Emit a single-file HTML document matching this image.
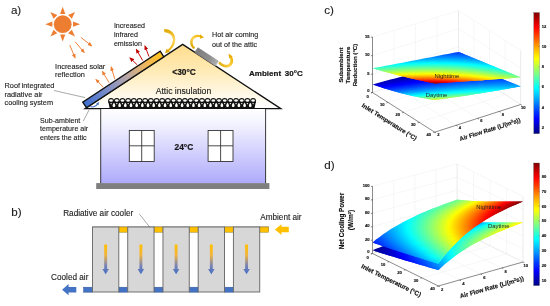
<!DOCTYPE html>
<html lang="en">
<head>
<meta charset="utf-8">
<title>Roof integrated radiative air cooling system</title>
<style>
html,body{margin:0;padding:0;background:#fff;}
body{width:550px;height:306px;overflow:hidden;}
svg{display:block;font-family:"Liberation Sans",Arial,sans-serif;}
.t{font-size:7.15px;fill:#222;stroke:#222;stroke-width:0.12px;}
.tb{font-size:8.35px;font-weight:bold;fill:#141414;stroke:#141414;stroke-width:0.2px;}
.lbl{font-size:11.6px;fill:#1a1a1a;stroke:#1a1a1a;stroke-width:0.12px;}
.t2{font-size:8.2px;fill:#222;stroke:#222;stroke-width:0.12px;}
.ax{font-size:6.15px;font-weight:bold;fill:#111;stroke:#111;stroke-width:0.15px;}
.tk text{font-size:4.1px;font-weight:bold;fill:#1a1a1a;stroke:#1a1a1a;stroke-width:0.18px;}
.sl{font-size:5.9px;fill:#1f1f1f;}
</style>
</head>
<body>
<svg width="550" height="306" viewBox="0 0 550 306">
<defs>
<linearGradient id="gattic" x1="0" y1="0" x2="0" y2="1">
<stop offset="0" stop-color="#fedc8c"/><stop offset="0.4" stop-color="#ffeab4"/><stop offset="0.72" stop-color="#fff6df"/><stop offset="0.95" stop-color="#fffefc"/>
</linearGradient>
<linearGradient id="ghouse" x1="0" y1="0" x2="0" y2="1">
<stop offset="0" stop-color="#ffffff"/><stop offset="0.2" stop-color="#f3f3ff"/><stop offset="1" stop-color="#aeaafb"/>
</linearGradient>
<linearGradient id="gpanel" gradientUnits="userSpaceOnUse" x1="85" y1="104" x2="162" y2="54">
<stop offset="0" stop-color="#3f6fd0"/><stop offset="0.3" stop-color="#7f8fc8"/><stop offset="0.55" stop-color="#b9a7a6"/><stop offset="0.8" stop-color="#f0b85a"/><stop offset="1" stop-color="#ffc21a"/>
</linearGradient>
<linearGradient id="gvent" gradientUnits="userSpaceOnUse" x1="196" y1="50" x2="218" y2="64">
<stop offset="0" stop-color="#7c7c7c"/><stop offset="0.6" stop-color="#8e8e8e"/><stop offset="1" stop-color="#b4b4b4"/>
</linearGradient>
<linearGradient id="garr" x1="0" y1="0" x2="0" y2="1">
<stop offset="0" stop-color="#ffc000"/><stop offset="0.35" stop-color="#f3b43a"/><stop offset="0.7" stop-color="#7d84b4"/><stop offset="1" stop-color="#3f6fc6"/>
</linearGradient>
<linearGradient id="ggold1" gradientUnits="userSpaceOnUse" x1="165" y1="30" x2="168" y2="52">
<stop offset="0" stop-color="#e0a800"/><stop offset="0.5" stop-color="#ffd65c"/><stop offset="1" stop-color="#e8ad00"/>
</linearGradient>
<linearGradient id="ggold2" gradientUnits="userSpaceOnUse" x1="194" y1="49" x2="203" y2="36">
<stop offset="0" stop-color="#d9a300"/><stop offset="0.5" stop-color="#ffd24d"/><stop offset="1" stop-color="#eeb100"/>
</linearGradient>
<linearGradient id="ggold3" gradientUnits="userSpaceOnUse" x1="219" y1="66" x2="230" y2="55">
<stop offset="0" stop-color="#d9a300"/><stop offset="0.5" stop-color="#ffd24d"/><stop offset="1" stop-color="#eeb100"/>
</linearGradient>
<marker id="mo" viewBox="0 0 10 10" refX="7" refY="5" markerWidth="5.1" markerHeight="5.1" orient="auto-start-reverse"><path d="M0 1 L10 5 L0 9 Z" fill="#ed7d31"/></marker>
<marker id="mr" viewBox="0 0 10 10" refX="7" refY="5" markerWidth="5.1" markerHeight="5.1" orient="auto-start-reverse"><path d="M0 1 L10 5 L0 9 Z" fill="#c00000"/></marker>
</defs>
<rect width="550" height="306" fill="#fff"/>

<!-- ===== panel a ===== -->
<text class="lbl" x="10.9" y="13.6">a)</text>
<!-- sun -->
<g fill="#ed7d31">
<circle cx="62.7" cy="24.2" r="8.9"/>
<g id="ray"><path d="M62.7 6.8 L65.3 13.9 L60.1 13.9 Z"/></g>
<use href="#ray" transform="rotate(45 62.7 24.2)"/>
<use href="#ray" transform="rotate(90 62.7 24.2)"/>
<use href="#ray" transform="rotate(135 62.7 24.2)"/>
<use href="#ray" transform="rotate(180 62.7 24.2)"/>
<use href="#ray" transform="rotate(225 62.7 24.2)"/>
<use href="#ray" transform="rotate(270 62.7 24.2)"/>
<use href="#ray" transform="rotate(315 62.7 24.2)"/>
</g>
<!-- sun arrows -->
<g stroke="#ed7d31" stroke-width="0.95" fill="none" marker-end="url(#mo)">
<line x1="69.8" y1="45.1" x2="74.9" y2="57.4"/>
<line x1="75.2" y1="41.8" x2="83.9" y2="52.2"/>
<line x1="80.9" y1="37.4" x2="91.3" y2="45.5"/>
<line x1="103.4" y1="87.3" x2="96.3" y2="79.8"/>
<line x1="109.1" y1="82.7" x2="102.6" y2="71.8"/>
<line x1="114.8" y1="79.1" x2="111.3" y2="67.5"/>
</g>
<g stroke="#c00000" stroke-width="0.95" fill="none" marker-end="url(#mr)">
<line x1="137.2" y1="64.8" x2="130.3" y2="58.2"/>
<line x1="142.7" y1="60.5" x2="136.5" y2="49.8"/>
<line x1="149" y1="56.6" x2="145.1" y2="46.4"/>
</g>

<!-- roof / attic -->
<path d="M182.7 44.4 L280.8 108.7 L85.1 108.7 Z" fill="url(#gattic)" stroke="#111" stroke-width="1.3" stroke-linejoin="miter"/>
<!-- house body -->
<rect x="100.7" y="109" width="164.9" height="74.4" fill="url(#ghouse)"/>
<line x1="100.7" y1="109" x2="100.7" y2="183.4" stroke="#222" stroke-width="0.9"/>
<line x1="265.6" y1="109" x2="265.6" y2="183.4" stroke="#222" stroke-width="0.9"/>
<rect x="96.2" y="183.1" width="173.2" height="5.9" fill="#7f7f7f"/>
<!-- windows -->
<g fill="#fff" stroke="#2a2a2a" stroke-width="0.85">
<rect x="129.3" y="130.5" width="24.9" height="31"/>
<rect x="208.1" y="130.5" width="24.9" height="31"/>
</g>
<g stroke="#2a2a2a" stroke-width="0.85">
<line x1="141.7" y1="130.5" x2="141.7" y2="161.5"/><line x1="129.3" y1="145.8" x2="154.2" y2="145.8"/>
<line x1="220.6" y1="130.5" x2="220.6" y2="161.5"/><line x1="208.1" y1="145.8" x2="233" y2="145.8"/>
</g>
<!-- insulation coils -->
<g fill="#111"><path d="M108.3 101.2L255.9 101.2L254.6 108.2L109.6 108.2Z"/><circle cx="111.1" cy="100.9" r="2.95"/><circle cx="116.78" cy="100.9" r="2.95"/><circle cx="122.46" cy="100.9" r="2.95"/><circle cx="128.14" cy="100.9" r="2.95"/><circle cx="133.82" cy="100.9" r="2.95"/><circle cx="139.5" cy="100.9" r="2.95"/><circle cx="145.18" cy="100.9" r="2.95"/><circle cx="150.86" cy="100.9" r="2.95"/><circle cx="156.54" cy="100.9" r="2.95"/><circle cx="162.22" cy="100.9" r="2.95"/><circle cx="167.9" cy="100.9" r="2.95"/><circle cx="173.58" cy="100.9" r="2.95"/><circle cx="179.26" cy="100.9" r="2.95"/><circle cx="184.94" cy="100.9" r="2.95"/><circle cx="190.62" cy="100.9" r="2.95"/><circle cx="196.3" cy="100.9" r="2.95"/><circle cx="201.98" cy="100.9" r="2.95"/><circle cx="207.66" cy="100.9" r="2.95"/><circle cx="213.34" cy="100.9" r="2.95"/><circle cx="219.02" cy="100.9" r="2.95"/><circle cx="224.7" cy="100.9" r="2.95"/><circle cx="230.38" cy="100.9" r="2.95"/><circle cx="236.06" cy="100.9" r="2.95"/><circle cx="241.74" cy="100.9" r="2.95"/><circle cx="247.42" cy="100.9" r="2.95"/><circle cx="253.1" cy="100.9" r="2.95"/></g><g fill="#fffdf8"><ellipse cx="111.1" cy="100.55" rx="1.8" ry="1.25"/><path d="M110.25 102.9L111.95 102.9L111.1 104.5Z"/><path d="M113.94 102.7C112.14 104.4 112.19 107.1 113.94 107.1C115.69 107.1 115.74 104.4 113.94 102.7Z"/><ellipse cx="116.78" cy="100.55" rx="1.8" ry="1.25"/><path d="M115.93 102.9L117.63 102.9L116.78 104.5Z"/><path d="M119.62 102.7C117.82 104.4 117.87 107.1 119.62 107.1C121.37 107.1 121.42 104.4 119.62 102.7Z"/><ellipse cx="122.46" cy="100.55" rx="1.8" ry="1.25"/><path d="M121.61 102.9L123.31 102.9L122.46 104.5Z"/><path d="M125.3 102.7C123.5 104.4 123.55 107.1 125.3 107.1C127.05 107.1 127.1 104.4 125.3 102.7Z"/><ellipse cx="128.14" cy="100.55" rx="1.8" ry="1.25"/><path d="M127.29 102.9L128.99 102.9L128.14 104.5Z"/><path d="M130.98 102.7C129.18 104.4 129.23 107.1 130.98 107.1C132.73 107.1 132.78 104.4 130.98 102.7Z"/><ellipse cx="133.82" cy="100.55" rx="1.8" ry="1.25"/><path d="M132.97 102.9L134.67 102.9L133.82 104.5Z"/><path d="M136.66 102.7C134.86 104.4 134.91 107.1 136.66 107.1C138.41 107.1 138.46 104.4 136.66 102.7Z"/><ellipse cx="139.5" cy="100.55" rx="1.8" ry="1.25"/><path d="M138.65 102.9L140.35 102.9L139.5 104.5Z"/><path d="M142.34 102.7C140.54 104.4 140.59 107.1 142.34 107.1C144.09 107.1 144.14 104.4 142.34 102.7Z"/><ellipse cx="145.18" cy="100.55" rx="1.8" ry="1.25"/><path d="M144.33 102.9L146.03 102.9L145.18 104.5Z"/><path d="M148.02 102.7C146.22 104.4 146.27 107.1 148.02 107.1C149.77 107.1 149.82 104.4 148.02 102.7Z"/><ellipse cx="150.86" cy="100.55" rx="1.8" ry="1.25"/><path d="M150.01 102.9L151.71 102.9L150.86 104.5Z"/><path d="M153.7 102.7C151.9 104.4 151.95 107.1 153.7 107.1C155.45 107.1 155.5 104.4 153.7 102.7Z"/><ellipse cx="156.54" cy="100.55" rx="1.8" ry="1.25"/><path d="M155.69 102.9L157.39 102.9L156.54 104.5Z"/><path d="M159.38 102.7C157.58 104.4 157.63 107.1 159.38 107.1C161.13 107.1 161.18 104.4 159.38 102.7Z"/><ellipse cx="162.22" cy="100.55" rx="1.8" ry="1.25"/><path d="M161.37 102.9L163.07 102.9L162.22 104.5Z"/><path d="M165.06 102.7C163.26 104.4 163.31 107.1 165.06 107.1C166.81 107.1 166.86 104.4 165.06 102.7Z"/><ellipse cx="167.9" cy="100.55" rx="1.8" ry="1.25"/><path d="M167.05 102.9L168.75 102.9L167.9 104.5Z"/><path d="M170.74 102.7C168.94 104.4 168.99 107.1 170.74 107.1C172.49 107.1 172.54 104.4 170.74 102.7Z"/><ellipse cx="173.58" cy="100.55" rx="1.8" ry="1.25"/><path d="M172.73 102.9L174.43 102.9L173.58 104.5Z"/><path d="M176.42 102.7C174.62 104.4 174.67 107.1 176.42 107.1C178.17 107.1 178.22 104.4 176.42 102.7Z"/><ellipse cx="179.26" cy="100.55" rx="1.8" ry="1.25"/><path d="M178.41 102.9L180.11 102.9L179.26 104.5Z"/><path d="M182.1 102.7C180.3 104.4 180.35 107.1 182.1 107.1C183.85 107.1 183.9 104.4 182.1 102.7Z"/><ellipse cx="184.94" cy="100.55" rx="1.8" ry="1.25"/><path d="M184.09 102.9L185.79 102.9L184.94 104.5Z"/><path d="M187.78 102.7C185.98 104.4 186.03 107.1 187.78 107.1C189.53 107.1 189.58 104.4 187.78 102.7Z"/><ellipse cx="190.62" cy="100.55" rx="1.8" ry="1.25"/><path d="M189.77 102.9L191.47 102.9L190.62 104.5Z"/><path d="M193.46 102.7C191.66 104.4 191.71 107.1 193.46 107.1C195.21 107.1 195.26 104.4 193.46 102.7Z"/><ellipse cx="196.3" cy="100.55" rx="1.8" ry="1.25"/><path d="M195.45 102.9L197.15 102.9L196.3 104.5Z"/><path d="M199.14 102.7C197.34 104.4 197.39 107.1 199.14 107.1C200.89 107.1 200.94 104.4 199.14 102.7Z"/><ellipse cx="201.98" cy="100.55" rx="1.8" ry="1.25"/><path d="M201.13 102.9L202.83 102.9L201.98 104.5Z"/><path d="M204.82 102.7C203.02 104.4 203.07 107.1 204.82 107.1C206.57 107.1 206.62 104.4 204.82 102.7Z"/><ellipse cx="207.66" cy="100.55" rx="1.8" ry="1.25"/><path d="M206.81 102.9L208.51 102.9L207.66 104.5Z"/><path d="M210.5 102.7C208.7 104.4 208.75 107.1 210.5 107.1C212.25 107.1 212.3 104.4 210.5 102.7Z"/><ellipse cx="213.34" cy="100.55" rx="1.8" ry="1.25"/><path d="M212.49 102.9L214.19 102.9L213.34 104.5Z"/><path d="M216.18 102.7C214.38 104.4 214.43 107.1 216.18 107.1C217.93 107.1 217.98 104.4 216.18 102.7Z"/><ellipse cx="219.02" cy="100.55" rx="1.8" ry="1.25"/><path d="M218.17 102.9L219.87 102.9L219.02 104.5Z"/><path d="M221.86 102.7C220.06 104.4 220.11 107.1 221.86 107.1C223.61 107.1 223.66 104.4 221.86 102.7Z"/><ellipse cx="224.7" cy="100.55" rx="1.8" ry="1.25"/><path d="M223.85 102.9L225.55 102.9L224.7 104.5Z"/><path d="M227.54 102.7C225.74 104.4 225.79 107.1 227.54 107.1C229.29 107.1 229.34 104.4 227.54 102.7Z"/><ellipse cx="230.38" cy="100.55" rx="1.8" ry="1.25"/><path d="M229.53 102.9L231.23 102.9L230.38 104.5Z"/><path d="M233.22 102.7C231.42 104.4 231.47 107.1 233.22 107.1C234.97 107.1 235.02 104.4 233.22 102.7Z"/><ellipse cx="236.06" cy="100.55" rx="1.8" ry="1.25"/><path d="M235.21 102.9L236.91 102.9L236.06 104.5Z"/><path d="M238.9 102.7C237.1 104.4 237.15 107.1 238.9 107.1C240.65 107.1 240.7 104.4 238.9 102.7Z"/><ellipse cx="241.74" cy="100.55" rx="1.8" ry="1.25"/><path d="M240.89 102.9L242.59 102.9L241.74 104.5Z"/><path d="M244.58 102.7C242.78 104.4 242.83 107.1 244.58 107.1C246.33 107.1 246.38 104.4 244.58 102.7Z"/><ellipse cx="247.42" cy="100.55" rx="1.8" ry="1.25"/><path d="M246.57 102.9L248.27 102.9L247.42 104.5Z"/><path d="M250.26 102.7C248.46 104.4 248.51 107.1 250.26 107.1C252.01 107.1 252.06 104.4 250.26 102.7Z"/><ellipse cx="253.1" cy="100.55" rx="1.8" ry="1.25"/><path d="M252.25 102.9L253.95 102.9L253.1 104.5Z"/></g>
<!-- radiative panel on roof -->
<path d="M86.4 107.7 L163.8 56.9 L160.2 51.2 L82.7 102.1 Z" fill="url(#gpanel)" stroke="#111" stroke-width="1.3" stroke-linejoin="miter"/>
<!-- vent on right roof -->
<path d="M194.9 52.4 L215.4 65.8 L218.3 61.1 L197.9 47.8 Z" fill="url(#gvent)" stroke="url(#gvent)" stroke-width="0.8" stroke-linejoin="round"/>
<!-- blue curved arrow under panel -->
<path d="M90.4 106.6 C92.6 107.6 96 106.6 97.9 103.6" fill="none" stroke="#4472c4" stroke-width="1.1"/>
<path d="M98.9 102 L98.6 105.3 L96.2 103.6 Z" fill="#4472c4"/>
<!-- gold curved arrows -->
<path d="M164.2 29 C170.6 28.9 175.4 33.4 175.3 39.6 C175.2 44.6 172.4 48.6 168.7 51.3 L167.6 49.8 C170.8 47 172.9 43.7 172.9 39.9 C172.9 35.6 170 32.9 164.3 32.2 Z" fill="url(#ggold1)"/>
<path d="M165 53.2 L166.6 48.7 L170 51.7 Z" fill="#dba400"/>
<path d="M193.6 49 C189.9 46.2 189.1 41.2 191.6 37.7 C193.8 34.8 197.6 34.1 200.8 35.3 L200.4 37.1 C198 36.5 195.3 37.1 193.7 39.3 C191.9 41.9 192.5 45.4 195.3 47.8 Z" fill="url(#ggold2)"/>
<path d="M204 37.4 L200.1 34.2 L199.8 38.8 Z" fill="#e6ac00"/>
<path d="M218.2 63 C221.6 67.8 228.2 69 231.6 65.3 C233.8 62.9 233.6 59.4 231.9 56.8 L230 57.8 C230.8 59.7 230.7 61.8 229.2 63.4 C226.9 65.8 222.8 64.9 219.9 61.6 Z" fill="url(#ggold3)"/>
<path d="M228.6 53.6 L232.7 56.6 L229.1 58.5 Z" fill="#e6ac00"/>
<!-- pointer lines -->
<line x1="54" y1="90.5" x2="85.1" y2="97.6" stroke="#555" stroke-width="0.5"/>
<line x1="89.2" y1="109.7" x2="83.2" y2="121.2" stroke="#555" stroke-width="0.5"/>
<!-- labels -->
<g class="t">
<g style="font-size:7.1px"><text x="113.9" y="28.3">Increased</text><text x="113.9" y="37">infrared</text><text x="113.9" y="45.7">emission</text></g>
<g style="font-size:7.35px"><text x="55.1" y="69">Increased solar</text><text x="55.1" y="77.4">reflection</text></g>
<g style="font-size:7.35px"><text x="4.5" y="87.8" style="word-spacing:-0.4px">Roof integrated</text><text x="4.5" y="96.6">radiative air</text><text x="4.5" y="105.3">cooling system</text></g>
<g style="font-size:7.1px"><text x="40.1" y="122.5">Sub-ambient</text><text x="40.1" y="131.3">temperature air</text><text x="40.1" y="140">enters the attic</text></g>
<g style="font-size:7.2px"><text x="212" y="37.3">Hot air coming</text><text x="212" y="46.9">out of the attic</text></g>
</g>
<text class="tb" x="172.3" y="75.1">&lt;30°C</text>
<text class="tb" x="249.1" y="75.9" style="font-size:8px;word-spacing:1.5px">Ambient 30°C</text>
<text class="tb" x="174.6" y="150.1">24°C</text>
<text x="155.7" y="93.8" style="font-size:8.62px;fill:#1c1c1c;stroke:#1c1c1c;stroke-width:0.12px">Attic insulation</text>

<!-- ===== panel b ===== -->
<text class="lbl" x="11.2" y="216.2">b)</text>
<line x1="92.5" y1="227" x2="269" y2="227" stroke="#555" stroke-width="0.7"/>
<rect x="118.8" y="227" width="8.93" height="5.2" fill="#ffc000" stroke="#9a7a10" stroke-width="0.5"/>
<rect x="83.57" y="287.2" width="8.93" height="5" fill="#4472c4" stroke="#2f528f" stroke-width="0.5"/>
<rect x="154.03" y="227" width="8.93" height="5.2" fill="#ffc000" stroke="#9a7a10" stroke-width="0.5"/>
<rect x="118.8" y="287.2" width="8.93" height="5" fill="#4472c4" stroke="#2f528f" stroke-width="0.5"/>
<rect x="189.26" y="227" width="8.93" height="5.2" fill="#ffc000" stroke="#9a7a10" stroke-width="0.5"/>
<rect x="154.03" y="287.2" width="8.93" height="5" fill="#4472c4" stroke="#2f528f" stroke-width="0.5"/>
<rect x="224.49" y="227" width="8.93" height="5.2" fill="#ffc000" stroke="#9a7a10" stroke-width="0.5"/>
<rect x="189.26" y="287.2" width="8.93" height="5" fill="#4472c4" stroke="#2f528f" stroke-width="0.5"/>
<rect x="259.72" y="227" width="8.93" height="5.2" fill="#ffc000" stroke="#9a7a10" stroke-width="0.5"/>
<rect x="224.49" y="287.2" width="8.93" height="5" fill="#4472c4" stroke="#2f528f" stroke-width="0.5"/>
<rect x="92.5" y="227" width="26.3" height="65" fill="#d7d7d7" stroke="#6a6a6a" stroke-width="0.95"/>
<path d="M104.2 244.6 L107.1 244.6 L107.1 268.9 L108.95 268.9 L105.65 274.3 L102.35 268.9 L104.2 268.9 Z" fill="url(#garr)"/>
<rect x="127.73" y="227" width="26.3" height="65" fill="#d7d7d7" stroke="#6a6a6a" stroke-width="0.95"/>
<path d="M139.43 244.6 L142.33 244.6 L142.33 268.9 L144.18 268.9 L140.88 274.3 L137.58 268.9 L139.43 268.9 Z" fill="url(#garr)"/>
<rect x="162.96" y="227" width="26.3" height="65" fill="#d7d7d7" stroke="#6a6a6a" stroke-width="0.95"/>
<path d="M174.66 244.6 L177.56 244.6 L177.56 268.9 L179.41 268.9 L176.11 274.3 L172.81 268.9 L174.66 268.9 Z" fill="url(#garr)"/>
<rect x="198.19" y="227" width="26.3" height="65" fill="#d7d7d7" stroke="#6a6a6a" stroke-width="0.95"/>
<path d="M209.89 244.6 L212.79 244.6 L212.79 268.9 L214.64 268.9 L211.34 274.3 L208.04 268.9 L209.89 268.9 Z" fill="url(#garr)"/>
<rect x="233.42" y="227" width="26.3" height="65" fill="#d7d7d7" stroke="#6a6a6a" stroke-width="0.95"/>
<path d="M245.12 244.6 L248.02 244.6 L248.02 268.9 L249.87 268.9 L246.57 274.3 L243.27 268.9 L245.12 268.9 Z" fill="url(#garr)"/>
<line x1="139.3" y1="213.9" x2="149.6" y2="226.9" stroke="#555" stroke-width="0.5"/>
<path d="M274.9 229.6 L281.5 224.2 L281.5 226.8 L288.8 226.8 L288.8 232.3 L281.5 232.3 L281.5 235.1 Z" fill="#ffc000"/>
<path d="M62.1 289.7 L68.6 284.1 L68.6 286.9 L76.3 286.9 L76.3 292.6 L68.6 292.6 L68.6 295.2 Z" fill="#4472c4"/>
<g class="t2">
<text x="63.2" y="215.9">Radiative air cooler</text>
<text x="260.2" y="219.6">Ambient air</text>
<text x="51.1" y="280.4">Cooled air</text>
</g>

<!-- ===== charts ===== -->
<text class="lbl" x="324.3" y="13.7">c)</text>
<text class="lbl" x="324.2" y="168.5">d)</text>
<!-- chart c -->
<line x1="394" y1="85.58" x2="394" y2="30.41" stroke="#eeeeee" stroke-width="0.5"/>
<line x1="394" y1="85.58" x2="456.2" y2="125.27" stroke="#eeeeee" stroke-width="0.5"/>
<line x1="415.5" y1="78.65" x2="415.5" y2="23.82" stroke="#eeeeee" stroke-width="0.5"/>
<line x1="415.5" y1="78.65" x2="477.7" y2="118.35" stroke="#eeeeee" stroke-width="0.5"/>
<line x1="437" y1="71.73" x2="437" y2="17.22" stroke="#eeeeee" stroke-width="0.5"/>
<line x1="437" y1="71.73" x2="499.2" y2="111.42" stroke="#eeeeee" stroke-width="0.5"/>
<line x1="474.05" y1="74.73" x2="474.05" y2="20.56" stroke="#eeeeee" stroke-width="0.5"/>
<line x1="388.05" y1="102.42" x2="474.05" y2="74.73" stroke="#eeeeee" stroke-width="0.5"/>
<line x1="489.6" y1="84.65" x2="489.6" y2="30.48" stroke="#eeeeee" stroke-width="0.5"/>
<line x1="403.6" y1="112.35" x2="489.6" y2="84.65" stroke="#eeeeee" stroke-width="0.5"/>
<line x1="505.15" y1="94.58" x2="505.15" y2="40.41" stroke="#eeeeee" stroke-width="0.5"/>
<line x1="419.15" y1="122.27" x2="505.15" y2="94.58" stroke="#eeeeee" stroke-width="0.5"/>
<line x1="372.5" y1="74" x2="458.5" y2="46.74" stroke="#eeeeee" stroke-width="0.5"/>
<line x1="458.5" y1="46.74" x2="520.7" y2="86.44" stroke="#eeeeee" stroke-width="0.5"/>
<line x1="372.5" y1="55.5" x2="458.5" y2="28.69" stroke="#eeeeee" stroke-width="0.5"/>
<line x1="458.5" y1="28.69" x2="520.7" y2="68.39" stroke="#eeeeee" stroke-width="0.5"/>
<line x1="372.5" y1="37" x2="458.5" y2="10.63" stroke="#eeeeee" stroke-width="0.5"/>
<line x1="458.5" y1="10.63" x2="520.7" y2="50.33" stroke="#eeeeee" stroke-width="0.5"/>
<line x1="458.5" y1="64.8" x2="458.5" y2="10.63" stroke="#dedede" stroke-width="0.6"/>
<line x1="520.7" y1="104.5" x2="520.7" y2="50.33" stroke="#dedede" stroke-width="0.6"/>
<line x1="372.5" y1="92.5" x2="458.5" y2="64.8" stroke="#dedede" stroke-width="0.6"/>
<line x1="458.5" y1="64.8" x2="520.7" y2="104.5" stroke="#dedede" stroke-width="0.6"/>
<defs><linearGradient id="cd0" gradientUnits="userSpaceOnUse" x1="373.4" y1="84.7" x2="459.4" y2="61.5"><stop offset="0.000" stop-color="#0000cb"/><stop offset="0.042" stop-color="#0000c6"/><stop offset="0.083" stop-color="#0000c1"/><stop offset="0.125" stop-color="#0000bc"/><stop offset="0.166" stop-color="#0000b7"/><stop offset="0.208" stop-color="#0000b3"/><stop offset="0.250" stop-color="#0000ae"/><stop offset="0.291" stop-color="#0000a9"/><stop offset="0.333" stop-color="#0000a5"/><stop offset="0.374" stop-color="#0000a0"/><stop offset="0.416" stop-color="#00009c"/><stop offset="0.458" stop-color="#000097"/><stop offset="0.499" stop-color="#000093"/><stop offset="0.541" stop-color="#00008f"/><stop offset="0.583" stop-color="#00008a"/><stop offset="0.624" stop-color="#000086"/><stop offset="0.666" stop-color="#000082"/><stop offset="0.708" stop-color="#000080"/><stop offset="0.750" stop-color="#000080"/><stop offset="0.791" stop-color="#000080"/><stop offset="0.833" stop-color="#000080"/><stop offset="0.875" stop-color="#000080"/><stop offset="0.916" stop-color="#000080"/><stop offset="0.958" stop-color="#000080"/><stop offset="1.000" stop-color="#000080"/></linearGradient><linearGradient id="cd1" gradientUnits="userSpaceOnUse" x1="375.1" y1="85.3" x2="461.1" y2="62.2"><stop offset="0.000" stop-color="#0000d6"/><stop offset="0.042" stop-color="#0000d1"/><stop offset="0.083" stop-color="#0000cc"/><stop offset="0.125" stop-color="#0000c7"/><stop offset="0.166" stop-color="#0000c2"/><stop offset="0.208" stop-color="#0000bd"/><stop offset="0.250" stop-color="#0000b8"/><stop offset="0.291" stop-color="#0000b4"/><stop offset="0.333" stop-color="#0000af"/><stop offset="0.374" stop-color="#0000aa"/><stop offset="0.416" stop-color="#0000a6"/><stop offset="0.458" stop-color="#0000a1"/><stop offset="0.499" stop-color="#00009d"/><stop offset="0.541" stop-color="#000098"/><stop offset="0.583" stop-color="#000094"/><stop offset="0.624" stop-color="#000090"/><stop offset="0.666" stop-color="#00008c"/><stop offset="0.708" stop-color="#000087"/><stop offset="0.750" stop-color="#000083"/><stop offset="0.791" stop-color="#000080"/><stop offset="0.833" stop-color="#000080"/><stop offset="0.875" stop-color="#000080"/><stop offset="0.916" stop-color="#000080"/><stop offset="0.958" stop-color="#000080"/><stop offset="1.000" stop-color="#000080"/></linearGradient><linearGradient id="cd2" gradientUnits="userSpaceOnUse" x1="376.8" y1="85.9" x2="462.8" y2="62.9"><stop offset="0.000" stop-color="#0000e2"/><stop offset="0.042" stop-color="#0000dd"/><stop offset="0.083" stop-color="#0000d7"/><stop offset="0.125" stop-color="#0000d2"/><stop offset="0.166" stop-color="#0000cd"/><stop offset="0.208" stop-color="#0000c8"/><stop offset="0.250" stop-color="#0000c3"/><stop offset="0.291" stop-color="#0000be"/><stop offset="0.333" stop-color="#0000b9"/><stop offset="0.374" stop-color="#0000b5"/><stop offset="0.416" stop-color="#0000b0"/><stop offset="0.458" stop-color="#0000ab"/><stop offset="0.499" stop-color="#0000a7"/><stop offset="0.541" stop-color="#0000a2"/><stop offset="0.583" stop-color="#00009e"/><stop offset="0.624" stop-color="#000099"/><stop offset="0.666" stop-color="#000095"/><stop offset="0.708" stop-color="#000091"/><stop offset="0.750" stop-color="#00008d"/><stop offset="0.791" stop-color="#000089"/><stop offset="0.833" stop-color="#000085"/><stop offset="0.875" stop-color="#000081"/><stop offset="0.916" stop-color="#000080"/><stop offset="0.958" stop-color="#000080"/><stop offset="1.000" stop-color="#000080"/></linearGradient><linearGradient id="cd3" gradientUnits="userSpaceOnUse" x1="378.5" y1="86.5" x2="464.5" y2="63.6"><stop offset="0.000" stop-color="#0000ee"/><stop offset="0.042" stop-color="#0000e8"/><stop offset="0.083" stop-color="#0000e3"/><stop offset="0.125" stop-color="#0000de"/><stop offset="0.166" stop-color="#0000d8"/><stop offset="0.208" stop-color="#0000d3"/><stop offset="0.250" stop-color="#0000ce"/><stop offset="0.291" stop-color="#0000c9"/><stop offset="0.333" stop-color="#0000c4"/><stop offset="0.374" stop-color="#0000bf"/><stop offset="0.416" stop-color="#0000ba"/><stop offset="0.458" stop-color="#0000b5"/><stop offset="0.499" stop-color="#0000b1"/><stop offset="0.541" stop-color="#0000ac"/><stop offset="0.583" stop-color="#0000a8"/><stop offset="0.624" stop-color="#0000a3"/><stop offset="0.666" stop-color="#00009f"/><stop offset="0.708" stop-color="#00009a"/><stop offset="0.750" stop-color="#000096"/><stop offset="0.791" stop-color="#000092"/><stop offset="0.833" stop-color="#00008e"/><stop offset="0.875" stop-color="#00008a"/><stop offset="0.916" stop-color="#000086"/><stop offset="0.958" stop-color="#000082"/><stop offset="1.000" stop-color="#000080"/></linearGradient><linearGradient id="cd4" gradientUnits="userSpaceOnUse" x1="380.3" y1="87" x2="466.3" y2="64.3"><stop offset="0.000" stop-color="#0000fa"/><stop offset="0.042" stop-color="#0000f4"/><stop offset="0.083" stop-color="#0000ef"/><stop offset="0.125" stop-color="#0000e9"/><stop offset="0.166" stop-color="#0000e4"/><stop offset="0.208" stop-color="#0000de"/><stop offset="0.250" stop-color="#0000d9"/><stop offset="0.291" stop-color="#0000d4"/><stop offset="0.333" stop-color="#0000cf"/><stop offset="0.374" stop-color="#0000ca"/><stop offset="0.416" stop-color="#0000c5"/><stop offset="0.458" stop-color="#0000c0"/><stop offset="0.499" stop-color="#0000bb"/><stop offset="0.541" stop-color="#0000b6"/><stop offset="0.583" stop-color="#0000b2"/><stop offset="0.624" stop-color="#0000ad"/><stop offset="0.666" stop-color="#0000a8"/><stop offset="0.708" stop-color="#0000a4"/><stop offset="0.750" stop-color="#0000a0"/><stop offset="0.791" stop-color="#00009b"/><stop offset="0.833" stop-color="#000097"/><stop offset="0.875" stop-color="#000093"/><stop offset="0.916" stop-color="#00008f"/><stop offset="0.958" stop-color="#00008b"/><stop offset="1.000" stop-color="#000087"/></linearGradient><linearGradient id="cd5" gradientUnits="userSpaceOnUse" x1="382" y1="87.6" x2="468" y2="65.1"><stop offset="0.000" stop-color="#0007ff"/><stop offset="0.042" stop-color="#0001ff"/><stop offset="0.083" stop-color="#0000fb"/><stop offset="0.125" stop-color="#0000f5"/><stop offset="0.166" stop-color="#0000ef"/><stop offset="0.208" stop-color="#0000ea"/><stop offset="0.249" stop-color="#0000e4"/><stop offset="0.291" stop-color="#0000df"/><stop offset="0.333" stop-color="#0000da"/><stop offset="0.374" stop-color="#0000d5"/><stop offset="0.416" stop-color="#0000cf"/><stop offset="0.458" stop-color="#0000ca"/><stop offset="0.499" stop-color="#0000c5"/><stop offset="0.541" stop-color="#0000c0"/><stop offset="0.583" stop-color="#0000bc"/><stop offset="0.624" stop-color="#0000b7"/><stop offset="0.666" stop-color="#0000b2"/><stop offset="0.708" stop-color="#0000ae"/><stop offset="0.749" stop-color="#0000a9"/><stop offset="0.791" stop-color="#0000a5"/><stop offset="0.833" stop-color="#0000a0"/><stop offset="0.875" stop-color="#00009c"/><stop offset="0.916" stop-color="#000098"/><stop offset="0.958" stop-color="#000094"/><stop offset="1.000" stop-color="#000090"/></linearGradient><linearGradient id="cd6" gradientUnits="userSpaceOnUse" x1="383.7" y1="88.2" x2="469.7" y2="65.8"><stop offset="0.000" stop-color="#0014ff"/><stop offset="0.042" stop-color="#000eff"/><stop offset="0.083" stop-color="#0008ff"/><stop offset="0.125" stop-color="#0002ff"/><stop offset="0.166" stop-color="#0000fb"/><stop offset="0.208" stop-color="#0000f5"/><stop offset="0.249" stop-color="#0000f0"/><stop offset="0.291" stop-color="#0000ea"/><stop offset="0.333" stop-color="#0000e5"/><stop offset="0.374" stop-color="#0000df"/><stop offset="0.416" stop-color="#0000da"/><stop offset="0.458" stop-color="#0000d5"/><stop offset="0.499" stop-color="#0000d0"/><stop offset="0.541" stop-color="#0000cb"/><stop offset="0.583" stop-color="#0000c6"/><stop offset="0.624" stop-color="#0000c1"/><stop offset="0.666" stop-color="#0000bc"/><stop offset="0.708" stop-color="#0000b7"/><stop offset="0.749" stop-color="#0000b3"/><stop offset="0.791" stop-color="#0000ae"/><stop offset="0.833" stop-color="#0000aa"/><stop offset="0.875" stop-color="#0000a5"/><stop offset="0.916" stop-color="#0000a1"/><stop offset="0.958" stop-color="#00009d"/><stop offset="1.000" stop-color="#000099"/></linearGradient><linearGradient id="cd7" gradientUnits="userSpaceOnUse" x1="385.5" y1="88.7" x2="471.5" y2="66.5"><stop offset="0.000" stop-color="#0020ff"/><stop offset="0.042" stop-color="#001aff"/><stop offset="0.083" stop-color="#0014ff"/><stop offset="0.125" stop-color="#000eff"/><stop offset="0.166" stop-color="#0008ff"/><stop offset="0.208" stop-color="#0002ff"/><stop offset="0.249" stop-color="#0000fb"/><stop offset="0.291" stop-color="#0000f6"/><stop offset="0.333" stop-color="#0000f0"/><stop offset="0.374" stop-color="#0000eb"/><stop offset="0.416" stop-color="#0000e5"/><stop offset="0.458" stop-color="#0000e0"/><stop offset="0.499" stop-color="#0000da"/><stop offset="0.541" stop-color="#0000d5"/><stop offset="0.583" stop-color="#0000d0"/><stop offset="0.624" stop-color="#0000cb"/><stop offset="0.666" stop-color="#0000c6"/><stop offset="0.708" stop-color="#0000c1"/><stop offset="0.749" stop-color="#0000bc"/><stop offset="0.791" stop-color="#0000b8"/><stop offset="0.833" stop-color="#0000b3"/><stop offset="0.875" stop-color="#0000af"/><stop offset="0.916" stop-color="#0000aa"/><stop offset="0.958" stop-color="#0000a6"/><stop offset="1.000" stop-color="#0000a2"/></linearGradient><linearGradient id="cd8" gradientUnits="userSpaceOnUse" x1="387.2" y1="89.3" x2="473.2" y2="67.2"><stop offset="0.000" stop-color="#002dff"/><stop offset="0.042" stop-color="#0027ff"/><stop offset="0.083" stop-color="#0021ff"/><stop offset="0.125" stop-color="#001aff"/><stop offset="0.166" stop-color="#0014ff"/><stop offset="0.208" stop-color="#000eff"/><stop offset="0.249" stop-color="#0008ff"/><stop offset="0.291" stop-color="#0002ff"/><stop offset="0.333" stop-color="#0000fc"/><stop offset="0.374" stop-color="#0000f6"/><stop offset="0.416" stop-color="#0000f0"/><stop offset="0.458" stop-color="#0000eb"/><stop offset="0.499" stop-color="#0000e5"/><stop offset="0.541" stop-color="#0000e0"/><stop offset="0.583" stop-color="#0000db"/><stop offset="0.624" stop-color="#0000d5"/><stop offset="0.666" stop-color="#0000d0"/><stop offset="0.708" stop-color="#0000cb"/><stop offset="0.749" stop-color="#0000c6"/><stop offset="0.791" stop-color="#0000c1"/><stop offset="0.833" stop-color="#0000bd"/><stop offset="0.875" stop-color="#0000b8"/><stop offset="0.916" stop-color="#0000b3"/><stop offset="0.958" stop-color="#0000af"/><stop offset="1.000" stop-color="#0000ab"/></linearGradient><linearGradient id="cd9" gradientUnits="userSpaceOnUse" x1="388.9" y1="89.8" x2="474.9" y2="67.9"><stop offset="0.000" stop-color="#003bff"/><stop offset="0.042" stop-color="#0034ff"/><stop offset="0.083" stop-color="#002eff"/><stop offset="0.125" stop-color="#0027ff"/><stop offset="0.166" stop-color="#0021ff"/><stop offset="0.208" stop-color="#001aff"/><stop offset="0.249" stop-color="#0014ff"/><stop offset="0.291" stop-color="#000eff"/><stop offset="0.333" stop-color="#0008ff"/><stop offset="0.374" stop-color="#0002ff"/><stop offset="0.416" stop-color="#0000fb"/><stop offset="0.458" stop-color="#0000f6"/><stop offset="0.499" stop-color="#0000f0"/><stop offset="0.541" stop-color="#0000eb"/><stop offset="0.583" stop-color="#0000e5"/><stop offset="0.624" stop-color="#0000e0"/><stop offset="0.666" stop-color="#0000da"/><stop offset="0.708" stop-color="#0000d5"/><stop offset="0.749" stop-color="#0000d0"/><stop offset="0.791" stop-color="#0000cb"/><stop offset="0.833" stop-color="#0000c6"/><stop offset="0.875" stop-color="#0000c1"/><stop offset="0.916" stop-color="#0000bd"/><stop offset="0.958" stop-color="#0000b8"/><stop offset="1.000" stop-color="#0000b4"/></linearGradient><linearGradient id="cd10" gradientUnits="userSpaceOnUse" x1="390.6" y1="90.3" x2="476.6" y2="68.6"><stop offset="0.000" stop-color="#0048ff"/><stop offset="0.042" stop-color="#0041ff"/><stop offset="0.083" stop-color="#003bff"/><stop offset="0.125" stop-color="#0034ff"/><stop offset="0.166" stop-color="#002dff"/><stop offset="0.208" stop-color="#0027ff"/><stop offset="0.249" stop-color="#0020ff"/><stop offset="0.291" stop-color="#001aff"/><stop offset="0.333" stop-color="#0014ff"/><stop offset="0.374" stop-color="#000eff"/><stop offset="0.416" stop-color="#0008ff"/><stop offset="0.458" stop-color="#0002ff"/><stop offset="0.499" stop-color="#0000fb"/><stop offset="0.541" stop-color="#0000f5"/><stop offset="0.583" stop-color="#0000f0"/><stop offset="0.624" stop-color="#0000ea"/><stop offset="0.666" stop-color="#0000e5"/><stop offset="0.708" stop-color="#0000df"/><stop offset="0.749" stop-color="#0000da"/><stop offset="0.791" stop-color="#0000d5"/><stop offset="0.833" stop-color="#0000d0"/><stop offset="0.875" stop-color="#0000cb"/><stop offset="0.916" stop-color="#0000c6"/><stop offset="0.958" stop-color="#0000c1"/><stop offset="1.000" stop-color="#0000bd"/></linearGradient><linearGradient id="cd11" gradientUnits="userSpaceOnUse" x1="392.4" y1="90.8" x2="478.4" y2="69.3"><stop offset="0.000" stop-color="#0056ff"/><stop offset="0.042" stop-color="#004fff"/><stop offset="0.083" stop-color="#0048ff"/><stop offset="0.125" stop-color="#0041ff"/><stop offset="0.166" stop-color="#003aff"/><stop offset="0.208" stop-color="#0033ff"/><stop offset="0.249" stop-color="#002dff"/><stop offset="0.291" stop-color="#0026ff"/><stop offset="0.333" stop-color="#0020ff"/><stop offset="0.374" stop-color="#001aff"/><stop offset="0.416" stop-color="#0013ff"/><stop offset="0.458" stop-color="#000dff"/><stop offset="0.499" stop-color="#0007ff"/><stop offset="0.541" stop-color="#0001ff"/><stop offset="0.583" stop-color="#0000fb"/><stop offset="0.624" stop-color="#0000f5"/><stop offset="0.666" stop-color="#0000ef"/><stop offset="0.708" stop-color="#0000ea"/><stop offset="0.749" stop-color="#0000e4"/><stop offset="0.791" stop-color="#0000df"/><stop offset="0.833" stop-color="#0000da"/><stop offset="0.875" stop-color="#0000d4"/><stop offset="0.916" stop-color="#0000cf"/><stop offset="0.958" stop-color="#0000ca"/><stop offset="1.000" stop-color="#0000c6"/></linearGradient><linearGradient id="cd12" gradientUnits="userSpaceOnUse" x1="394.1" y1="91.3" x2="480.1" y2="70"><stop offset="0.000" stop-color="#0064ff"/><stop offset="0.042" stop-color="#005dff"/><stop offset="0.083" stop-color="#0055ff"/><stop offset="0.125" stop-color="#004eff"/><stop offset="0.166" stop-color="#0047ff"/><stop offset="0.208" stop-color="#0040ff"/><stop offset="0.249" stop-color="#0039ff"/><stop offset="0.291" stop-color="#0033ff"/><stop offset="0.333" stop-color="#002cff"/><stop offset="0.374" stop-color="#0026ff"/><stop offset="0.416" stop-color="#001fff"/><stop offset="0.457" stop-color="#0019ff"/><stop offset="0.499" stop-color="#0013ff"/><stop offset="0.541" stop-color="#000cff"/><stop offset="0.583" stop-color="#0006ff"/><stop offset="0.624" stop-color="#0000ff"/><stop offset="0.666" stop-color="#0000fa"/><stop offset="0.708" stop-color="#0000f4"/><stop offset="0.749" stop-color="#0000ee"/><stop offset="0.791" stop-color="#0000e9"/><stop offset="0.833" stop-color="#0000e3"/><stop offset="0.875" stop-color="#0000de"/><stop offset="0.916" stop-color="#0000d9"/><stop offset="0.958" stop-color="#0000d4"/><stop offset="1.000" stop-color="#0000cf"/></linearGradient><linearGradient id="cd13" gradientUnits="userSpaceOnUse" x1="395.8" y1="91.8" x2="481.8" y2="70.7"><stop offset="0.000" stop-color="#0072ff"/><stop offset="0.042" stop-color="#006bff"/><stop offset="0.083" stop-color="#0063ff"/><stop offset="0.125" stop-color="#005cff"/><stop offset="0.166" stop-color="#0054ff"/><stop offset="0.208" stop-color="#004dff"/><stop offset="0.249" stop-color="#0046ff"/><stop offset="0.291" stop-color="#003fff"/><stop offset="0.333" stop-color="#0038ff"/><stop offset="0.374" stop-color="#0032ff"/><stop offset="0.416" stop-color="#002bff"/><stop offset="0.457" stop-color="#0024ff"/><stop offset="0.499" stop-color="#001eff"/><stop offset="0.541" stop-color="#0018ff"/><stop offset="0.582" stop-color="#0011ff"/><stop offset="0.624" stop-color="#000bff"/><stop offset="0.666" stop-color="#0005ff"/><stop offset="0.708" stop-color="#0000fe"/><stop offset="0.749" stop-color="#0000f9"/><stop offset="0.791" stop-color="#0000f3"/><stop offset="0.833" stop-color="#0000ed"/><stop offset="0.875" stop-color="#0000e8"/><stop offset="0.916" stop-color="#0000e2"/><stop offset="0.958" stop-color="#0000dd"/><stop offset="1.000" stop-color="#0000d8"/></linearGradient><linearGradient id="cd14" gradientUnits="userSpaceOnUse" x1="397.6" y1="92.3" x2="483.6" y2="71.5"><stop offset="0.000" stop-color="#0081ff"/><stop offset="0.042" stop-color="#0079ff"/><stop offset="0.083" stop-color="#0071ff"/><stop offset="0.125" stop-color="#0069ff"/><stop offset="0.166" stop-color="#0062ff"/><stop offset="0.208" stop-color="#005aff"/><stop offset="0.249" stop-color="#0053ff"/><stop offset="0.291" stop-color="#004cff"/><stop offset="0.333" stop-color="#0045ff"/><stop offset="0.374" stop-color="#003eff"/><stop offset="0.416" stop-color="#0037ff"/><stop offset="0.457" stop-color="#0030ff"/><stop offset="0.499" stop-color="#002aff"/><stop offset="0.541" stop-color="#0023ff"/><stop offset="0.582" stop-color="#001dff"/><stop offset="0.624" stop-color="#0016ff"/><stop offset="0.666" stop-color="#0010ff"/><stop offset="0.708" stop-color="#000aff"/><stop offset="0.749" stop-color="#0004ff"/><stop offset="0.791" stop-color="#0000fd"/><stop offset="0.833" stop-color="#0000f7"/><stop offset="0.875" stop-color="#0000f1"/><stop offset="0.916" stop-color="#0000ec"/><stop offset="0.958" stop-color="#0000e6"/><stop offset="1.000" stop-color="#0000e1"/></linearGradient><linearGradient id="cd15" gradientUnits="userSpaceOnUse" x1="399.3" y1="92.7" x2="485.3" y2="72.2"><stop offset="0.000" stop-color="#008fff"/><stop offset="0.042" stop-color="#0087ff"/><stop offset="0.083" stop-color="#007fff"/><stop offset="0.125" stop-color="#0077ff"/><stop offset="0.166" stop-color="#006fff"/><stop offset="0.208" stop-color="#0068ff"/><stop offset="0.249" stop-color="#0060ff"/><stop offset="0.291" stop-color="#0059ff"/><stop offset="0.333" stop-color="#0051ff"/><stop offset="0.374" stop-color="#004aff"/><stop offset="0.416" stop-color="#0043ff"/><stop offset="0.457" stop-color="#003cff"/><stop offset="0.499" stop-color="#0035ff"/><stop offset="0.541" stop-color="#002eff"/><stop offset="0.582" stop-color="#0028ff"/><stop offset="0.624" stop-color="#0021ff"/><stop offset="0.666" stop-color="#001bff"/><stop offset="0.708" stop-color="#0014ff"/><stop offset="0.749" stop-color="#000eff"/><stop offset="0.791" stop-color="#0008ff"/><stop offset="0.833" stop-color="#0002ff"/><stop offset="0.875" stop-color="#0000fb"/><stop offset="0.916" stop-color="#0000f5"/><stop offset="0.958" stop-color="#0000f0"/><stop offset="1.000" stop-color="#0000ea"/></linearGradient><linearGradient id="cd16" gradientUnits="userSpaceOnUse" x1="401" y1="93.2" x2="487" y2="72.9"><stop offset="0.000" stop-color="#009eff"/><stop offset="0.042" stop-color="#0096ff"/><stop offset="0.083" stop-color="#008eff"/><stop offset="0.125" stop-color="#0085ff"/><stop offset="0.166" stop-color="#007dff"/><stop offset="0.208" stop-color="#0075ff"/><stop offset="0.249" stop-color="#006eff"/><stop offset="0.291" stop-color="#0066ff"/><stop offset="0.333" stop-color="#005eff"/><stop offset="0.374" stop-color="#0057ff"/><stop offset="0.416" stop-color="#004fff"/><stop offset="0.457" stop-color="#0048ff"/><stop offset="0.499" stop-color="#0041ff"/><stop offset="0.541" stop-color="#003aff"/><stop offset="0.582" stop-color="#0033ff"/><stop offset="0.624" stop-color="#002cff"/><stop offset="0.666" stop-color="#0026ff"/><stop offset="0.708" stop-color="#001fff"/><stop offset="0.749" stop-color="#0019ff"/><stop offset="0.791" stop-color="#0012ff"/><stop offset="0.833" stop-color="#000cff"/><stop offset="0.875" stop-color="#0006ff"/><stop offset="0.916" stop-color="#0000ff"/><stop offset="0.958" stop-color="#0000f9"/><stop offset="1.000" stop-color="#0000f3"/></linearGradient><linearGradient id="cd17" gradientUnits="userSpaceOnUse" x1="402.7" y1="93.6" x2="488.7" y2="73.6"><stop offset="0.000" stop-color="#00adff"/><stop offset="0.042" stop-color="#00a5ff"/><stop offset="0.083" stop-color="#009cff"/><stop offset="0.125" stop-color="#0094ff"/><stop offset="0.166" stop-color="#008bff"/><stop offset="0.208" stop-color="#0083ff"/><stop offset="0.249" stop-color="#007bff"/><stop offset="0.291" stop-color="#0073ff"/><stop offset="0.332" stop-color="#006bff"/><stop offset="0.374" stop-color="#0063ff"/><stop offset="0.416" stop-color="#005cff"/><stop offset="0.457" stop-color="#0054ff"/><stop offset="0.499" stop-color="#004dff"/><stop offset="0.541" stop-color="#0046ff"/><stop offset="0.582" stop-color="#003fff"/><stop offset="0.624" stop-color="#0037ff"/><stop offset="0.666" stop-color="#0031ff"/><stop offset="0.708" stop-color="#002aff"/><stop offset="0.749" stop-color="#0023ff"/><stop offset="0.791" stop-color="#001dff"/><stop offset="0.833" stop-color="#0016ff"/><stop offset="0.875" stop-color="#0010ff"/><stop offset="0.916" stop-color="#000aff"/><stop offset="0.958" stop-color="#0003ff"/><stop offset="1.000" stop-color="#0000fc"/></linearGradient><linearGradient id="cd18" gradientUnits="userSpaceOnUse" x1="404.5" y1="94.1" x2="490.5" y2="74.3"><stop offset="0.000" stop-color="#00bdff"/><stop offset="0.042" stop-color="#00b4ff"/><stop offset="0.083" stop-color="#00abff"/><stop offset="0.125" stop-color="#00a2ff"/><stop offset="0.166" stop-color="#009aff"/><stop offset="0.208" stop-color="#0091ff"/><stop offset="0.249" stop-color="#0089ff"/><stop offset="0.291" stop-color="#0080ff"/><stop offset="0.332" stop-color="#0078ff"/><stop offset="0.374" stop-color="#0070ff"/><stop offset="0.416" stop-color="#0068ff"/><stop offset="0.457" stop-color="#0061ff"/><stop offset="0.499" stop-color="#0059ff"/><stop offset="0.541" stop-color="#0052ff"/><stop offset="0.582" stop-color="#004aff"/><stop offset="0.624" stop-color="#0043ff"/><stop offset="0.666" stop-color="#003cff"/><stop offset="0.708" stop-color="#0035ff"/><stop offset="0.749" stop-color="#002eff"/><stop offset="0.791" stop-color="#0027ff"/><stop offset="0.833" stop-color="#0020ff"/><stop offset="0.875" stop-color="#001aff"/><stop offset="0.916" stop-color="#0013ff"/><stop offset="0.958" stop-color="#000dff"/><stop offset="1.000" stop-color="#0007ff"/></linearGradient><linearGradient id="cd19" gradientUnits="userSpaceOnUse" x1="406.2" y1="94.5" x2="492.2" y2="75"><stop offset="0.000" stop-color="#00ccff"/><stop offset="0.042" stop-color="#00c3ff"/><stop offset="0.083" stop-color="#00baff"/><stop offset="0.125" stop-color="#00b1ff"/><stop offset="0.166" stop-color="#00a8ff"/><stop offset="0.208" stop-color="#009fff"/><stop offset="0.249" stop-color="#0097ff"/><stop offset="0.291" stop-color="#008eff"/><stop offset="0.332" stop-color="#0086ff"/><stop offset="0.374" stop-color="#007dff"/><stop offset="0.416" stop-color="#0075ff"/><stop offset="0.457" stop-color="#006dff"/><stop offset="0.499" stop-color="#0065ff"/><stop offset="0.541" stop-color="#005dff"/><stop offset="0.582" stop-color="#0056ff"/><stop offset="0.624" stop-color="#004eff"/><stop offset="0.666" stop-color="#0047ff"/><stop offset="0.708" stop-color="#0040ff"/><stop offset="0.749" stop-color="#0038ff"/><stop offset="0.791" stop-color="#0031ff"/><stop offset="0.833" stop-color="#002aff"/><stop offset="0.875" stop-color="#0024ff"/><stop offset="0.916" stop-color="#001dff"/><stop offset="0.958" stop-color="#0016ff"/><stop offset="1.000" stop-color="#0010ff"/></linearGradient><linearGradient id="cd20" gradientUnits="userSpaceOnUse" x1="407.9" y1="94.9" x2="493.9" y2="75.7"><stop offset="0.000" stop-color="#00dcff"/><stop offset="0.042" stop-color="#00d3ff"/><stop offset="0.083" stop-color="#00c9ff"/><stop offset="0.125" stop-color="#00c0ff"/><stop offset="0.166" stop-color="#00b7ff"/><stop offset="0.208" stop-color="#00aeff"/><stop offset="0.249" stop-color="#00a5ff"/><stop offset="0.291" stop-color="#009cff"/><stop offset="0.332" stop-color="#0093ff"/><stop offset="0.374" stop-color="#008bff"/><stop offset="0.416" stop-color="#0082ff"/><stop offset="0.457" stop-color="#007aff"/><stop offset="0.499" stop-color="#0072ff"/><stop offset="0.541" stop-color="#006aff"/><stop offset="0.582" stop-color="#0062ff"/><stop offset="0.624" stop-color="#005aff"/><stop offset="0.666" stop-color="#0052ff"/><stop offset="0.708" stop-color="#004bff"/><stop offset="0.749" stop-color="#0043ff"/><stop offset="0.791" stop-color="#003cff"/><stop offset="0.833" stop-color="#0035ff"/><stop offset="0.875" stop-color="#002eff"/><stop offset="0.916" stop-color="#0027ff"/><stop offset="0.958" stop-color="#0020ff"/><stop offset="1.000" stop-color="#0019ff"/></linearGradient><linearGradient id="cd21" gradientUnits="userSpaceOnUse" x1="409.6" y1="95.3" x2="495.6" y2="76.4"><stop offset="0.000" stop-color="#00ecff"/><stop offset="0.042" stop-color="#00e2ff"/><stop offset="0.083" stop-color="#00d9ff"/><stop offset="0.125" stop-color="#00cfff"/><stop offset="0.166" stop-color="#00c5ff"/><stop offset="0.208" stop-color="#00bcff"/><stop offset="0.249" stop-color="#00b3ff"/><stop offset="0.291" stop-color="#00aaff"/><stop offset="0.332" stop-color="#00a1ff"/><stop offset="0.374" stop-color="#0098ff"/><stop offset="0.416" stop-color="#008fff"/><stop offset="0.457" stop-color="#0087ff"/><stop offset="0.499" stop-color="#007eff"/><stop offset="0.541" stop-color="#0076ff"/><stop offset="0.582" stop-color="#006dff"/><stop offset="0.624" stop-color="#0065ff"/><stop offset="0.666" stop-color="#005dff"/><stop offset="0.708" stop-color="#0056ff"/><stop offset="0.749" stop-color="#004eff"/><stop offset="0.791" stop-color="#0046ff"/><stop offset="0.833" stop-color="#003fff"/><stop offset="0.875" stop-color="#0038ff"/><stop offset="0.916" stop-color="#0030ff"/><stop offset="0.958" stop-color="#0029ff"/><stop offset="1.000" stop-color="#0022ff"/></linearGradient><linearGradient id="cd22" gradientUnits="userSpaceOnUse" x1="411.4" y1="95.7" x2="497.4" y2="77.1"><stop offset="0.000" stop-color="#00fdff"/><stop offset="0.042" stop-color="#00f2ff"/><stop offset="0.083" stop-color="#00e8ff"/><stop offset="0.125" stop-color="#00deff"/><stop offset="0.166" stop-color="#00d4ff"/><stop offset="0.208" stop-color="#00cbff"/><stop offset="0.249" stop-color="#00c1ff"/><stop offset="0.291" stop-color="#00b8ff"/><stop offset="0.332" stop-color="#00aeff"/><stop offset="0.374" stop-color="#00a5ff"/><stop offset="0.416" stop-color="#009cff"/><stop offset="0.457" stop-color="#0093ff"/><stop offset="0.499" stop-color="#008bff"/><stop offset="0.541" stop-color="#0082ff"/><stop offset="0.582" stop-color="#0079ff"/><stop offset="0.624" stop-color="#0071ff"/><stop offset="0.666" stop-color="#0069ff"/><stop offset="0.708" stop-color="#0061ff"/><stop offset="0.749" stop-color="#0059ff"/><stop offset="0.791" stop-color="#0051ff"/><stop offset="0.833" stop-color="#0049ff"/><stop offset="0.875" stop-color="#0042ff"/><stop offset="0.916" stop-color="#003aff"/><stop offset="0.958" stop-color="#0033ff"/><stop offset="1.000" stop-color="#002cff"/></linearGradient><linearGradient id="cd23" gradientUnits="userSpaceOnUse" x1="413.1" y1="96.1" x2="499.1" y2="77.8"><stop offset="0.000" stop-color="#0efff1"/><stop offset="0.042" stop-color="#04fffb"/><stop offset="0.083" stop-color="#00f8ff"/><stop offset="0.125" stop-color="#00eeff"/><stop offset="0.166" stop-color="#00e4ff"/><stop offset="0.208" stop-color="#00daff"/><stop offset="0.249" stop-color="#00d0ff"/><stop offset="0.291" stop-color="#00c6ff"/><stop offset="0.332" stop-color="#00bcff"/><stop offset="0.374" stop-color="#00b3ff"/><stop offset="0.416" stop-color="#00aaff"/><stop offset="0.457" stop-color="#00a0ff"/><stop offset="0.499" stop-color="#0097ff"/><stop offset="0.541" stop-color="#008eff"/><stop offset="0.582" stop-color="#0086ff"/><stop offset="0.624" stop-color="#007dff"/><stop offset="0.666" stop-color="#0074ff"/><stop offset="0.707" stop-color="#006cff"/><stop offset="0.749" stop-color="#0064ff"/><stop offset="0.791" stop-color="#005cff"/><stop offset="0.833" stop-color="#0054ff"/><stop offset="0.875" stop-color="#004cff"/><stop offset="0.916" stop-color="#0044ff"/><stop offset="0.958" stop-color="#003dff"/><stop offset="1.000" stop-color="#0035ff"/></linearGradient><linearGradient id="cd24" gradientUnits="userSpaceOnUse" x1="414.8" y1="96.5" x2="500.8" y2="78.5"><stop offset="0.000" stop-color="#1fffe0"/><stop offset="0.042" stop-color="#14ffeb"/><stop offset="0.083" stop-color="#09fff6"/><stop offset="0.125" stop-color="#00feff"/><stop offset="0.166" stop-color="#00f3ff"/><stop offset="0.208" stop-color="#00e9ff"/><stop offset="0.249" stop-color="#00dfff"/><stop offset="0.291" stop-color="#00d5ff"/><stop offset="0.332" stop-color="#00cbff"/><stop offset="0.374" stop-color="#00c1ff"/><stop offset="0.416" stop-color="#00b7ff"/><stop offset="0.457" stop-color="#00aeff"/><stop offset="0.499" stop-color="#00a4ff"/><stop offset="0.541" stop-color="#009bff"/><stop offset="0.582" stop-color="#0092ff"/><stop offset="0.624" stop-color="#0089ff"/><stop offset="0.666" stop-color="#0080ff"/><stop offset="0.707" stop-color="#0077ff"/><stop offset="0.749" stop-color="#006fff"/><stop offset="0.791" stop-color="#0066ff"/><stop offset="0.833" stop-color="#005eff"/><stop offset="0.875" stop-color="#0056ff"/><stop offset="0.916" stop-color="#004eff"/><stop offset="0.958" stop-color="#0046ff"/><stop offset="1.000" stop-color="#003fff"/></linearGradient><linearGradient id="cd25" gradientUnits="userSpaceOnUse" x1="416.6" y1="96.8" x2="502.6" y2="79.2"><stop offset="0.000" stop-color="#30ffcf"/><stop offset="0.042" stop-color="#25ffda"/><stop offset="0.083" stop-color="#1affe5"/><stop offset="0.125" stop-color="#0ffff0"/><stop offset="0.166" stop-color="#04fffb"/><stop offset="0.208" stop-color="#00f8ff"/><stop offset="0.249" stop-color="#00eeff"/><stop offset="0.291" stop-color="#00e3ff"/><stop offset="0.332" stop-color="#00d9ff"/><stop offset="0.374" stop-color="#00cfff"/><stop offset="0.416" stop-color="#00c5ff"/><stop offset="0.457" stop-color="#00bbff"/><stop offset="0.499" stop-color="#00b1ff"/><stop offset="0.541" stop-color="#00a8ff"/><stop offset="0.582" stop-color="#009eff"/><stop offset="0.624" stop-color="#0095ff"/><stop offset="0.666" stop-color="#008cff"/><stop offset="0.707" stop-color="#0083ff"/><stop offset="0.749" stop-color="#007aff"/><stop offset="0.791" stop-color="#0071ff"/><stop offset="0.833" stop-color="#0069ff"/><stop offset="0.875" stop-color="#0060ff"/><stop offset="0.916" stop-color="#0058ff"/><stop offset="0.958" stop-color="#0050ff"/><stop offset="1.000" stop-color="#0048ff"/></linearGradient><linearGradient id="cd26" gradientUnits="userSpaceOnUse" x1="418.3" y1="97.2" x2="504.3" y2="79.8"><stop offset="0.000" stop-color="#41ffbe"/><stop offset="0.042" stop-color="#36ffc9"/><stop offset="0.083" stop-color="#2affd5"/><stop offset="0.125" stop-color="#1fffe0"/><stop offset="0.166" stop-color="#14ffeb"/><stop offset="0.208" stop-color="#09fff6"/><stop offset="0.249" stop-color="#00fdff"/><stop offset="0.291" stop-color="#00f2ff"/><stop offset="0.332" stop-color="#00e7ff"/><stop offset="0.374" stop-color="#00ddff"/><stop offset="0.416" stop-color="#00d3ff"/><stop offset="0.457" stop-color="#00c8ff"/><stop offset="0.499" stop-color="#00beff"/><stop offset="0.541" stop-color="#00b4ff"/><stop offset="0.582" stop-color="#00abff"/><stop offset="0.624" stop-color="#00a1ff"/><stop offset="0.666" stop-color="#0098ff"/><stop offset="0.707" stop-color="#008eff"/><stop offset="0.749" stop-color="#0085ff"/><stop offset="0.791" stop-color="#007cff"/><stop offset="0.833" stop-color="#0073ff"/><stop offset="0.875" stop-color="#006bff"/><stop offset="0.916" stop-color="#0062ff"/><stop offset="0.958" stop-color="#005aff"/><stop offset="1.000" stop-color="#0051ff"/></linearGradient><linearGradient id="cd27" gradientUnits="userSpaceOnUse" x1="420" y1="97.5" x2="506" y2="80.5"><stop offset="0.000" stop-color="#53ffac"/><stop offset="0.042" stop-color="#47ffb8"/><stop offset="0.083" stop-color="#3bffc4"/><stop offset="0.125" stop-color="#2fffd0"/><stop offset="0.166" stop-color="#24ffdb"/><stop offset="0.208" stop-color="#18ffe7"/><stop offset="0.249" stop-color="#0dfff2"/><stop offset="0.291" stop-color="#02fffd"/><stop offset="0.332" stop-color="#00f6ff"/><stop offset="0.374" stop-color="#00ebff"/><stop offset="0.416" stop-color="#00e0ff"/><stop offset="0.457" stop-color="#00d6ff"/><stop offset="0.499" stop-color="#00ccff"/><stop offset="0.541" stop-color="#00c1ff"/><stop offset="0.582" stop-color="#00b7ff"/><stop offset="0.624" stop-color="#00adff"/><stop offset="0.666" stop-color="#00a4ff"/><stop offset="0.707" stop-color="#009aff"/><stop offset="0.749" stop-color="#0091ff"/><stop offset="0.791" stop-color="#0087ff"/><stop offset="0.833" stop-color="#007eff"/><stop offset="0.875" stop-color="#0075ff"/><stop offset="0.916" stop-color="#006cff"/><stop offset="0.958" stop-color="#0063ff"/><stop offset="1.000" stop-color="#005bff"/></linearGradient><linearGradient id="cd28" gradientUnits="userSpaceOnUse" x1="421.7" y1="97.8" x2="507.7" y2="81.2"><stop offset="0.000" stop-color="#65ff9a"/><stop offset="0.042" stop-color="#58ffa7"/><stop offset="0.083" stop-color="#4cffb3"/><stop offset="0.125" stop-color="#40ffbf"/><stop offset="0.166" stop-color="#34ffcb"/><stop offset="0.208" stop-color="#28ffd7"/><stop offset="0.249" stop-color="#1dffe2"/><stop offset="0.291" stop-color="#11ffee"/><stop offset="0.332" stop-color="#06fff9"/><stop offset="0.374" stop-color="#00faff"/><stop offset="0.416" stop-color="#00efff"/><stop offset="0.457" stop-color="#00e4ff"/><stop offset="0.499" stop-color="#00d9ff"/><stop offset="0.541" stop-color="#00ceff"/><stop offset="0.582" stop-color="#00c4ff"/><stop offset="0.624" stop-color="#00baff"/><stop offset="0.666" stop-color="#00b0ff"/><stop offset="0.707" stop-color="#00a6ff"/><stop offset="0.749" stop-color="#009cff"/><stop offset="0.791" stop-color="#0092ff"/><stop offset="0.833" stop-color="#0089ff"/><stop offset="0.875" stop-color="#007fff"/><stop offset="0.916" stop-color="#0076ff"/><stop offset="0.958" stop-color="#006dff"/><stop offset="1.000" stop-color="#0064ff"/></linearGradient><linearGradient id="cd29" gradientUnits="userSpaceOnUse" x1="423.5" y1="98.2" x2="509.5" y2="81.9"><stop offset="0.000" stop-color="#77ff88"/><stop offset="0.042" stop-color="#6aff95"/><stop offset="0.083" stop-color="#5dffa2"/><stop offset="0.125" stop-color="#51ffae"/><stop offset="0.166" stop-color="#44ffbb"/><stop offset="0.208" stop-color="#38ffc7"/><stop offset="0.249" stop-color="#2cffd3"/><stop offset="0.291" stop-color="#20ffdf"/><stop offset="0.332" stop-color="#15ffea"/><stop offset="0.374" stop-color="#09fff6"/><stop offset="0.416" stop-color="#00fdff"/><stop offset="0.457" stop-color="#00f2ff"/><stop offset="0.499" stop-color="#00e6ff"/><stop offset="0.541" stop-color="#00dcff"/><stop offset="0.582" stop-color="#00d1ff"/><stop offset="0.624" stop-color="#00c6ff"/><stop offset="0.666" stop-color="#00bcff"/><stop offset="0.707" stop-color="#00b2ff"/><stop offset="0.749" stop-color="#00a7ff"/><stop offset="0.791" stop-color="#009dff"/><stop offset="0.833" stop-color="#0094ff"/><stop offset="0.875" stop-color="#008aff"/><stop offset="0.916" stop-color="#0080ff"/><stop offset="0.958" stop-color="#0077ff"/><stop offset="1.000" stop-color="#006eff"/></linearGradient><linearGradient id="cd30" gradientUnits="userSpaceOnUse" x1="425.2" y1="98.5" x2="511.2" y2="82.6"><stop offset="0.000" stop-color="#89ff76"/><stop offset="0.042" stop-color="#7cff83"/><stop offset="0.083" stop-color="#6fff90"/><stop offset="0.125" stop-color="#62ff9d"/><stop offset="0.166" stop-color="#55ffaa"/><stop offset="0.208" stop-color="#48ffb7"/><stop offset="0.249" stop-color="#3cffc3"/><stop offset="0.291" stop-color="#30ffcf"/><stop offset="0.332" stop-color="#24ffdb"/><stop offset="0.374" stop-color="#18ffe7"/><stop offset="0.416" stop-color="#0cfff3"/><stop offset="0.457" stop-color="#01fffe"/><stop offset="0.499" stop-color="#00f4ff"/><stop offset="0.541" stop-color="#00e9ff"/><stop offset="0.582" stop-color="#00deff"/><stop offset="0.624" stop-color="#00d3ff"/><stop offset="0.666" stop-color="#00c8ff"/><stop offset="0.707" stop-color="#00bdff"/><stop offset="0.749" stop-color="#00b3ff"/><stop offset="0.791" stop-color="#00a9ff"/><stop offset="0.833" stop-color="#009eff"/><stop offset="0.875" stop-color="#0094ff"/><stop offset="0.916" stop-color="#008bff"/><stop offset="0.958" stop-color="#0081ff"/><stop offset="1.000" stop-color="#0077ff"/></linearGradient><linearGradient id="cd31" gradientUnits="userSpaceOnUse" x1="426.9" y1="98.8" x2="512.9" y2="83.3"><stop offset="0.000" stop-color="#9bff64"/><stop offset="0.042" stop-color="#8eff71"/><stop offset="0.083" stop-color="#80ff7f"/><stop offset="0.125" stop-color="#73ff8c"/><stop offset="0.166" stop-color="#66ff99"/><stop offset="0.208" stop-color="#59ffa6"/><stop offset="0.249" stop-color="#4cffb3"/><stop offset="0.291" stop-color="#40ffbf"/><stop offset="0.332" stop-color="#33ffcc"/><stop offset="0.374" stop-color="#27ffd8"/><stop offset="0.416" stop-color="#1bffe4"/><stop offset="0.457" stop-color="#0ffff0"/><stop offset="0.499" stop-color="#03fffc"/><stop offset="0.541" stop-color="#00f6ff"/><stop offset="0.582" stop-color="#00ebff"/><stop offset="0.624" stop-color="#00e0ff"/><stop offset="0.666" stop-color="#00d4ff"/><stop offset="0.707" stop-color="#00c9ff"/><stop offset="0.749" stop-color="#00bfff"/><stop offset="0.791" stop-color="#00b4ff"/><stop offset="0.833" stop-color="#00a9ff"/><stop offset="0.875" stop-color="#009fff"/><stop offset="0.916" stop-color="#0095ff"/><stop offset="0.958" stop-color="#008bff"/><stop offset="1.000" stop-color="#0081ff"/></linearGradient><linearGradient id="cd32" gradientUnits="userSpaceOnUse" x1="428.7" y1="99.1" x2="514.7" y2="84"><stop offset="0.000" stop-color="#aeff51"/><stop offset="0.042" stop-color="#a0ff5f"/><stop offset="0.083" stop-color="#92ff6d"/><stop offset="0.125" stop-color="#84ff7b"/><stop offset="0.166" stop-color="#77ff88"/><stop offset="0.208" stop-color="#6aff95"/><stop offset="0.249" stop-color="#5cffa3"/><stop offset="0.291" stop-color="#4fffb0"/><stop offset="0.332" stop-color="#43ffbc"/><stop offset="0.374" stop-color="#36ffc9"/><stop offset="0.416" stop-color="#29ffd6"/><stop offset="0.457" stop-color="#1dffe2"/><stop offset="0.499" stop-color="#11ffee"/><stop offset="0.541" stop-color="#05fffa"/><stop offset="0.582" stop-color="#00f8ff"/><stop offset="0.624" stop-color="#00ecff"/><stop offset="0.666" stop-color="#00e1ff"/><stop offset="0.707" stop-color="#00d5ff"/><stop offset="0.749" stop-color="#00caff"/><stop offset="0.791" stop-color="#00bfff"/><stop offset="0.833" stop-color="#00b4ff"/><stop offset="0.875" stop-color="#00aaff"/><stop offset="0.916" stop-color="#009fff"/><stop offset="0.958" stop-color="#0095ff"/><stop offset="1.000" stop-color="#008bff"/></linearGradient><linearGradient id="cd33" gradientUnits="userSpaceOnUse" x1="430.4" y1="99.4" x2="516.4" y2="84.7"><stop offset="0.000" stop-color="#c1ff3e"/><stop offset="0.042" stop-color="#b2ff4d"/><stop offset="0.083" stop-color="#a4ff5b"/><stop offset="0.125" stop-color="#96ff69"/><stop offset="0.166" stop-color="#88ff77"/><stop offset="0.208" stop-color="#7aff85"/><stop offset="0.249" stop-color="#6dff92"/><stop offset="0.291" stop-color="#5fffa0"/><stop offset="0.332" stop-color="#52ffad"/><stop offset="0.374" stop-color="#45ffba"/><stop offset="0.416" stop-color="#38ffc7"/><stop offset="0.457" stop-color="#2bffd4"/><stop offset="0.499" stop-color="#1fffe0"/><stop offset="0.541" stop-color="#12ffed"/><stop offset="0.582" stop-color="#06fff9"/><stop offset="0.624" stop-color="#00f9ff"/><stop offset="0.666" stop-color="#00edff"/><stop offset="0.707" stop-color="#00e2ff"/><stop offset="0.749" stop-color="#00d6ff"/><stop offset="0.791" stop-color="#00cbff"/><stop offset="0.833" stop-color="#00bfff"/><stop offset="0.875" stop-color="#00b4ff"/><stop offset="0.916" stop-color="#00aaff"/><stop offset="0.958" stop-color="#009fff"/><stop offset="1.000" stop-color="#0094ff"/></linearGradient><linearGradient id="cd34" gradientUnits="userSpaceOnUse" x1="432.1" y1="99.6" x2="518.1" y2="85.3"><stop offset="0.000" stop-color="#d4ff2b"/><stop offset="0.042" stop-color="#c5ff3a"/><stop offset="0.083" stop-color="#b6ff49"/><stop offset="0.125" stop-color="#a8ff57"/><stop offset="0.166" stop-color="#9aff65"/><stop offset="0.208" stop-color="#8bff74"/><stop offset="0.249" stop-color="#7dff82"/><stop offset="0.291" stop-color="#70ff8f"/><stop offset="0.332" stop-color="#62ff9d"/><stop offset="0.374" stop-color="#54ffab"/><stop offset="0.416" stop-color="#47ffb8"/><stop offset="0.457" stop-color="#3affc5"/><stop offset="0.499" stop-color="#2dffd2"/><stop offset="0.541" stop-color="#20ffdf"/><stop offset="0.582" stop-color="#14ffeb"/><stop offset="0.624" stop-color="#07fff8"/><stop offset="0.666" stop-color="#00faff"/><stop offset="0.707" stop-color="#00eeff"/><stop offset="0.749" stop-color="#00e2ff"/><stop offset="0.791" stop-color="#00d6ff"/><stop offset="0.833" stop-color="#00cbff"/><stop offset="0.875" stop-color="#00bfff"/><stop offset="0.916" stop-color="#00b4ff"/><stop offset="0.958" stop-color="#00a9ff"/><stop offset="1.000" stop-color="#009eff"/></linearGradient><linearGradient id="cd35" gradientUnits="userSpaceOnUse" x1="433.8" y1="99.9" x2="519.8" y2="86"><stop offset="0.000" stop-color="#e7ff18"/><stop offset="0.042" stop-color="#d8ff27"/><stop offset="0.083" stop-color="#c9ff36"/><stop offset="0.125" stop-color="#baff45"/><stop offset="0.166" stop-color="#abff54"/><stop offset="0.208" stop-color="#9dff62"/><stop offset="0.249" stop-color="#8eff71"/><stop offset="0.291" stop-color="#80ff7f"/><stop offset="0.332" stop-color="#72ff8d"/><stop offset="0.374" stop-color="#64ff9b"/><stop offset="0.416" stop-color="#56ffa9"/><stop offset="0.457" stop-color="#49ffb6"/><stop offset="0.499" stop-color="#3bffc4"/><stop offset="0.541" stop-color="#2effd1"/><stop offset="0.582" stop-color="#21ffde"/><stop offset="0.624" stop-color="#14ffeb"/><stop offset="0.666" stop-color="#08fff7"/><stop offset="0.708" stop-color="#00faff"/><stop offset="0.749" stop-color="#00eeff"/><stop offset="0.791" stop-color="#00e2ff"/><stop offset="0.833" stop-color="#00d6ff"/><stop offset="0.875" stop-color="#00caff"/><stop offset="0.916" stop-color="#00beff"/><stop offset="0.958" stop-color="#00b3ff"/><stop offset="1.000" stop-color="#00a8ff"/></linearGradient></defs>
<g><path d="M372.5 84.4L376.1 83.4L379.7 82.5L383.2 81.5L386.8 80.6L390.4 79.6L394 78.7L397.6 77.7L401.2 76.8L404.8 75.8L408.3 74.8L411.9 73.9L415.5 72.9L419.1 71.9L422.7 71L426.3 70L429.8 69L433.4 68L437 67.1L440.6 66.1L444.2 65.1L447.8 64.1L451.3 63.1L454.9 62.1L458.5 61.1L462 62.5L458.4 63.5L454.8 64.5L451.2 65.5L447.6 66.5L444 67.5L440.5 68.5L436.9 69.4L433.3 70.4L429.7 71.4L426.1 72.3L422.5 73.3L419 74.3L415.4 75.2L411.8 76.2L408.2 77.1L404.6 78.1L401 79L397.5 80L393.9 80.9L390.3 81.9L386.7 82.8L383.1 83.7L379.5 84.7L376 85.6Z" fill="url(#cd0)"/><path d="M374.2 85L377.8 84L381.4 83.1L385 82.2L388.6 81.2L392.1 80.3L395.7 79.3L399.3 78.4L402.9 77.4L406.5 76.5L410.1 75.5L413.6 74.6L417.2 73.6L420.8 72.6L424.4 71.7L428 70.7L431.6 69.7L435.1 68.7L438.7 67.8L442.3 66.8L445.9 65.8L449.5 64.8L453.1 63.8L456.6 62.8L460.2 61.8L463.7 63.3L460.1 64.3L456.5 65.2L452.9 66.2L449.4 67.2L445.8 68.2L442.2 69.2L438.6 70.1L435 71.1L431.4 72.1L427.9 73L424.3 74L420.7 74.9L417.1 75.9L413.5 76.8L409.9 77.8L406.4 78.7L402.8 79.7L399.2 80.6L395.6 81.5L392 82.5L388.4 83.4L384.9 84.3L381.3 85.3L377.7 86.2Z" fill="url(#cd1)"/><path d="M376 85.6L379.5 84.7L383.1 83.7L386.7 82.8L390.3 81.9L393.9 80.9L397.5 80L401 79L404.6 78.1L408.2 77.1L411.8 76.2L415.4 75.2L419 74.3L422.5 73.3L426.1 72.3L429.7 71.4L433.3 70.4L436.9 69.4L440.5 68.5L444 67.5L447.6 66.5L451.2 65.5L454.8 64.5L458.4 63.5L462 62.5L465.4 64L461.8 65L458.2 65.9L454.7 66.9L451.1 67.9L447.5 68.9L443.9 69.8L440.3 70.8L436.7 71.8L433.2 72.7L429.6 73.7L426 74.6L422.4 75.6L418.8 76.5L415.2 77.5L411.7 78.4L408.1 79.4L404.5 80.3L400.9 81.2L397.3 82.2L393.7 83.1L390.2 84L386.6 84.9L383 85.8L379.4 86.8Z" fill="url(#cd2)"/><path d="M377.7 86.2L381.3 85.3L384.9 84.3L388.4 83.4L392 82.5L395.6 81.5L399.2 80.6L402.8 79.7L406.4 78.7L409.9 77.8L413.5 76.8L417.1 75.9L420.7 74.9L424.3 74L427.9 73L431.4 72.1L435 71.1L438.6 70.1L442.2 69.2L445.8 68.2L449.4 67.2L452.9 66.2L456.5 65.2L460.1 64.3L463.7 63.3L467.1 64.7L463.6 65.7L460 66.7L456.4 67.6L452.8 68.6L449.2 69.6L445.6 70.5L442.1 71.5L438.5 72.5L434.9 73.4L431.3 74.4L427.7 75.3L424.1 76.3L420.6 77.2L417 78.1L413.4 79.1L409.8 80L406.2 80.9L402.6 81.8L399.1 82.8L395.5 83.7L391.9 84.6L388.3 85.5L384.7 86.4L381.1 87.3Z" fill="url(#cd3)"/><path d="M379.4 86.8L383 85.8L386.6 84.9L390.2 84L393.7 83.1L397.3 82.2L400.9 81.2L404.5 80.3L408.1 79.4L411.7 78.4L415.2 77.5L418.8 76.5L422.4 75.6L426 74.6L429.6 73.7L433.2 72.7L436.7 71.8L440.3 70.8L443.9 69.8L447.5 68.9L451.1 67.9L454.7 66.9L458.2 65.9L461.8 65L465.4 64L468.9 65.4L465.3 66.4L461.7 67.4L458.1 68.3L454.5 69.3L451 70.3L447.4 71.2L443.8 72.2L440.2 73.1L436.6 74.1L433 75L429.5 76L425.9 76.9L422.3 77.8L418.7 78.8L415.1 79.7L411.5 80.6L408 81.5L404.4 82.5L400.8 83.4L397.2 84.3L393.6 85.2L390 86.1L386.4 87L382.9 87.9Z" fill="url(#cd4)"/><path d="M381.1 87.3L384.7 86.4L388.3 85.5L391.9 84.6L395.5 83.7L399.1 82.8L402.6 81.8L406.2 80.9L409.8 80L413.4 79.1L417 78.1L420.6 77.2L424.1 76.3L427.7 75.3L431.3 74.4L434.9 73.4L438.5 72.5L442.1 71.5L445.6 70.5L449.2 69.6L452.8 68.6L456.4 67.6L460 66.7L463.6 65.7L467.1 64.7L470.6 66.1L467 67.1L463.4 68.1L459.8 69L456.3 70L452.7 70.9L449.1 71.9L445.5 72.9L441.9 73.8L438.3 74.7L434.8 75.7L431.2 76.6L427.6 77.5L424 78.5L420.4 79.4L416.8 80.3L413.3 81.2L409.7 82.1L406.1 83.1L402.5 84L398.9 84.9L395.3 85.8L391.8 86.7L388.2 87.6L384.6 88.4Z" fill="url(#cd5)"/><path d="M382.9 87.9L386.4 87L390 86.1L393.6 85.2L397.2 84.3L400.8 83.4L404.4 82.5L408 81.5L411.5 80.6L415.1 79.7L418.7 78.8L422.3 77.8L425.9 76.9L429.5 76L433 75L436.6 74.1L440.2 73.1L443.8 72.2L447.4 71.2L451 70.3L454.5 69.3L458.1 68.3L461.7 67.4L465.3 66.4L468.9 65.4L472.3 66.8L468.7 67.8L465.2 68.8L461.6 69.7L458 70.7L454.4 71.6L450.8 72.6L447.2 73.5L443.7 74.5L440.1 75.4L436.5 76.3L432.9 77.3L429.3 78.2L425.7 79.1L422.2 80L418.6 80.9L415 81.8L411.4 82.8L407.8 83.7L404.2 84.6L400.7 85.4L397.1 86.3L393.5 87.2L389.9 88.1L386.3 89Z" fill="url(#cd6)"/><path d="M384.6 88.4L388.2 87.6L391.8 86.7L395.3 85.8L398.9 84.9L402.5 84L406.1 83.1L409.7 82.1L413.3 81.2L416.8 80.3L420.4 79.4L424 78.5L427.6 77.5L431.2 76.6L434.8 75.7L438.3 74.7L441.9 73.8L445.5 72.9L449.1 71.9L452.7 70.9L456.3 70L459.8 69L463.4 68.1L467 67.1L470.6 66.1L474.1 67.6L470.5 68.5L466.9 69.5L463.3 70.4L459.7 71.4L456.1 72.3L452.6 73.3L449 74.2L445.4 75.1L441.8 76.1L438.2 77L434.6 77.9L431.1 78.8L427.5 79.7L423.9 80.6L420.3 81.5L416.7 82.4L413.1 83.3L409.6 84.2L406 85.1L402.4 86L398.8 86.9L395.2 87.8L391.6 88.7L388.1 89.5Z" fill="url(#cd7)"/><path d="M386.3 89L389.9 88.1L393.5 87.2L397.1 86.3L400.7 85.4L404.2 84.6L407.8 83.7L411.4 82.8L415 81.8L418.6 80.9L422.2 80L425.7 79.1L429.3 78.2L432.9 77.3L436.5 76.3L440.1 75.4L443.7 74.5L447.2 73.5L450.8 72.6L454.4 71.6L458 70.7L461.6 69.7L465.2 68.8L468.7 67.8L472.3 66.8L475.8 68.3L472.2 69.2L468.6 70.2L465 71.1L461.4 72.1L457.9 73L454.3 73.9L450.7 74.9L447.1 75.8L443.5 76.7L439.9 77.6L436.4 78.5L432.8 79.4L429.2 80.3L425.6 81.3L422 82.1L418.4 83L414.9 83.9L411.3 84.8L407.7 85.7L404.1 86.6L400.5 87.4L396.9 88.3L393.4 89.2L389.8 90Z" fill="url(#cd8)"/><path d="M388.1 89.5L391.6 88.7L395.2 87.8L398.8 86.9L402.4 86L406 85.1L409.6 84.2L413.1 83.3L416.7 82.4L420.3 81.5L423.9 80.6L427.5 79.7L431.1 78.8L434.6 77.9L438.2 77L441.8 76.1L445.4 75.1L449 74.2L452.6 73.3L456.1 72.3L459.7 71.4L463.3 70.4L466.9 69.5L470.5 68.5L474.1 67.6L477.5 69L473.9 69.9L470.3 70.9L466.8 71.8L463.2 72.7L459.6 73.7L456 74.6L452.4 75.5L448.8 76.4L445.3 77.3L441.7 78.3L438.1 79.2L434.5 80.1L430.9 81L427.3 81.9L423.8 82.7L420.2 83.6L416.6 84.5L413 85.4L409.4 86.3L405.8 87.1L402.3 88L398.7 88.8L395.1 89.7L391.5 90.6Z" fill="url(#cd9)"/><path d="M389.8 90L393.4 89.2L396.9 88.3L400.5 87.4L404.1 86.6L407.7 85.7L411.3 84.8L414.9 83.9L418.4 83L422 82.1L425.6 81.3L429.2 80.3L432.8 79.4L436.4 78.5L439.9 77.6L443.5 76.7L447.1 75.8L450.7 74.9L454.3 73.9L457.9 73L461.4 72.1L465 71.1L468.6 70.2L472.2 69.2L475.8 68.3L479.2 69.7L475.7 70.6L472.1 71.6L468.5 72.5L464.9 73.4L461.3 74.3L457.7 75.3L454.2 76.2L450.6 77.1L447 78L443.4 78.9L439.8 79.8L436.2 80.7L432.7 81.6L429.1 82.5L425.5 83.3L421.9 84.2L418.3 85.1L414.7 85.9L411.2 86.8L407.6 87.7L404 88.5L400.4 89.4L396.8 90.2L393.2 91.1Z" fill="url(#cd10)"/><path d="M391.5 90.6L395.1 89.7L398.7 88.8L402.3 88L405.8 87.1L409.4 86.3L413 85.4L416.6 84.5L420.2 83.6L423.8 82.7L427.3 81.9L430.9 81L434.5 80.1L438.1 79.2L441.7 78.3L445.3 77.3L448.8 76.4L452.4 75.5L456 74.6L459.6 73.7L463.2 72.7L466.8 71.8L470.3 70.9L473.9 69.9L477.5 69L481 70.4L477.4 71.3L473.8 72.3L470.2 73.2L466.6 74.1L463 75L459.5 75.9L455.9 76.8L452.3 77.7L448.7 78.6L445.1 79.5L441.5 80.4L438 81.3L434.4 82.2L430.8 83L427.2 83.9L423.6 84.8L420 85.6L416.5 86.5L412.9 87.4L409.3 88.2L405.7 89L402.1 89.9L398.5 90.7L395 91.5Z" fill="url(#cd11)"/><path d="M393.2 91.1L396.8 90.2L400.4 89.4L404 88.5L407.6 87.7L411.2 86.8L414.7 85.9L418.3 85.1L421.9 84.2L425.5 83.3L429.1 82.5L432.7 81.6L436.2 80.7L439.8 79.8L443.4 78.9L447 78L450.6 77.1L454.2 76.2L457.7 75.3L461.3 74.3L464.9 73.4L468.5 72.5L472.1 71.6L475.7 70.6L479.2 69.7L482.7 71.1L479.1 72L475.5 72.9L471.9 73.9L468.4 74.8L464.8 75.7L461.2 76.6L457.6 77.5L454 78.4L450.4 79.3L446.9 80.1L443.3 81L439.7 81.9L436.1 82.8L432.5 83.6L428.9 84.5L425.4 85.3L421.8 86.2L418.2 87L414.6 87.9L411 88.7L407.4 89.6L403.9 90.4L400.3 91.2L396.7 92Z" fill="url(#cd12)"/><path d="M395 91.5L398.5 90.7L402.1 89.9L405.7 89L409.3 88.2L412.9 87.4L416.5 86.5L420 85.6L423.6 84.8L427.2 83.9L430.8 83L434.4 82.2L438 81.3L441.5 80.4L445.1 79.5L448.7 78.6L452.3 77.7L455.9 76.8L459.5 75.9L463 75L466.6 74.1L470.2 73.2L473.8 72.3L477.4 71.3L481 70.4L484.4 71.8L480.8 72.7L477.3 73.6L473.7 74.5L470.1 75.4L466.5 76.3L462.9 77.2L459.3 78.1L455.8 79L452.2 79.9L448.6 80.8L445 81.6L441.4 82.5L437.8 83.4L434.3 84.2L430.7 85.1L427.1 85.9L423.5 86.7L419.9 87.6L416.3 88.4L412.8 89.2L409.2 90.1L405.6 90.9L402 91.7L398.4 92.5Z" fill="url(#cd13)"/><path d="M396.7 92L400.3 91.2L403.9 90.4L407.4 89.6L411 88.7L414.6 87.9L418.2 87L421.8 86.2L425.4 85.3L428.9 84.5L432.5 83.6L436.1 82.8L439.7 81.9L443.3 81L446.9 80.1L450.4 79.3L454 78.4L457.6 77.5L461.2 76.6L464.8 75.7L468.4 74.8L471.9 73.9L475.5 72.9L479.1 72L482.7 71.1L486.1 72.5L482.6 73.4L479 74.3L475.4 75.2L471.8 76.1L468.2 77L464.6 77.9L461.1 78.8L457.5 79.6L453.9 80.5L450.3 81.4L446.7 82.2L443.1 83.1L439.6 83.9L436 84.8L432.4 85.6L428.8 86.5L425.2 87.3L421.6 88.1L418.1 88.9L414.5 89.7L410.9 90.6L407.3 91.4L403.7 92.2L400.1 93Z" fill="url(#cd14)"/><path d="M398.4 92.5L402 91.7L405.6 90.9L409.2 90.1L412.8 89.2L416.3 88.4L419.9 87.6L423.5 86.7L427.1 85.9L430.7 85.1L434.3 84.2L437.8 83.4L441.4 82.5L445 81.6L448.6 80.8L452.2 79.9L455.8 79L459.3 78.1L462.9 77.2L466.5 76.3L470.1 75.4L473.7 74.5L477.3 73.6L480.8 72.7L484.4 71.8L487.9 73.2L484.3 74.1L480.7 75L477.1 75.9L473.5 76.8L470 77.7L466.4 78.5L462.8 79.4L459.2 80.3L455.6 81.1L452 82L448.5 82.8L444.9 83.7L441.3 84.5L437.7 85.3L434.1 86.2L430.5 87L427 87.8L423.4 88.6L419.8 89.4L416.2 90.2L412.6 91L409 91.8L405.5 92.6L401.9 93.4Z" fill="url(#cd15)"/><path d="M400.1 93L403.7 92.2L407.3 91.4L410.9 90.6L414.5 89.7L418.1 88.9L421.6 88.1L425.2 87.3L428.8 86.5L432.4 85.6L436 84.8L439.6 83.9L443.1 83.1L446.7 82.2L450.3 81.4L453.9 80.5L457.5 79.6L461.1 78.8L464.6 77.9L468.2 77L471.8 76.1L475.4 75.2L479 74.3L482.6 73.4L486.1 72.5L489.6 73.9L486 74.8L482.4 75.7L478.9 76.6L475.3 77.4L471.7 78.3L468.1 79.2L464.5 80L460.9 80.9L457.4 81.7L453.8 82.6L450.2 83.4L446.6 84.3L443 85.1L439.4 85.9L435.9 86.7L432.3 87.5L428.7 88.3L425.1 89.1L421.5 89.9L417.9 90.7L414.4 91.5L410.8 92.3L407.2 93.1L403.6 93.8Z" fill="url(#cd16)"/><path d="M401.9 93.4L405.5 92.6L409 91.8L412.6 91L416.2 90.2L419.8 89.4L423.4 88.6L427 87.8L430.5 87L434.1 86.2L437.7 85.3L441.3 84.5L444.9 83.7L448.5 82.8L452 82L455.6 81.1L459.2 80.3L462.8 79.4L466.4 78.5L470 77.7L473.5 76.8L477.1 75.9L480.7 75L484.3 74.1L487.9 73.2L491.3 74.6L487.7 75.5L484.2 76.4L480.6 77.2L477 78.1L473.4 79L469.8 79.8L466.2 80.7L462.7 81.5L459.1 82.3L455.5 83.2L451.9 84L448.3 84.8L444.7 85.6L441.2 86.5L437.6 87.3L434 88.1L430.4 88.9L426.8 89.7L423.2 90.4L419.7 91.2L416.1 92L412.5 92.8L408.9 93.5L405.3 94.3Z" fill="url(#cd17)"/><path d="M403.6 93.8L407.2 93.1L410.8 92.3L414.4 91.5L417.9 90.7L421.5 89.9L425.1 89.1L428.7 88.3L432.3 87.5L435.9 86.7L439.4 85.9L443 85.1L446.6 84.3L450.2 83.4L453.8 82.6L457.4 81.7L460.9 80.9L464.5 80L468.1 79.2L471.7 78.3L475.3 77.4L478.9 76.6L482.4 75.7L486 74.8L489.6 73.9L493.1 75.3L489.5 76.2L485.9 77.1L482.3 77.9L478.7 78.8L475.1 79.6L471.6 80.5L468 81.3L464.4 82.1L460.8 83L457.2 83.8L453.6 84.6L450.1 85.4L446.5 86.2L442.9 87L439.3 87.8L435.7 88.6L432.1 89.4L428.6 90.1L425 90.9L421.4 91.7L417.8 92.4L414.2 93.2L410.6 94L407.1 94.7Z" fill="url(#cd18)"/><path d="M405.3 94.3L408.9 93.5L412.5 92.8L416.1 92L419.7 91.2L423.2 90.4L426.8 89.7L430.4 88.9L434 88.1L437.6 87.3L441.2 86.5L444.7 85.6L448.3 84.8L451.9 84L455.5 83.2L459.1 82.3L462.7 81.5L466.2 80.7L469.8 79.8L473.4 79L477 78.1L480.6 77.2L484.2 76.4L487.7 75.5L491.3 74.6L494.8 76L491.2 76.9L487.6 77.7L484 78.6L480.5 79.4L476.9 80.3L473.3 81.1L469.7 81.9L466.1 82.7L462.5 83.6L458.9 84.4L455.4 85.2L451.8 86L448.2 86.8L444.6 87.5L441 88.3L437.4 89.1L433.9 89.9L430.3 90.6L426.7 91.4L423.1 92.1L419.5 92.9L415.9 93.6L412.4 94.4L408.8 95.1Z" fill="url(#cd19)"/><path d="M407.1 94.7L410.6 94L414.2 93.2L417.8 92.4L421.4 91.7L425 90.9L428.6 90.1L432.1 89.4L435.7 88.6L439.3 87.8L442.9 87L446.5 86.2L450.1 85.4L453.6 84.6L457.2 83.8L460.8 83L464.4 82.1L468 81.3L471.6 80.5L475.1 79.6L478.7 78.8L482.3 77.9L485.9 77.1L489.5 76.2L493.1 75.3L496.5 76.7L492.9 77.6L489.3 78.4L485.8 79.2L482.2 80.1L478.6 80.9L475 81.7L471.4 82.5L467.8 83.3L464.3 84.1L460.7 84.9L457.1 85.7L453.5 86.5L449.9 87.3L446.3 88.1L442.8 88.8L439.2 89.6L435.6 90.4L432 91.1L428.4 91.9L424.8 92.6L421.3 93.3L417.7 94.1L414.1 94.8L410.5 95.5Z" fill="url(#cd20)"/><path d="M408.8 95.1L412.4 94.4L415.9 93.6L419.5 92.9L423.1 92.1L426.7 91.4L430.3 90.6L433.9 89.9L437.4 89.1L441 88.3L444.6 87.5L448.2 86.8L451.8 86L455.4 85.2L458.9 84.4L462.5 83.6L466.1 82.7L469.7 81.9L473.3 81.1L476.9 80.3L480.5 79.4L484 78.6L487.6 77.7L491.2 76.9L494.8 76L498.2 77.4L494.7 78.3L491.1 79.1L487.5 79.9L483.9 80.7L480.3 81.5L476.7 82.4L473.2 83.2L469.6 83.9L466 84.7L462.4 85.5L458.8 86.3L455.2 87.1L451.7 87.8L448.1 88.6L444.5 89.4L440.9 90.1L437.3 90.9L433.7 91.6L430.2 92.3L426.6 93L423 93.8L419.4 94.5L415.8 95.2L412.2 95.9Z" fill="url(#cd21)"/><path d="M410.5 95.5L414.1 94.8L417.7 94.1L421.3 93.3L424.8 92.6L428.4 91.9L432 91.1L435.6 90.4L439.2 89.6L442.8 88.8L446.3 88.1L449.9 87.3L453.5 86.5L457.1 85.7L460.7 84.9L464.3 84.1L467.8 83.3L471.4 82.5L475 81.7L478.6 80.9L482.2 80.1L485.8 79.2L489.3 78.4L492.9 77.6L496.5 76.7L500 78.1L496.4 78.9L492.8 79.8L489.2 80.6L485.6 81.4L482.1 82.2L478.5 83L474.9 83.8L471.3 84.5L467.7 85.3L464.1 86.1L460.6 86.9L457 87.6L453.4 88.4L449.8 89.1L446.2 89.9L442.6 90.6L439.1 91.3L435.5 92.1L431.9 92.8L428.3 93.5L424.7 94.2L421.1 94.9L417.5 95.6L414 96.3Z" fill="url(#cd22)"/><path d="M412.2 95.9L415.8 95.2L419.4 94.5L423 93.8L426.6 93L430.2 92.3L433.7 91.6L437.3 90.9L440.9 90.1L444.5 89.4L448.1 88.6L451.7 87.8L455.2 87.1L458.8 86.3L462.4 85.5L466 84.7L469.6 83.9L473.2 83.2L476.7 82.4L480.3 81.5L483.9 80.7L487.5 79.9L491.1 79.1L494.7 78.3L498.2 77.4L501.7 78.8L498.1 79.6L494.5 80.4L490.9 81.2L487.4 82L483.8 82.8L480.2 83.6L476.6 84.4L473 85.1L469.4 85.9L465.9 86.7L462.3 87.4L458.7 88.2L455.1 88.9L451.5 89.6L447.9 90.4L444.4 91.1L440.8 91.8L437.2 92.5L433.6 93.2L430 93.9L426.4 94.6L422.9 95.3L419.3 96L415.7 96.6Z" fill="url(#cd23)"/><path d="M414 96.3L417.5 95.6L421.1 94.9L424.7 94.2L428.3 93.5L431.9 92.8L435.5 92.1L439.1 91.3L442.6 90.6L446.2 89.9L449.8 89.1L453.4 88.4L457 87.6L460.6 86.9L464.1 86.1L467.7 85.3L471.3 84.5L474.9 83.8L478.5 83L482.1 82.2L485.6 81.4L489.2 80.6L492.8 79.8L496.4 78.9L500 78.1L503.4 79.5L499.8 80.3L496.3 81.1L492.7 81.9L489.1 82.7L485.5 83.4L481.9 84.2L478.3 85L474.8 85.7L471.2 86.5L467.6 87.2L464 88L460.4 88.7L456.8 89.4L453.3 90.1L449.7 90.9L446.1 91.6L442.5 92.3L438.9 93L435.3 93.7L431.8 94.3L428.2 95L424.6 95.7L421 96.3L417.4 97Z" fill="url(#cd24)"/><path d="M415.7 96.6L419.3 96L422.9 95.3L426.4 94.6L430 93.9L433.6 93.2L437.2 92.5L440.8 91.8L444.4 91.1L447.9 90.4L451.5 89.6L455.1 88.9L458.7 88.2L462.3 87.4L465.9 86.7L469.4 85.9L473 85.1L476.6 84.4L480.2 83.6L483.8 82.8L487.4 82L490.9 81.2L494.5 80.4L498.1 79.6L501.7 78.8L505.2 80.2L501.6 81L498 81.8L494.4 82.5L490.8 83.3L487.2 84.1L483.7 84.8L480.1 85.6L476.5 86.3L472.9 87.1L469.3 87.8L465.7 88.5L462.1 89.2L458.6 89.9L455 90.6L451.4 91.3L447.8 92L444.2 92.7L440.6 93.4L437.1 94.1L433.5 94.7L429.9 95.4L426.3 96.1L422.7 96.7L419.1 97.3Z" fill="url(#cd25)"/><path d="M417.4 97L421 96.3L424.6 95.7L428.2 95L431.8 94.3L435.3 93.7L438.9 93L442.5 92.3L446.1 91.6L449.7 90.9L453.3 90.1L456.8 89.4L460.4 88.7L464 88L467.6 87.2L471.2 86.5L474.8 85.7L478.3 85L481.9 84.2L485.5 83.4L489.1 82.7L492.7 81.9L496.3 81.1L499.8 80.3L503.4 79.5L506.9 80.9L503.3 81.7L499.7 82.4L496.1 83.2L492.5 83.9L489 84.7L485.4 85.4L481.8 86.2L478.2 86.9L474.6 87.6L471 88.3L467.5 89.1L463.9 89.8L460.3 90.5L456.7 91.1L453.1 91.8L449.5 92.5L446 93.2L442.4 93.8L438.8 94.5L435.2 95.1L431.6 95.8L428 96.4L424.5 97.1L420.9 97.7Z" fill="url(#cd26)"/><path d="M419.1 97.3L422.7 96.7L426.3 96.1L429.9 95.4L433.5 94.7L437.1 94.1L440.6 93.4L444.2 92.7L447.8 92L451.4 91.3L455 90.6L458.6 89.9L462.1 89.2L465.7 88.5L469.3 87.8L472.9 87.1L476.5 86.3L480.1 85.6L483.7 84.8L487.2 84.1L490.8 83.3L494.4 82.5L498 81.8L501.6 81L505.2 80.2L508.6 81.6L505 82.3L501.4 83.1L497.9 83.8L494.3 84.6L490.7 85.3L487.1 86L483.5 86.8L479.9 87.5L476.4 88.2L472.8 88.9L469.2 89.6L465.6 90.3L462 91L458.4 91.6L454.9 92.3L451.3 93L447.7 93.6L444.1 94.3L440.5 94.9L436.9 95.5L433.4 96.2L429.8 96.8L426.2 97.4L422.6 98Z" fill="url(#cd27)"/><path d="M420.9 97.7L424.5 97.1L428 96.4L431.6 95.8L435.2 95.1L438.8 94.5L442.4 93.8L446 93.2L449.5 92.5L453.1 91.8L456.7 91.1L460.3 90.5L463.9 89.8L467.5 89.1L471 88.3L474.6 87.6L478.2 86.9L481.8 86.2L485.4 85.4L489 84.7L492.5 83.9L496.1 83.2L499.7 82.4L503.3 81.7L506.9 80.9L510.3 82.3L506.8 83L503.2 83.8L499.6 84.5L496 85.2L492.4 85.9L488.8 86.6L485.2 87.4L481.7 88.1L478.1 88.7L474.5 89.4L470.9 90.1L467.3 90.8L463.8 91.5L460.2 92.1L456.6 92.8L453 93.4L449.4 94L445.8 94.7L442.2 95.3L438.7 95.9L435.1 96.5L431.5 97.1L427.9 97.7L424.3 98.3Z" fill="url(#cd28)"/><path d="M422.6 98L426.2 97.4L429.8 96.8L433.4 96.2L436.9 95.5L440.5 94.9L444.1 94.3L447.7 93.6L451.3 93L454.9 92.3L458.4 91.6L462 91L465.6 90.3L469.2 89.6L472.8 88.9L476.4 88.2L479.9 87.5L483.5 86.8L487.1 86L490.7 85.3L494.3 84.6L497.9 83.8L501.4 83.1L505 82.3L508.6 81.6L512.1 82.9L508.5 83.7L504.9 84.4L501.3 85.1L497.7 85.8L494.1 86.5L490.6 87.2L487 87.9L483.4 88.6L479.8 89.3L476.2 90L472.6 90.6L469.1 91.3L465.5 91.9L461.9 92.6L458.3 93.2L454.7 93.9L451.1 94.5L447.6 95.1L444 95.7L440.4 96.3L436.8 96.9L433.2 97.5L429.6 98.1L426.1 98.6Z" fill="url(#cd29)"/><path d="M424.3 98.3L427.9 97.7L431.5 97.1L435.1 96.5L438.7 95.9L442.2 95.3L445.8 94.7L449.4 94L453 93.4L456.6 92.8L460.2 92.1L463.8 91.5L467.3 90.8L470.9 90.1L474.5 89.4L478.1 88.7L481.7 88.1L485.2 87.4L488.8 86.6L492.4 85.9L496 85.2L499.6 84.5L503.2 83.8L506.8 83L510.3 82.3L513.8 83.6L510.2 84.4L506.6 85.1L503 85.8L499.5 86.5L495.9 87.2L492.3 87.8L488.7 88.5L485.1 89.2L481.5 89.9L478 90.5L474.4 91.2L470.8 91.8L467.2 92.4L463.6 93.1L460 93.7L456.5 94.3L452.9 94.9L449.3 95.5L445.7 96.1L442.1 96.7L438.5 97.2L435 97.8L431.4 98.4L427.8 98.9Z" fill="url(#cd30)"/><path d="M426.1 98.6L429.6 98.1L433.2 97.5L436.8 96.9L440.4 96.3L444 95.7L447.6 95.1L451.1 94.5L454.7 93.9L458.3 93.2L461.9 92.6L465.5 91.9L469.1 91.3L472.6 90.6L476.2 90L479.8 89.3L483.4 88.6L487 87.9L490.6 87.2L494.1 86.5L497.7 85.8L501.3 85.1L504.9 84.4L508.5 83.7L512.1 82.9L515.5 84.3L511.9 85L508.4 85.7L504.8 86.4L501.2 87.1L497.6 87.8L494 88.4L490.4 89.1L486.9 89.8L483.3 90.4L479.7 91L476.1 91.7L472.5 92.3L468.9 92.9L465.4 93.5L461.8 94.1L458.2 94.7L454.6 95.3L451 95.9L447.4 96.5L443.8 97L440.3 97.6L436.7 98.1L433.1 98.7L429.5 99.2Z" fill="url(#cd31)"/><path d="M427.8 98.9L431.4 98.4L435 97.8L438.5 97.2L442.1 96.7L445.7 96.1L449.3 95.5L452.9 94.9L456.5 94.3L460 93.7L463.6 93.1L467.2 92.4L470.8 91.8L474.4 91.2L478 90.5L481.5 89.9L485.1 89.2L488.7 88.5L492.3 87.8L495.9 87.2L499.5 86.5L503 85.8L506.6 85.1L510.2 84.4L513.8 83.6L517.2 85L513.7 85.7L510.1 86.4L506.5 87L502.9 87.7L499.3 88.4L495.7 89L492.2 89.7L488.6 90.3L485 90.9L481.4 91.6L477.8 92.2L474.2 92.8L470.7 93.4L467.1 94L463.5 94.6L459.9 95.1L456.3 95.7L452.7 96.3L449.2 96.8L445.6 97.4L442 97.9L438.4 98.4L434.8 99L431.2 99.5Z" fill="url(#cd32)"/><path d="M429.5 99.2L433.1 98.7L436.7 98.1L440.3 97.6L443.8 97L447.4 96.5L451 95.9L454.6 95.3L458.2 94.7L461.8 94.1L465.4 93.5L468.9 92.9L472.5 92.3L476.1 91.7L479.7 91L483.3 90.4L486.9 89.8L490.4 89.1L494 88.4L497.6 87.8L501.2 87.1L504.8 86.4L508.4 85.7L511.9 85L515.5 84.3L519 85.7L515.4 86.4L511.8 87L508.2 87.7L504.6 88.3L501.1 89L497.5 89.6L493.9 90.2L490.3 90.9L486.7 91.5L483.1 92.1L479.6 92.7L476 93.3L472.4 93.8L468.8 94.4L465.2 95L461.6 95.6L458.1 96.1L454.5 96.6L450.9 97.2L447.3 97.7L443.7 98.2L440.1 98.7L436.6 99.3L433 99.8Z" fill="url(#cd33)"/><path d="M431.2 99.5L434.8 99L438.4 98.4L442 97.9L445.6 97.4L449.2 96.8L452.7 96.3L456.3 95.7L459.9 95.1L463.5 94.6L467.1 94L470.7 93.4L474.2 92.8L477.8 92.2L481.4 91.6L485 90.9L488.6 90.3L492.2 89.7L495.7 89L499.3 88.4L502.9 87.7L506.5 87L510.1 86.4L513.7 85.7L517.2 85L520.7 86.4L517.1 87L513.5 87.7L510 88.3L506.4 89L502.8 89.6L499.2 90.2L495.6 90.8L492 91.4L488.5 92L484.9 92.6L481.3 93.2L477.7 93.7L474.1 94.3L470.5 94.9L466.9 95.4L463.4 96L459.8 96.5L456.2 97L452.6 97.5L449 98L445.4 98.5L441.9 99L438.3 99.5L434.7 100Z" fill="url(#cd34)"/><path d="M433 99.8L436.6 99.3L440.1 98.7L443.7 98.2L447.3 97.7L450.9 97.2L454.5 96.6L458.1 96.1L461.6 95.6L465.2 95L468.8 94.4L472.4 93.8L476 93.3L479.6 92.7L483.1 92.1L486.7 91.5L490.3 90.9L493.9 90.2L497.5 89.6L501.1 89L504.6 88.3L508.2 87.7L511.8 87L515.4 86.4L519 85.7L520.7 86.4L517.1 87L513.5 87.7L510 88.3L506.4 89L502.8 89.6L499.2 90.2L495.6 90.8L492 91.4L488.5 92L484.9 92.6L481.3 93.2L477.7 93.7L474.1 94.3L470.5 94.9L466.9 95.4L463.4 96L459.8 96.5L456.2 97L452.6 97.5L449 98L445.4 98.5L441.9 99L438.3 99.5L434.7 100Z" fill="url(#cd35)"/></g>
<defs><linearGradient id="cn0" gradientUnits="userSpaceOnUse" x1="373.4" y1="68.4" x2="459.4" y2="52.2"><stop offset="0.000" stop-color="#43ffbc"/><stop offset="0.042" stop-color="#37ffc8"/><stop offset="0.083" stop-color="#2cffd3"/><stop offset="0.125" stop-color="#21ffde"/><stop offset="0.167" stop-color="#15ffea"/><stop offset="0.208" stop-color="#0afff5"/><stop offset="0.250" stop-color="#00feff"/><stop offset="0.292" stop-color="#00f3ff"/><stop offset="0.333" stop-color="#00e8ff"/><stop offset="0.375" stop-color="#00dcff"/><stop offset="0.416" stop-color="#00d1ff"/><stop offset="0.458" stop-color="#00c6ff"/><stop offset="0.500" stop-color="#00bbff"/><stop offset="0.541" stop-color="#00b0ff"/><stop offset="0.583" stop-color="#00a5ff"/><stop offset="0.625" stop-color="#009bff"/><stop offset="0.666" stop-color="#0090ff"/><stop offset="0.708" stop-color="#0085ff"/><stop offset="0.750" stop-color="#007aff"/><stop offset="0.792" stop-color="#006fff"/><stop offset="0.833" stop-color="#0064ff"/><stop offset="0.875" stop-color="#005aff"/><stop offset="0.917" stop-color="#004fff"/><stop offset="0.958" stop-color="#0044ff"/><stop offset="1.000" stop-color="#003aff"/></linearGradient><linearGradient id="cn1" gradientUnits="userSpaceOnUse" x1="375.1" y1="69" x2="461.1" y2="52.9"><stop offset="0.000" stop-color="#50ffaf"/><stop offset="0.042" stop-color="#45ffba"/><stop offset="0.083" stop-color="#3affc5"/><stop offset="0.125" stop-color="#2effd1"/><stop offset="0.167" stop-color="#23ffdc"/><stop offset="0.208" stop-color="#18ffe7"/><stop offset="0.250" stop-color="#0cfff3"/><stop offset="0.292" stop-color="#01fffe"/><stop offset="0.333" stop-color="#00f5ff"/><stop offset="0.375" stop-color="#00eaff"/><stop offset="0.417" stop-color="#00dfff"/><stop offset="0.458" stop-color="#00d3ff"/><stop offset="0.500" stop-color="#00c8ff"/><stop offset="0.542" stop-color="#00bdff"/><stop offset="0.583" stop-color="#00b2ff"/><stop offset="0.625" stop-color="#00a7ff"/><stop offset="0.667" stop-color="#009bff"/><stop offset="0.708" stop-color="#0090ff"/><stop offset="0.750" stop-color="#0085ff"/><stop offset="0.792" stop-color="#007aff"/><stop offset="0.833" stop-color="#006fff"/><stop offset="0.875" stop-color="#0064ff"/><stop offset="0.917" stop-color="#0059ff"/><stop offset="0.958" stop-color="#004eff"/><stop offset="1.000" stop-color="#0042ff"/></linearGradient><linearGradient id="cn2" gradientUnits="userSpaceOnUse" x1="376.8" y1="69.5" x2="462.8" y2="53.6"><stop offset="0.000" stop-color="#5effa1"/><stop offset="0.042" stop-color="#53ffac"/><stop offset="0.083" stop-color="#47ffb8"/><stop offset="0.125" stop-color="#3cffc3"/><stop offset="0.167" stop-color="#31ffce"/><stop offset="0.208" stop-color="#25ffda"/><stop offset="0.250" stop-color="#1affe5"/><stop offset="0.292" stop-color="#0ffff0"/><stop offset="0.333" stop-color="#03fffc"/><stop offset="0.375" stop-color="#00f7ff"/><stop offset="0.417" stop-color="#00ecff"/><stop offset="0.458" stop-color="#00e0ff"/><stop offset="0.500" stop-color="#00d5ff"/><stop offset="0.542" stop-color="#00c9ff"/><stop offset="0.583" stop-color="#00beff"/><stop offset="0.625" stop-color="#00b3ff"/><stop offset="0.667" stop-color="#00a7ff"/><stop offset="0.708" stop-color="#009cff"/><stop offset="0.750" stop-color="#0090ff"/><stop offset="0.792" stop-color="#0085ff"/><stop offset="0.833" stop-color="#0079ff"/><stop offset="0.875" stop-color="#006eff"/><stop offset="0.917" stop-color="#0062ff"/><stop offset="0.958" stop-color="#0057ff"/><stop offset="1.000" stop-color="#004bff"/></linearGradient><linearGradient id="cn3" gradientUnits="userSpaceOnUse" x1="378.5" y1="70" x2="464.5" y2="54.4"><stop offset="0.000" stop-color="#6cff93"/><stop offset="0.042" stop-color="#60ff9f"/><stop offset="0.083" stop-color="#55ffaa"/><stop offset="0.125" stop-color="#4affb5"/><stop offset="0.167" stop-color="#3effc1"/><stop offset="0.208" stop-color="#33ffcc"/><stop offset="0.250" stop-color="#28ffd7"/><stop offset="0.292" stop-color="#1cffe3"/><stop offset="0.333" stop-color="#11ffee"/><stop offset="0.375" stop-color="#05fffa"/><stop offset="0.417" stop-color="#00f9ff"/><stop offset="0.459" stop-color="#00edff"/><stop offset="0.500" stop-color="#00e2ff"/><stop offset="0.542" stop-color="#00d6ff"/><stop offset="0.584" stop-color="#00caff"/><stop offset="0.625" stop-color="#00bfff"/><stop offset="0.667" stop-color="#00b3ff"/><stop offset="0.708" stop-color="#00a7ff"/><stop offset="0.750" stop-color="#009bff"/><stop offset="0.792" stop-color="#0090ff"/><stop offset="0.833" stop-color="#0084ff"/><stop offset="0.875" stop-color="#0078ff"/><stop offset="0.917" stop-color="#006cff"/><stop offset="0.958" stop-color="#0060ff"/><stop offset="1.000" stop-color="#0054ff"/></linearGradient><linearGradient id="cn4" gradientUnits="userSpaceOnUse" x1="380.3" y1="70.5" x2="466.3" y2="55.1"><stop offset="0.000" stop-color="#7aff85"/><stop offset="0.042" stop-color="#6eff91"/><stop offset="0.083" stop-color="#63ff9c"/><stop offset="0.125" stop-color="#58ffa7"/><stop offset="0.167" stop-color="#4cffb3"/><stop offset="0.209" stop-color="#41ffbe"/><stop offset="0.250" stop-color="#35ffca"/><stop offset="0.292" stop-color="#2affd5"/><stop offset="0.334" stop-color="#1effe1"/><stop offset="0.375" stop-color="#12ffed"/><stop offset="0.417" stop-color="#07fff8"/><stop offset="0.459" stop-color="#00faff"/><stop offset="0.500" stop-color="#00eeff"/><stop offset="0.542" stop-color="#00e2ff"/><stop offset="0.584" stop-color="#00d7ff"/><stop offset="0.625" stop-color="#00cbff"/><stop offset="0.667" stop-color="#00bfff"/><stop offset="0.709" stop-color="#00b3ff"/><stop offset="0.750" stop-color="#00a7ff"/><stop offset="0.792" stop-color="#009aff"/><stop offset="0.833" stop-color="#008eff"/><stop offset="0.875" stop-color="#0082ff"/><stop offset="0.917" stop-color="#0076ff"/><stop offset="0.958" stop-color="#006aff"/><stop offset="1.000" stop-color="#005dff"/></linearGradient><linearGradient id="cn5" gradientUnits="userSpaceOnUse" x1="382" y1="71" x2="468" y2="55.8"><stop offset="0.000" stop-color="#88ff77"/><stop offset="0.042" stop-color="#7cff83"/><stop offset="0.083" stop-color="#71ff8e"/><stop offset="0.125" stop-color="#66ff99"/><stop offset="0.167" stop-color="#5affa5"/><stop offset="0.209" stop-color="#4fffb0"/><stop offset="0.250" stop-color="#43ffbc"/><stop offset="0.292" stop-color="#37ffc8"/><stop offset="0.334" stop-color="#2bffd4"/><stop offset="0.375" stop-color="#20ffdf"/><stop offset="0.417" stop-color="#14ffeb"/><stop offset="0.459" stop-color="#08fff7"/><stop offset="0.500" stop-color="#00fbff"/><stop offset="0.542" stop-color="#00efff"/><stop offset="0.584" stop-color="#00e3ff"/><stop offset="0.625" stop-color="#00d7ff"/><stop offset="0.667" stop-color="#00caff"/><stop offset="0.709" stop-color="#00beff"/><stop offset="0.750" stop-color="#00b2ff"/><stop offset="0.792" stop-color="#00a5ff"/><stop offset="0.834" stop-color="#0099ff"/><stop offset="0.875" stop-color="#008cff"/><stop offset="0.917" stop-color="#0080ff"/><stop offset="0.958" stop-color="#0073ff"/><stop offset="1.000" stop-color="#0066ff"/></linearGradient><linearGradient id="cn6" gradientUnits="userSpaceOnUse" x1="383.7" y1="71.4" x2="469.7" y2="56.5"><stop offset="0.000" stop-color="#96ff69"/><stop offset="0.042" stop-color="#8bff74"/><stop offset="0.083" stop-color="#7fff80"/><stop offset="0.125" stop-color="#74ff8b"/><stop offset="0.167" stop-color="#68ff97"/><stop offset="0.209" stop-color="#5cffa3"/><stop offset="0.250" stop-color="#51ffae"/><stop offset="0.292" stop-color="#45ffba"/><stop offset="0.334" stop-color="#39ffc6"/><stop offset="0.375" stop-color="#2dffd2"/><stop offset="0.417" stop-color="#21ffde"/><stop offset="0.459" stop-color="#15ffea"/><stop offset="0.500" stop-color="#08fff7"/><stop offset="0.542" stop-color="#00fbff"/><stop offset="0.584" stop-color="#00efff"/><stop offset="0.625" stop-color="#00e2ff"/><stop offset="0.667" stop-color="#00d6ff"/><stop offset="0.709" stop-color="#00c9ff"/><stop offset="0.750" stop-color="#00bdff"/><stop offset="0.792" stop-color="#00b0ff"/><stop offset="0.834" stop-color="#00a3ff"/><stop offset="0.875" stop-color="#0096ff"/><stop offset="0.917" stop-color="#0089ff"/><stop offset="0.958" stop-color="#007cff"/><stop offset="1.000" stop-color="#006fff"/></linearGradient><linearGradient id="cn7" gradientUnits="userSpaceOnUse" x1="385.5" y1="71.9" x2="471.5" y2="57.2"><stop offset="0.000" stop-color="#a4ff5b"/><stop offset="0.042" stop-color="#99ff66"/><stop offset="0.083" stop-color="#8dff72"/><stop offset="0.125" stop-color="#82ff7d"/><stop offset="0.167" stop-color="#76ff89"/><stop offset="0.209" stop-color="#6aff95"/><stop offset="0.250" stop-color="#5effa1"/><stop offset="0.292" stop-color="#52ffad"/><stop offset="0.334" stop-color="#46ffb9"/><stop offset="0.376" stop-color="#3affc5"/><stop offset="0.417" stop-color="#2effd1"/><stop offset="0.459" stop-color="#22ffdd"/><stop offset="0.501" stop-color="#15ffea"/><stop offset="0.542" stop-color="#09fff6"/><stop offset="0.584" stop-color="#00fbff"/><stop offset="0.626" stop-color="#00eeff"/><stop offset="0.667" stop-color="#00e2ff"/><stop offset="0.709" stop-color="#00d5ff"/><stop offset="0.750" stop-color="#00c8ff"/><stop offset="0.792" stop-color="#00bbff"/><stop offset="0.834" stop-color="#00aeff"/><stop offset="0.875" stop-color="#00a0ff"/><stop offset="0.917" stop-color="#0093ff"/><stop offset="0.958" stop-color="#0086ff"/><stop offset="1.000" stop-color="#0078ff"/></linearGradient><linearGradient id="cn8" gradientUnits="userSpaceOnUse" x1="387.2" y1="72.4" x2="473.2" y2="57.9"><stop offset="0.000" stop-color="#b3ff4c"/><stop offset="0.042" stop-color="#a7ff58"/><stop offset="0.084" stop-color="#9cff63"/><stop offset="0.125" stop-color="#90ff6f"/><stop offset="0.167" stop-color="#84ff7b"/><stop offset="0.209" stop-color="#78ff87"/><stop offset="0.250" stop-color="#6cff93"/><stop offset="0.292" stop-color="#60ff9f"/><stop offset="0.334" stop-color="#54ffab"/><stop offset="0.376" stop-color="#47ffb8"/><stop offset="0.417" stop-color="#3bffc4"/><stop offset="0.459" stop-color="#2effd1"/><stop offset="0.501" stop-color="#22ffdd"/><stop offset="0.542" stop-color="#15ffea"/><stop offset="0.584" stop-color="#08fff7"/><stop offset="0.626" stop-color="#00faff"/><stop offset="0.667" stop-color="#00edff"/><stop offset="0.709" stop-color="#00e0ff"/><stop offset="0.750" stop-color="#00d3ff"/><stop offset="0.792" stop-color="#00c5ff"/><stop offset="0.834" stop-color="#00b8ff"/><stop offset="0.875" stop-color="#00aaff"/><stop offset="0.917" stop-color="#009dff"/><stop offset="0.958" stop-color="#008fff"/><stop offset="1.000" stop-color="#0081ff"/></linearGradient><linearGradient id="cn9" gradientUnits="userSpaceOnUse" x1="388.9" y1="72.9" x2="474.9" y2="58.6"><stop offset="0.000" stop-color="#c1ff3e"/><stop offset="0.042" stop-color="#b6ff49"/><stop offset="0.084" stop-color="#aaff55"/><stop offset="0.125" stop-color="#9eff61"/><stop offset="0.167" stop-color="#92ff6d"/><stop offset="0.209" stop-color="#86ff79"/><stop offset="0.250" stop-color="#7aff85"/><stop offset="0.292" stop-color="#6dff92"/><stop offset="0.334" stop-color="#61ff9e"/><stop offset="0.376" stop-color="#54ffab"/><stop offset="0.417" stop-color="#48ffb7"/><stop offset="0.459" stop-color="#3bffc4"/><stop offset="0.501" stop-color="#2effd1"/><stop offset="0.542" stop-color="#21ffde"/><stop offset="0.584" stop-color="#14ffeb"/><stop offset="0.626" stop-color="#07fff8"/><stop offset="0.667" stop-color="#00f9ff"/><stop offset="0.709" stop-color="#00ebff"/><stop offset="0.750" stop-color="#00deff"/><stop offset="0.792" stop-color="#00d0ff"/><stop offset="0.834" stop-color="#00c2ff"/><stop offset="0.875" stop-color="#00b4ff"/><stop offset="0.917" stop-color="#00a6ff"/><stop offset="0.958" stop-color="#0098ff"/><stop offset="1.000" stop-color="#008aff"/></linearGradient><linearGradient id="cn10" gradientUnits="userSpaceOnUse" x1="390.6" y1="73.3" x2="476.6" y2="59.4"><stop offset="0.000" stop-color="#d0ff2f"/><stop offset="0.042" stop-color="#c4ff3b"/><stop offset="0.084" stop-color="#b8ff47"/><stop offset="0.125" stop-color="#acff53"/><stop offset="0.167" stop-color="#a0ff5f"/><stop offset="0.209" stop-color="#94ff6b"/><stop offset="0.251" stop-color="#88ff77"/><stop offset="0.292" stop-color="#7bff84"/><stop offset="0.334" stop-color="#6eff91"/><stop offset="0.376" stop-color="#62ff9d"/><stop offset="0.417" stop-color="#55ffaa"/><stop offset="0.459" stop-color="#48ffb7"/><stop offset="0.501" stop-color="#3bffc4"/><stop offset="0.542" stop-color="#2effd1"/><stop offset="0.584" stop-color="#20ffdf"/><stop offset="0.626" stop-color="#13ffec"/><stop offset="0.667" stop-color="#05fffa"/><stop offset="0.709" stop-color="#00f6ff"/><stop offset="0.751" stop-color="#00e9ff"/><stop offset="0.792" stop-color="#00dbff"/><stop offset="0.834" stop-color="#00cdff"/><stop offset="0.875" stop-color="#00beff"/><stop offset="0.917" stop-color="#00b0ff"/><stop offset="0.958" stop-color="#00a2ff"/><stop offset="1.000" stop-color="#0093ff"/></linearGradient><linearGradient id="cn11" gradientUnits="userSpaceOnUse" x1="392.4" y1="73.8" x2="478.4" y2="60.1"><stop offset="0.000" stop-color="#dfff20"/><stop offset="0.042" stop-color="#d3ff2c"/><stop offset="0.084" stop-color="#c7ff38"/><stop offset="0.125" stop-color="#bbff44"/><stop offset="0.167" stop-color="#aeff51"/><stop offset="0.209" stop-color="#a2ff5d"/><stop offset="0.251" stop-color="#95ff6a"/><stop offset="0.292" stop-color="#89ff76"/><stop offset="0.334" stop-color="#7cff83"/><stop offset="0.376" stop-color="#6fff90"/><stop offset="0.417" stop-color="#62ff9d"/><stop offset="0.459" stop-color="#55ffaa"/><stop offset="0.501" stop-color="#47ffb8"/><stop offset="0.542" stop-color="#3affc5"/><stop offset="0.584" stop-color="#2cffd3"/><stop offset="0.626" stop-color="#1effe1"/><stop offset="0.667" stop-color="#11ffee"/><stop offset="0.709" stop-color="#03fffc"/><stop offset="0.751" stop-color="#00f3ff"/><stop offset="0.792" stop-color="#00e5ff"/><stop offset="0.834" stop-color="#00d7ff"/><stop offset="0.875" stop-color="#00c8ff"/><stop offset="0.917" stop-color="#00baff"/><stop offset="0.958" stop-color="#00abff"/><stop offset="1.000" stop-color="#009cff"/></linearGradient><linearGradient id="cn12" gradientUnits="userSpaceOnUse" x1="394.1" y1="74.2" x2="480.1" y2="60.8"><stop offset="0.000" stop-color="#eeff11"/><stop offset="0.042" stop-color="#e2ff1d"/><stop offset="0.084" stop-color="#d5ff2a"/><stop offset="0.125" stop-color="#c9ff36"/><stop offset="0.167" stop-color="#bdff42"/><stop offset="0.209" stop-color="#b0ff4f"/><stop offset="0.251" stop-color="#a3ff5c"/><stop offset="0.292" stop-color="#96ff69"/><stop offset="0.334" stop-color="#89ff76"/><stop offset="0.376" stop-color="#7cff83"/><stop offset="0.417" stop-color="#6fff90"/><stop offset="0.459" stop-color="#61ff9e"/><stop offset="0.501" stop-color="#54ffab"/><stop offset="0.542" stop-color="#46ffb9"/><stop offset="0.584" stop-color="#38ffc7"/><stop offset="0.626" stop-color="#2affd5"/><stop offset="0.667" stop-color="#1cffe3"/><stop offset="0.709" stop-color="#0efff1"/><stop offset="0.751" stop-color="#00feff"/><stop offset="0.792" stop-color="#00f0ff"/><stop offset="0.834" stop-color="#00e1ff"/><stop offset="0.875" stop-color="#00d2ff"/><stop offset="0.917" stop-color="#00c3ff"/><stop offset="0.958" stop-color="#00b4ff"/><stop offset="1.000" stop-color="#00a5ff"/></linearGradient><linearGradient id="cn13" gradientUnits="userSpaceOnUse" x1="395.8" y1="74.7" x2="481.8" y2="61.5"><stop offset="0.000" stop-color="#fdff02"/><stop offset="0.042" stop-color="#f1ff0e"/><stop offset="0.084" stop-color="#e4ff1b"/><stop offset="0.125" stop-color="#d8ff27"/><stop offset="0.167" stop-color="#cbff34"/><stop offset="0.209" stop-color="#beff41"/><stop offset="0.251" stop-color="#b1ff4e"/><stop offset="0.292" stop-color="#a4ff5b"/><stop offset="0.334" stop-color="#97ff68"/><stop offset="0.376" stop-color="#89ff76"/><stop offset="0.417" stop-color="#7cff83"/><stop offset="0.459" stop-color="#6eff91"/><stop offset="0.501" stop-color="#60ff9f"/><stop offset="0.542" stop-color="#52ffad"/><stop offset="0.584" stop-color="#44ffbb"/><stop offset="0.626" stop-color="#36ffc9"/><stop offset="0.667" stop-color="#27ffd8"/><stop offset="0.709" stop-color="#19ffe6"/><stop offset="0.751" stop-color="#0afff5"/><stop offset="0.792" stop-color="#00faff"/><stop offset="0.834" stop-color="#00ebff"/><stop offset="0.875" stop-color="#00dcff"/><stop offset="0.917" stop-color="#00cdff"/><stop offset="0.958" stop-color="#00beff"/><stop offset="1.000" stop-color="#00aeff"/></linearGradient><linearGradient id="cn14" gradientUnits="userSpaceOnUse" x1="397.6" y1="75.1" x2="483.6" y2="62.2"><stop offset="0.000" stop-color="#fff200"/><stop offset="0.042" stop-color="#fffe00"/><stop offset="0.084" stop-color="#f3ff0c"/><stop offset="0.125" stop-color="#e6ff19"/><stop offset="0.167" stop-color="#d9ff26"/><stop offset="0.209" stop-color="#ccff33"/><stop offset="0.251" stop-color="#bfff40"/><stop offset="0.292" stop-color="#b2ff4d"/><stop offset="0.334" stop-color="#a4ff5b"/><stop offset="0.376" stop-color="#96ff69"/><stop offset="0.417" stop-color="#89ff76"/><stop offset="0.459" stop-color="#7bff84"/><stop offset="0.501" stop-color="#6dff92"/><stop offset="0.542" stop-color="#5effa1"/><stop offset="0.584" stop-color="#50ffaf"/><stop offset="0.626" stop-color="#41ffbe"/><stop offset="0.667" stop-color="#33ffcc"/><stop offset="0.709" stop-color="#24ffdb"/><stop offset="0.751" stop-color="#15ffea"/><stop offset="0.792" stop-color="#06fff9"/><stop offset="0.834" stop-color="#00f6ff"/><stop offset="0.875" stop-color="#00e6ff"/><stop offset="0.917" stop-color="#00d7ff"/><stop offset="0.958" stop-color="#00c7ff"/><stop offset="1.000" stop-color="#00b7ff"/></linearGradient><linearGradient id="cn15" gradientUnits="userSpaceOnUse" x1="399.3" y1="75.6" x2="485.3" y2="62.9"><stop offset="0.000" stop-color="#ffe300"/><stop offset="0.042" stop-color="#ffef00"/><stop offset="0.084" stop-color="#fffc00"/><stop offset="0.125" stop-color="#f5ff0a"/><stop offset="0.167" stop-color="#e8ff17"/><stop offset="0.209" stop-color="#daff25"/><stop offset="0.251" stop-color="#cdff32"/><stop offset="0.292" stop-color="#bfff40"/><stop offset="0.334" stop-color="#b1ff4e"/><stop offset="0.376" stop-color="#a4ff5b"/><stop offset="0.417" stop-color="#95ff6a"/><stop offset="0.459" stop-color="#87ff78"/><stop offset="0.501" stop-color="#79ff86"/><stop offset="0.542" stop-color="#6aff95"/><stop offset="0.584" stop-color="#5cffa3"/><stop offset="0.626" stop-color="#4dffb2"/><stop offset="0.667" stop-color="#3effc1"/><stop offset="0.709" stop-color="#2fffd0"/><stop offset="0.751" stop-color="#20ffdf"/><stop offset="0.792" stop-color="#10ffef"/><stop offset="0.834" stop-color="#01fffe"/><stop offset="0.875" stop-color="#00f0ff"/><stop offset="0.917" stop-color="#00e0ff"/><stop offset="0.958" stop-color="#00d0ff"/><stop offset="1.000" stop-color="#00c0ff"/></linearGradient><linearGradient id="cn16" gradientUnits="userSpaceOnUse" x1="401" y1="76" x2="487" y2="63.6"><stop offset="0.000" stop-color="#ffd300"/><stop offset="0.042" stop-color="#ffe000"/><stop offset="0.084" stop-color="#ffed00"/><stop offset="0.125" stop-color="#fffb00"/><stop offset="0.167" stop-color="#f6ff09"/><stop offset="0.209" stop-color="#e8ff17"/><stop offset="0.251" stop-color="#dbff24"/><stop offset="0.292" stop-color="#cdff32"/><stop offset="0.334" stop-color="#bfff40"/><stop offset="0.376" stop-color="#b1ff4e"/><stop offset="0.417" stop-color="#a2ff5d"/><stop offset="0.459" stop-color="#94ff6b"/><stop offset="0.501" stop-color="#85ff7a"/><stop offset="0.542" stop-color="#77ff88"/><stop offset="0.584" stop-color="#68ff97"/><stop offset="0.626" stop-color="#59ffa6"/><stop offset="0.667" stop-color="#49ffb6"/><stop offset="0.709" stop-color="#3affc5"/><stop offset="0.751" stop-color="#2bffd4"/><stop offset="0.792" stop-color="#1bffe4"/><stop offset="0.834" stop-color="#0bfff4"/><stop offset="0.875" stop-color="#00faff"/><stop offset="0.917" stop-color="#00eaff"/><stop offset="0.958" stop-color="#00daff"/><stop offset="1.000" stop-color="#00c9ff"/></linearGradient><linearGradient id="cn17" gradientUnits="userSpaceOnUse" x1="402.7" y1="76.4" x2="488.7" y2="64.3"><stop offset="0.000" stop-color="#ffc400"/><stop offset="0.042" stop-color="#ffd100"/><stop offset="0.084" stop-color="#ffde00"/><stop offset="0.125" stop-color="#ffec00"/><stop offset="0.167" stop-color="#fff900"/><stop offset="0.209" stop-color="#f7ff08"/><stop offset="0.251" stop-color="#e9ff16"/><stop offset="0.292" stop-color="#dbff24"/><stop offset="0.334" stop-color="#ccff33"/><stop offset="0.376" stop-color="#beff41"/><stop offset="0.417" stop-color="#afff50"/><stop offset="0.459" stop-color="#a1ff5e"/><stop offset="0.501" stop-color="#92ff6d"/><stop offset="0.542" stop-color="#83ff7c"/><stop offset="0.584" stop-color="#73ff8c"/><stop offset="0.626" stop-color="#64ff9b"/><stop offset="0.667" stop-color="#55ffaa"/><stop offset="0.709" stop-color="#45ffba"/><stop offset="0.751" stop-color="#35ffca"/><stop offset="0.792" stop-color="#25ffda"/><stop offset="0.834" stop-color="#15ffea"/><stop offset="0.875" stop-color="#05fffa"/><stop offset="0.917" stop-color="#00f4ff"/><stop offset="0.958" stop-color="#00e3ff"/><stop offset="1.000" stop-color="#00d3ff"/></linearGradient><linearGradient id="cn18" gradientUnits="userSpaceOnUse" x1="404.5" y1="76.9" x2="490.5" y2="65"><stop offset="0.000" stop-color="#ffb400"/><stop offset="0.042" stop-color="#ffc100"/><stop offset="0.084" stop-color="#ffcf00"/><stop offset="0.125" stop-color="#ffdd00"/><stop offset="0.167" stop-color="#ffeb00"/><stop offset="0.209" stop-color="#fff900"/><stop offset="0.251" stop-color="#f7ff08"/><stop offset="0.292" stop-color="#e8ff17"/><stop offset="0.334" stop-color="#daff25"/><stop offset="0.376" stop-color="#cbff34"/><stop offset="0.417" stop-color="#bcff43"/><stop offset="0.459" stop-color="#adff52"/><stop offset="0.501" stop-color="#9eff61"/><stop offset="0.542" stop-color="#8fff70"/><stop offset="0.584" stop-color="#7fff80"/><stop offset="0.626" stop-color="#70ff8f"/><stop offset="0.667" stop-color="#60ff9f"/><stop offset="0.709" stop-color="#50ffaf"/><stop offset="0.751" stop-color="#40ffbf"/><stop offset="0.792" stop-color="#30ffcf"/><stop offset="0.834" stop-color="#1fffe0"/><stop offset="0.875" stop-color="#0ffff0"/><stop offset="0.917" stop-color="#00fdff"/><stop offset="0.958" stop-color="#00edff"/><stop offset="1.000" stop-color="#00dcff"/></linearGradient><linearGradient id="cn19" gradientUnits="userSpaceOnUse" x1="406.2" y1="77.3" x2="492.2" y2="65.7"><stop offset="0.000" stop-color="#ffa400"/><stop offset="0.042" stop-color="#ffb200"/><stop offset="0.084" stop-color="#ffc000"/><stop offset="0.125" stop-color="#ffce00"/><stop offset="0.167" stop-color="#ffdc00"/><stop offset="0.209" stop-color="#ffeb00"/><stop offset="0.251" stop-color="#fff900"/><stop offset="0.292" stop-color="#f6ff09"/><stop offset="0.334" stop-color="#e7ff18"/><stop offset="0.376" stop-color="#d8ff27"/><stop offset="0.417" stop-color="#c9ff36"/><stop offset="0.459" stop-color="#baff45"/><stop offset="0.501" stop-color="#aaff55"/><stop offset="0.542" stop-color="#9bff64"/><stop offset="0.584" stop-color="#8bff74"/><stop offset="0.626" stop-color="#7bff84"/><stop offset="0.667" stop-color="#6bff94"/><stop offset="0.709" stop-color="#5bffa4"/><stop offset="0.751" stop-color="#4bffb4"/><stop offset="0.792" stop-color="#3affc5"/><stop offset="0.834" stop-color="#2affd5"/><stop offset="0.875" stop-color="#19ffe6"/><stop offset="0.917" stop-color="#08fff7"/><stop offset="0.958" stop-color="#00f6ff"/><stop offset="1.000" stop-color="#00e5ff"/></linearGradient><linearGradient id="cn20" gradientUnits="userSpaceOnUse" x1="407.9" y1="77.7" x2="493.9" y2="66.4"><stop offset="0.000" stop-color="#ff9400"/><stop offset="0.042" stop-color="#ffa200"/><stop offset="0.084" stop-color="#ffb100"/><stop offset="0.125" stop-color="#ffbf00"/><stop offset="0.167" stop-color="#ffce00"/><stop offset="0.209" stop-color="#ffdc00"/><stop offset="0.250" stop-color="#ffeb00"/><stop offset="0.292" stop-color="#fffa00"/><stop offset="0.334" stop-color="#f5ff0a"/><stop offset="0.376" stop-color="#e5ff1a"/><stop offset="0.417" stop-color="#d6ff29"/><stop offset="0.459" stop-color="#c6ff39"/><stop offset="0.501" stop-color="#b6ff49"/><stop offset="0.542" stop-color="#a7ff58"/><stop offset="0.584" stop-color="#97ff68"/><stop offset="0.626" stop-color="#86ff79"/><stop offset="0.667" stop-color="#76ff89"/><stop offset="0.709" stop-color="#66ff99"/><stop offset="0.750" stop-color="#55ffaa"/><stop offset="0.792" stop-color="#45ffba"/><stop offset="0.834" stop-color="#34ffcb"/><stop offset="0.875" stop-color="#23ffdc"/><stop offset="0.917" stop-color="#12ffed"/><stop offset="0.958" stop-color="#00ffff"/><stop offset="1.000" stop-color="#00eeff"/></linearGradient><linearGradient id="cn21" gradientUnits="userSpaceOnUse" x1="409.6" y1="78.1" x2="495.6" y2="67.1"><stop offset="0.000" stop-color="#ff8400"/><stop offset="0.042" stop-color="#ff9300"/><stop offset="0.084" stop-color="#ffa100"/><stop offset="0.125" stop-color="#ffb000"/><stop offset="0.167" stop-color="#ffbf00"/><stop offset="0.209" stop-color="#ffce00"/><stop offset="0.250" stop-color="#ffdd00"/><stop offset="0.292" stop-color="#ffed00"/><stop offset="0.334" stop-color="#fffc00"/><stop offset="0.376" stop-color="#f2ff0d"/><stop offset="0.417" stop-color="#e3ff1c"/><stop offset="0.459" stop-color="#d3ff2c"/><stop offset="0.501" stop-color="#c3ff3c"/><stop offset="0.542" stop-color="#b3ff4c"/><stop offset="0.584" stop-color="#a2ff5d"/><stop offset="0.626" stop-color="#92ff6d"/><stop offset="0.667" stop-color="#81ff7e"/><stop offset="0.709" stop-color="#71ff8e"/><stop offset="0.750" stop-color="#60ff9f"/><stop offset="0.792" stop-color="#4fffb0"/><stop offset="0.834" stop-color="#3effc1"/><stop offset="0.875" stop-color="#2dffd2"/><stop offset="0.917" stop-color="#1bffe4"/><stop offset="0.958" stop-color="#0afff5"/><stop offset="1.000" stop-color="#00f7ff"/></linearGradient><linearGradient id="cn22" gradientUnits="userSpaceOnUse" x1="411.4" y1="78.5" x2="497.4" y2="67.8"><stop offset="0.000" stop-color="#ff7400"/><stop offset="0.042" stop-color="#ff8300"/><stop offset="0.084" stop-color="#ff9200"/><stop offset="0.125" stop-color="#ffa100"/><stop offset="0.167" stop-color="#ffb000"/><stop offset="0.209" stop-color="#ffc000"/><stop offset="0.250" stop-color="#ffcf00"/><stop offset="0.292" stop-color="#ffdf00"/><stop offset="0.334" stop-color="#ffef00"/><stop offset="0.376" stop-color="#ffff00"/><stop offset="0.417" stop-color="#efff10"/><stop offset="0.459" stop-color="#dfff20"/><stop offset="0.501" stop-color="#cfff30"/><stop offset="0.542" stop-color="#beff41"/><stop offset="0.584" stop-color="#aeff51"/><stop offset="0.626" stop-color="#9dff62"/><stop offset="0.667" stop-color="#8cff73"/><stop offset="0.709" stop-color="#7bff84"/><stop offset="0.750" stop-color="#6aff95"/><stop offset="0.792" stop-color="#59ffa6"/><stop offset="0.834" stop-color="#48ffb7"/><stop offset="0.875" stop-color="#36ffc9"/><stop offset="0.917" stop-color="#25ffda"/><stop offset="0.958" stop-color="#13ffec"/><stop offset="1.000" stop-color="#01fffe"/></linearGradient><linearGradient id="cn23" gradientUnits="userSpaceOnUse" x1="413.1" y1="78.9" x2="499.1" y2="68.6"><stop offset="0.000" stop-color="#ff6400"/><stop offset="0.042" stop-color="#ff7300"/><stop offset="0.083" stop-color="#ff8200"/><stop offset="0.125" stop-color="#ff9200"/><stop offset="0.167" stop-color="#ffa100"/><stop offset="0.209" stop-color="#ffb100"/><stop offset="0.250" stop-color="#ffc100"/><stop offset="0.292" stop-color="#ffd100"/><stop offset="0.334" stop-color="#ffe100"/><stop offset="0.375" stop-color="#fff100"/><stop offset="0.417" stop-color="#fcff03"/><stop offset="0.459" stop-color="#ecff13"/><stop offset="0.501" stop-color="#dbff24"/><stop offset="0.542" stop-color="#caff35"/><stop offset="0.584" stop-color="#baff45"/><stop offset="0.625" stop-color="#a9ff56"/><stop offset="0.667" stop-color="#97ff68"/><stop offset="0.709" stop-color="#86ff79"/><stop offset="0.750" stop-color="#75ff8a"/><stop offset="0.792" stop-color="#63ff9c"/><stop offset="0.834" stop-color="#52ffad"/><stop offset="0.875" stop-color="#40ffbf"/><stop offset="0.917" stop-color="#2effd1"/><stop offset="0.958" stop-color="#1cffe3"/><stop offset="1.000" stop-color="#0afff5"/></linearGradient><linearGradient id="cn24" gradientUnits="userSpaceOnUse" x1="414.8" y1="79.3" x2="500.8" y2="69.3"><stop offset="0.000" stop-color="#ff5300"/><stop offset="0.042" stop-color="#ff6300"/><stop offset="0.083" stop-color="#ff7300"/><stop offset="0.125" stop-color="#ff8300"/><stop offset="0.167" stop-color="#ff9300"/><stop offset="0.209" stop-color="#ffa300"/><stop offset="0.250" stop-color="#ffb300"/><stop offset="0.292" stop-color="#ffc300"/><stop offset="0.334" stop-color="#ffd400"/><stop offset="0.375" stop-color="#ffe400"/><stop offset="0.417" stop-color="#fff500"/><stop offset="0.459" stop-color="#f8ff07"/><stop offset="0.500" stop-color="#e7ff18"/><stop offset="0.542" stop-color="#d6ff29"/><stop offset="0.584" stop-color="#c5ff3a"/><stop offset="0.625" stop-color="#b4ff4b"/><stop offset="0.667" stop-color="#a2ff5d"/><stop offset="0.709" stop-color="#91ff6e"/><stop offset="0.750" stop-color="#7fff80"/><stop offset="0.792" stop-color="#6eff91"/><stop offset="0.834" stop-color="#5cffa3"/><stop offset="0.875" stop-color="#4affb5"/><stop offset="0.917" stop-color="#38ffc7"/><stop offset="0.958" stop-color="#26ffd9"/><stop offset="1.000" stop-color="#14ffeb"/></linearGradient><linearGradient id="cn25" gradientUnits="userSpaceOnUse" x1="416.6" y1="79.7" x2="502.6" y2="70"><stop offset="0.000" stop-color="#ff4300"/><stop offset="0.042" stop-color="#ff5300"/><stop offset="0.083" stop-color="#ff6300"/><stop offset="0.125" stop-color="#ff7300"/><stop offset="0.167" stop-color="#ff8400"/><stop offset="0.209" stop-color="#ff9400"/><stop offset="0.250" stop-color="#ffa500"/><stop offset="0.292" stop-color="#ffb600"/><stop offset="0.334" stop-color="#ffc600"/><stop offset="0.375" stop-color="#ffd700"/><stop offset="0.417" stop-color="#ffe800"/><stop offset="0.459" stop-color="#fff900"/><stop offset="0.500" stop-color="#f3ff0c"/><stop offset="0.542" stop-color="#e2ff1d"/><stop offset="0.584" stop-color="#d1ff2e"/><stop offset="0.625" stop-color="#bfff40"/><stop offset="0.667" stop-color="#adff52"/><stop offset="0.709" stop-color="#9cff63"/><stop offset="0.750" stop-color="#8aff75"/><stop offset="0.792" stop-color="#78ff87"/><stop offset="0.834" stop-color="#66ff99"/><stop offset="0.875" stop-color="#54ffab"/><stop offset="0.917" stop-color="#42ffbd"/><stop offset="0.958" stop-color="#2fffd0"/><stop offset="1.000" stop-color="#1dffe2"/></linearGradient><linearGradient id="cn26" gradientUnits="userSpaceOnUse" x1="418.3" y1="80" x2="504.3" y2="70.7"><stop offset="0.000" stop-color="#ff3200"/><stop offset="0.042" stop-color="#ff4200"/><stop offset="0.083" stop-color="#ff5300"/><stop offset="0.125" stop-color="#ff6400"/><stop offset="0.167" stop-color="#ff7500"/><stop offset="0.209" stop-color="#ff8600"/><stop offset="0.250" stop-color="#ff9700"/><stop offset="0.292" stop-color="#ffa800"/><stop offset="0.334" stop-color="#ffb900"/><stop offset="0.375" stop-color="#ffca00"/><stop offset="0.417" stop-color="#ffdc00"/><stop offset="0.459" stop-color="#ffed00"/><stop offset="0.500" stop-color="#ffff00"/><stop offset="0.542" stop-color="#eeff11"/><stop offset="0.584" stop-color="#dcff23"/><stop offset="0.625" stop-color="#caff35"/><stop offset="0.667" stop-color="#b8ff47"/><stop offset="0.709" stop-color="#a6ff59"/><stop offset="0.750" stop-color="#94ff6b"/><stop offset="0.792" stop-color="#82ff7d"/><stop offset="0.834" stop-color="#70ff8f"/><stop offset="0.875" stop-color="#5effa1"/><stop offset="0.917" stop-color="#4bffb4"/><stop offset="0.958" stop-color="#39ffc6"/><stop offset="1.000" stop-color="#26ffd9"/></linearGradient><linearGradient id="cn27" gradientUnits="userSpaceOnUse" x1="420" y1="80.4" x2="506" y2="71.4"><stop offset="0.000" stop-color="#ff2100"/><stop offset="0.042" stop-color="#ff3200"/><stop offset="0.083" stop-color="#ff4300"/><stop offset="0.125" stop-color="#ff5400"/><stop offset="0.167" stop-color="#ff6600"/><stop offset="0.209" stop-color="#ff7700"/><stop offset="0.250" stop-color="#ff8800"/><stop offset="0.292" stop-color="#ff9a00"/><stop offset="0.334" stop-color="#ffab00"/><stop offset="0.375" stop-color="#ffbd00"/><stop offset="0.417" stop-color="#ffcf00"/><stop offset="0.459" stop-color="#ffe100"/><stop offset="0.500" stop-color="#fff200"/><stop offset="0.542" stop-color="#faff05"/><stop offset="0.584" stop-color="#e8ff17"/><stop offset="0.625" stop-color="#d5ff2a"/><stop offset="0.667" stop-color="#c3ff3c"/><stop offset="0.709" stop-color="#b1ff4e"/><stop offset="0.750" stop-color="#9fff60"/><stop offset="0.792" stop-color="#8cff73"/><stop offset="0.833" stop-color="#7aff85"/><stop offset="0.875" stop-color="#67ff98"/><stop offset="0.917" stop-color="#55ffaa"/><stop offset="0.958" stop-color="#42ffbd"/><stop offset="1.000" stop-color="#2fffd0"/></linearGradient><linearGradient id="cn28" gradientUnits="userSpaceOnUse" x1="421.7" y1="80.8" x2="507.7" y2="72.1"><stop offset="0.000" stop-color="#ff1000"/><stop offset="0.042" stop-color="#ff2200"/><stop offset="0.083" stop-color="#ff3300"/><stop offset="0.125" stop-color="#ff4500"/><stop offset="0.167" stop-color="#ff5700"/><stop offset="0.208" stop-color="#ff6800"/><stop offset="0.250" stop-color="#ff7a00"/><stop offset="0.292" stop-color="#ff8c00"/><stop offset="0.334" stop-color="#ff9e00"/><stop offset="0.375" stop-color="#ffb000"/><stop offset="0.417" stop-color="#ffc200"/><stop offset="0.459" stop-color="#ffd400"/><stop offset="0.500" stop-color="#ffe600"/><stop offset="0.542" stop-color="#fff900"/><stop offset="0.584" stop-color="#f3ff0c"/><stop offset="0.625" stop-color="#e1ff1e"/><stop offset="0.667" stop-color="#ceff31"/><stop offset="0.709" stop-color="#bcff43"/><stop offset="0.750" stop-color="#a9ff56"/><stop offset="0.792" stop-color="#97ff68"/><stop offset="0.833" stop-color="#84ff7b"/><stop offset="0.875" stop-color="#71ff8e"/><stop offset="0.917" stop-color="#5effa1"/><stop offset="0.958" stop-color="#4bffb4"/><stop offset="1.000" stop-color="#38ffc7"/></linearGradient><linearGradient id="cn29" gradientUnits="userSpaceOnUse" x1="423.5" y1="81.1" x2="509.5" y2="72.8"><stop offset="0.000" stop-color="#fe0000"/><stop offset="0.042" stop-color="#ff1100"/><stop offset="0.083" stop-color="#ff2300"/><stop offset="0.125" stop-color="#ff3500"/><stop offset="0.167" stop-color="#ff4700"/><stop offset="0.208" stop-color="#ff5a00"/><stop offset="0.250" stop-color="#ff6c00"/><stop offset="0.292" stop-color="#ff7e00"/><stop offset="0.333" stop-color="#ff9100"/><stop offset="0.375" stop-color="#ffa300"/><stop offset="0.417" stop-color="#ffb500"/><stop offset="0.458" stop-color="#ffc800"/><stop offset="0.500" stop-color="#ffda00"/><stop offset="0.542" stop-color="#ffed00"/><stop offset="0.583" stop-color="#feff01"/><stop offset="0.625" stop-color="#ecff13"/><stop offset="0.667" stop-color="#d9ff26"/><stop offset="0.708" stop-color="#c6ff39"/><stop offset="0.750" stop-color="#b3ff4c"/><stop offset="0.792" stop-color="#a1ff5e"/><stop offset="0.833" stop-color="#8eff71"/><stop offset="0.875" stop-color="#7bff84"/><stop offset="0.917" stop-color="#68ff97"/><stop offset="0.958" stop-color="#55ffaa"/><stop offset="1.000" stop-color="#42ffbd"/></linearGradient><linearGradient id="cn30" gradientUnits="userSpaceOnUse" x1="425.2" y1="81.5" x2="511.2" y2="73.5"><stop offset="0.000" stop-color="#ed0000"/><stop offset="0.042" stop-color="#ff0100"/><stop offset="0.083" stop-color="#ff1300"/><stop offset="0.125" stop-color="#ff2600"/><stop offset="0.167" stop-color="#ff3800"/><stop offset="0.208" stop-color="#ff4b00"/><stop offset="0.250" stop-color="#ff5e00"/><stop offset="0.292" stop-color="#ff7000"/><stop offset="0.333" stop-color="#ff8300"/><stop offset="0.375" stop-color="#ff9600"/><stop offset="0.417" stop-color="#ffa900"/><stop offset="0.458" stop-color="#ffbc00"/><stop offset="0.500" stop-color="#ffce00"/><stop offset="0.542" stop-color="#ffe100"/><stop offset="0.583" stop-color="#fff400"/><stop offset="0.625" stop-color="#f7ff08"/><stop offset="0.667" stop-color="#e4ff1b"/><stop offset="0.708" stop-color="#d1ff2e"/><stop offset="0.750" stop-color="#beff41"/><stop offset="0.792" stop-color="#abff54"/><stop offset="0.833" stop-color="#98ff67"/><stop offset="0.875" stop-color="#85ff7a"/><stop offset="0.917" stop-color="#71ff8e"/><stop offset="0.958" stop-color="#5effa1"/><stop offset="1.000" stop-color="#4bffb4"/></linearGradient><linearGradient id="cn31" gradientUnits="userSpaceOnUse" x1="426.9" y1="81.8" x2="512.9" y2="74.2"><stop offset="0.000" stop-color="#dc0000"/><stop offset="0.042" stop-color="#ef0000"/><stop offset="0.083" stop-color="#ff0300"/><stop offset="0.125" stop-color="#ff1600"/><stop offset="0.167" stop-color="#ff2900"/><stop offset="0.208" stop-color="#ff3c00"/><stop offset="0.250" stop-color="#ff4f00"/><stop offset="0.292" stop-color="#ff6300"/><stop offset="0.333" stop-color="#ff7600"/><stop offset="0.375" stop-color="#ff8900"/><stop offset="0.417" stop-color="#ff9c00"/><stop offset="0.458" stop-color="#ffaf00"/><stop offset="0.500" stop-color="#ffc200"/><stop offset="0.542" stop-color="#ffd600"/><stop offset="0.583" stop-color="#ffe900"/><stop offset="0.625" stop-color="#fffc00"/><stop offset="0.667" stop-color="#efff10"/><stop offset="0.708" stop-color="#dbff24"/><stop offset="0.750" stop-color="#c8ff37"/><stop offset="0.792" stop-color="#b5ff4a"/><stop offset="0.833" stop-color="#a2ff5d"/><stop offset="0.875" stop-color="#8eff71"/><stop offset="0.917" stop-color="#7bff84"/><stop offset="0.958" stop-color="#68ff97"/><stop offset="1.000" stop-color="#54ffab"/></linearGradient><linearGradient id="cn32" gradientUnits="userSpaceOnUse" x1="428.7" y1="82.2" x2="514.7" y2="74.9"><stop offset="0.000" stop-color="#ca0000"/><stop offset="0.042" stop-color="#de0000"/><stop offset="0.083" stop-color="#f20000"/><stop offset="0.125" stop-color="#ff0600"/><stop offset="0.167" stop-color="#ff1a00"/><stop offset="0.208" stop-color="#ff2d00"/><stop offset="0.250" stop-color="#ff4100"/><stop offset="0.292" stop-color="#ff5500"/><stop offset="0.333" stop-color="#ff6800"/><stop offset="0.375" stop-color="#ff7c00"/><stop offset="0.417" stop-color="#ff8f00"/><stop offset="0.458" stop-color="#ffa300"/><stop offset="0.500" stop-color="#ffb700"/><stop offset="0.542" stop-color="#ffca00"/><stop offset="0.583" stop-color="#ffde00"/><stop offset="0.625" stop-color="#fff100"/><stop offset="0.667" stop-color="#f9ff06"/><stop offset="0.708" stop-color="#e6ff19"/><stop offset="0.750" stop-color="#d2ff2d"/><stop offset="0.792" stop-color="#bfff40"/><stop offset="0.833" stop-color="#abff54"/><stop offset="0.875" stop-color="#98ff67"/><stop offset="0.917" stop-color="#84ff7b"/><stop offset="0.958" stop-color="#71ff8e"/><stop offset="1.000" stop-color="#5effa1"/></linearGradient><linearGradient id="cn33" gradientUnits="userSpaceOnUse" x1="430.4" y1="82.5" x2="516.4" y2="75.6"><stop offset="0.000" stop-color="#b90000"/><stop offset="0.042" stop-color="#cd0000"/><stop offset="0.083" stop-color="#e10000"/><stop offset="0.125" stop-color="#f50000"/><stop offset="0.167" stop-color="#ff0a00"/><stop offset="0.208" stop-color="#ff1f00"/><stop offset="0.250" stop-color="#ff3300"/><stop offset="0.292" stop-color="#ff4700"/><stop offset="0.333" stop-color="#ff5b00"/><stop offset="0.375" stop-color="#ff6f00"/><stop offset="0.417" stop-color="#ff8300"/><stop offset="0.458" stop-color="#ff9700"/><stop offset="0.500" stop-color="#ffab00"/><stop offset="0.542" stop-color="#ffbe00"/><stop offset="0.583" stop-color="#ffd200"/><stop offset="0.625" stop-color="#ffe600"/><stop offset="0.667" stop-color="#fffa00"/><stop offset="0.708" stop-color="#f0ff0f"/><stop offset="0.750" stop-color="#ddff22"/><stop offset="0.792" stop-color="#c9ff36"/><stop offset="0.833" stop-color="#b5ff4a"/><stop offset="0.875" stop-color="#a2ff5d"/><stop offset="0.917" stop-color="#8eff71"/><stop offset="0.958" stop-color="#7aff85"/><stop offset="1.000" stop-color="#67ff98"/></linearGradient><linearGradient id="cn34" gradientUnits="userSpaceOnUse" x1="432.1" y1="82.9" x2="518.1" y2="76.3"><stop offset="0.000" stop-color="#a70000"/><stop offset="0.042" stop-color="#bc0000"/><stop offset="0.083" stop-color="#d10000"/><stop offset="0.125" stop-color="#e50000"/><stop offset="0.167" stop-color="#fa0000"/><stop offset="0.208" stop-color="#ff1000"/><stop offset="0.250" stop-color="#ff2400"/><stop offset="0.292" stop-color="#ff3900"/><stop offset="0.333" stop-color="#ff4d00"/><stop offset="0.375" stop-color="#ff6200"/><stop offset="0.417" stop-color="#ff7600"/><stop offset="0.458" stop-color="#ff8a00"/><stop offset="0.500" stop-color="#ff9f00"/><stop offset="0.542" stop-color="#ffb300"/><stop offset="0.583" stop-color="#ffc700"/><stop offset="0.625" stop-color="#ffdb00"/><stop offset="0.667" stop-color="#ffef00"/><stop offset="0.708" stop-color="#fbff04"/><stop offset="0.750" stop-color="#e7ff18"/><stop offset="0.792" stop-color="#d3ff2c"/><stop offset="0.833" stop-color="#bfff40"/><stop offset="0.875" stop-color="#abff54"/><stop offset="0.917" stop-color="#98ff67"/><stop offset="0.958" stop-color="#84ff7b"/><stop offset="1.000" stop-color="#70ff8f"/></linearGradient><linearGradient id="cn35" gradientUnits="userSpaceOnUse" x1="433.8" y1="83.2" x2="519.8" y2="77"><stop offset="0.000" stop-color="#950000"/><stop offset="0.042" stop-color="#ab0000"/><stop offset="0.083" stop-color="#c00000"/><stop offset="0.125" stop-color="#d50000"/><stop offset="0.167" stop-color="#eb0000"/><stop offset="0.208" stop-color="#ff0100"/><stop offset="0.250" stop-color="#ff1600"/><stop offset="0.292" stop-color="#ff2b00"/><stop offset="0.333" stop-color="#ff4000"/><stop offset="0.375" stop-color="#ff5500"/><stop offset="0.416" stop-color="#ff6a00"/><stop offset="0.458" stop-color="#ff7e00"/><stop offset="0.500" stop-color="#ff9300"/><stop offset="0.541" stop-color="#ffa700"/><stop offset="0.583" stop-color="#ffbc00"/><stop offset="0.625" stop-color="#ffd000"/><stop offset="0.666" stop-color="#ffe500"/><stop offset="0.708" stop-color="#fff900"/><stop offset="0.750" stop-color="#f1ff0e"/><stop offset="0.792" stop-color="#ddff22"/><stop offset="0.833" stop-color="#c9ff36"/><stop offset="0.875" stop-color="#b5ff4a"/><stop offset="0.917" stop-color="#a1ff5e"/><stop offset="0.958" stop-color="#8dff72"/><stop offset="1.000" stop-color="#7aff85"/></linearGradient></defs>
<g><path d="M372.5 68.2L376.1 67.5L379.7 66.9L383.2 66.2L386.8 65.5L390.4 64.9L394 64.2L397.6 63.5L401.2 62.9L404.8 62.2L408.3 61.5L411.9 60.8L415.5 60.2L419.1 59.5L422.7 58.8L426.3 58.1L429.8 57.4L433.4 56.7L437 56L440.6 55.3L444.2 54.6L447.8 53.9L451.3 53.3L454.9 52.6L458.5 51.9L462 53.3L458.4 53.9L454.8 54.6L451.2 55.3L447.6 55.9L444 56.6L440.5 57.3L436.9 57.9L433.3 58.6L429.7 59.3L426.1 59.9L422.5 60.6L419 61.2L415.4 61.9L411.8 62.6L408.2 63.2L404.6 63.9L401 64.6L397.5 65.2L393.9 65.9L390.3 66.6L386.7 67.2L383.1 67.9L379.5 68.6L376 69.2Z" fill="url(#cn0)"/><path d="M374.2 68.7L377.8 68L381.4 67.4L385 66.7L388.6 66.1L392.1 65.4L395.7 64.7L399.3 64L402.9 63.4L406.5 62.7L410.1 62L413.6 61.4L417.2 60.7L420.8 60L424.4 59.4L428 58.7L431.6 58L435.1 57.3L438.7 56.6L442.3 56L445.9 55.3L449.5 54.6L453.1 53.9L456.6 53.2L460.2 52.6L463.7 54L460.1 54.6L456.5 55.3L452.9 55.9L449.4 56.6L445.8 57.2L442.2 57.9L438.6 58.5L435 59.2L431.4 59.8L427.9 60.5L424.3 61.1L420.7 61.8L417.1 62.5L413.5 63.1L409.9 63.8L406.4 64.4L402.8 65.1L399.2 65.7L395.6 66.4L392 67.1L388.4 67.7L384.9 68.4L381.3 69.1L377.7 69.7Z" fill="url(#cn1)"/><path d="M376 69.2L379.5 68.6L383.1 67.9L386.7 67.2L390.3 66.6L393.9 65.9L397.5 65.2L401 64.6L404.6 63.9L408.2 63.2L411.8 62.6L415.4 61.9L419 61.2L422.5 60.6L426.1 59.9L429.7 59.3L433.3 58.6L436.9 57.9L440.5 57.3L444 56.6L447.6 55.9L451.2 55.3L454.8 54.6L458.4 53.9L462 53.3L465.4 54.7L461.8 55.3L458.2 56L454.7 56.6L451.1 57.2L447.5 57.9L443.9 58.5L440.3 59.1L436.7 59.8L433.2 60.4L429.6 61.1L426 61.7L422.4 62.4L418.8 63L415.2 63.6L411.7 64.3L408.1 64.9L404.5 65.6L400.9 66.3L397.3 66.9L393.7 67.6L390.2 68.2L386.6 68.9L383 69.6L379.4 70.2Z" fill="url(#cn2)"/><path d="M377.7 69.7L381.3 69.1L384.9 68.4L388.4 67.7L392 67.1L395.6 66.4L399.2 65.7L402.8 65.1L406.4 64.4L409.9 63.8L413.5 63.1L417.1 62.5L420.7 61.8L424.3 61.1L427.9 60.5L431.4 59.8L435 59.2L438.6 58.5L442.2 57.9L445.8 57.2L449.4 56.6L452.9 55.9L456.5 55.3L460.1 54.6L463.7 54L467.1 55.4L463.6 56L460 56.7L456.4 57.3L452.8 57.9L449.2 58.5L445.6 59.1L442.1 59.7L438.5 60.4L434.9 61L431.3 61.6L427.7 62.3L424.1 62.9L420.6 63.5L417 64.2L413.4 64.8L409.8 65.5L406.2 66.1L402.6 66.8L399.1 67.4L395.5 68.1L391.9 68.7L388.3 69.4L384.7 70.1L381.1 70.7Z" fill="url(#cn3)"/><path d="M379.4 70.2L383 69.6L386.6 68.9L390.2 68.2L393.7 67.6L397.3 66.9L400.9 66.3L404.5 65.6L408.1 64.9L411.7 64.3L415.2 63.6L418.8 63L422.4 62.4L426 61.7L429.6 61.1L433.2 60.4L436.7 59.8L440.3 59.1L443.9 58.5L447.5 57.9L451.1 57.2L454.7 56.6L458.2 56L461.8 55.3L465.4 54.7L468.9 56.1L465.3 56.7L461.7 57.3L458.1 57.9L454.5 58.5L451 59.1L447.4 59.7L443.8 60.4L440.2 61L436.6 61.6L433 62.2L429.5 62.8L425.9 63.5L422.3 64.1L418.7 64.7L415.1 65.4L411.5 66L408 66.6L404.4 67.3L400.8 67.9L397.2 68.6L393.6 69.2L390 69.9L386.4 70.5L382.9 71.2Z" fill="url(#cn4)"/><path d="M381.1 70.7L384.7 70.1L388.3 69.4L391.9 68.7L395.5 68.1L399.1 67.4L402.6 66.8L406.2 66.1L409.8 65.5L413.4 64.8L417 64.2L420.6 63.5L424.1 62.9L427.7 62.3L431.3 61.6L434.9 61L438.5 60.4L442.1 59.7L445.6 59.1L449.2 58.5L452.8 57.9L456.4 57.3L460 56.7L463.6 56L467.1 55.4L470.6 56.9L467 57.4L463.4 58L459.8 58.6L456.3 59.2L452.7 59.8L449.1 60.4L445.5 61L441.9 61.6L438.3 62.2L434.8 62.8L431.2 63.4L427.6 64L424 64.6L420.4 65.3L416.8 65.9L413.3 66.5L409.7 67.1L406.1 67.8L402.5 68.4L398.9 69.1L395.3 69.7L391.8 70.4L388.2 71L384.6 71.7Z" fill="url(#cn5)"/><path d="M382.9 71.2L386.4 70.5L390 69.9L393.6 69.2L397.2 68.6L400.8 67.9L404.4 67.3L408 66.6L411.5 66L415.1 65.4L418.7 64.7L422.3 64.1L425.9 63.5L429.5 62.8L433 62.2L436.6 61.6L440.2 61L443.8 60.4L447.4 59.7L451 59.1L454.5 58.5L458.1 57.9L461.7 57.3L465.3 56.7L468.9 56.1L472.3 57.6L468.7 58.1L465.2 58.7L461.6 59.3L458 59.8L454.4 60.4L450.8 61L447.2 61.6L443.7 62.2L440.1 62.8L436.5 63.4L432.9 64L429.3 64.6L425.7 65.2L422.2 65.8L418.6 66.4L415 67L411.4 67.7L407.8 68.3L404.2 68.9L400.7 69.6L397.1 70.2L393.5 70.9L389.9 71.5L386.3 72.2Z" fill="url(#cn6)"/><path d="M384.6 71.7L388.2 71L391.8 70.4L395.3 69.7L398.9 69.1L402.5 68.4L406.1 67.8L409.7 67.1L413.3 66.5L416.8 65.9L420.4 65.3L424 64.6L427.6 64L431.2 63.4L434.8 62.8L438.3 62.2L441.9 61.6L445.5 61L449.1 60.4L452.7 59.8L456.3 59.2L459.8 58.6L463.4 58L467 57.4L470.6 56.9L474.1 58.3L470.5 58.8L466.9 59.4L463.3 59.9L459.7 60.5L456.1 61.1L452.6 61.6L449 62.2L445.4 62.8L441.8 63.4L438.2 63.9L434.6 64.5L431.1 65.1L427.5 65.7L423.9 66.3L420.3 66.9L416.7 67.6L413.1 68.2L409.6 68.8L406 69.4L402.4 70.1L398.8 70.7L395.2 71.3L391.6 72L388.1 72.6Z" fill="url(#cn7)"/><path d="M386.3 72.2L389.9 71.5L393.5 70.9L397.1 70.2L400.7 69.6L404.2 68.9L407.8 68.3L411.4 67.7L415 67L418.6 66.4L422.2 65.8L425.7 65.2L429.3 64.6L432.9 64L436.5 63.4L440.1 62.8L443.7 62.2L447.2 61.6L450.8 61L454.4 60.4L458 59.8L461.6 59.3L465.2 58.7L468.7 58.1L472.3 57.6L475.8 59L472.2 59.5L468.6 60.1L465 60.6L461.4 61.1L457.9 61.7L454.3 62.2L450.7 62.8L447.1 63.4L443.5 63.9L439.9 64.5L436.4 65.1L432.8 65.7L429.2 66.3L425.6 66.9L422 67.5L418.4 68.1L414.9 68.7L411.3 69.3L407.7 69.9L404.1 70.5L400.5 71.2L396.9 71.8L393.4 72.5L389.8 73.1Z" fill="url(#cn8)"/><path d="M388.1 72.6L391.6 72L395.2 71.3L398.8 70.7L402.4 70.1L406 69.4L409.6 68.8L413.1 68.2L416.7 67.6L420.3 66.9L423.9 66.3L427.5 65.7L431.1 65.1L434.6 64.5L438.2 63.9L441.8 63.4L445.4 62.8L449 62.2L452.6 61.6L456.1 61.1L459.7 60.5L463.3 59.9L466.9 59.4L470.5 58.8L474.1 58.3L477.5 59.7L473.9 60.2L470.3 60.7L466.8 61.3L463.2 61.8L459.6 62.3L456 62.9L452.4 63.4L448.8 64L445.3 64.5L441.7 65.1L438.1 65.7L434.5 66.2L430.9 66.8L427.3 67.4L423.8 68L420.2 68.6L416.6 69.2L413 69.8L409.4 70.4L405.8 71L402.3 71.7L398.7 72.3L395.1 72.9L391.5 73.6Z" fill="url(#cn9)"/><path d="M389.8 73.1L393.4 72.5L396.9 71.8L400.5 71.2L404.1 70.5L407.7 69.9L411.3 69.3L414.9 68.7L418.4 68.1L422 67.5L425.6 66.9L429.2 66.3L432.8 65.7L436.4 65.1L439.9 64.5L443.5 63.9L447.1 63.4L450.7 62.8L454.3 62.2L457.9 61.7L461.4 61.1L465 60.6L468.6 60.1L472.2 59.5L475.8 59L479.2 60.4L475.7 60.9L472.1 61.4L468.5 61.9L464.9 62.5L461.3 63L457.7 63.5L454.2 64L450.6 64.6L447 65.1L443.4 65.7L439.8 66.2L436.2 66.8L432.7 67.4L429.1 68L425.5 68.5L421.9 69.1L418.3 69.7L414.7 70.3L411.2 70.9L407.6 71.5L404 72.1L400.4 72.8L396.8 73.4L393.2 74Z" fill="url(#cn10)"/><path d="M391.5 73.6L395.1 72.9L398.7 72.3L402.3 71.7L405.8 71L409.4 70.4L413 69.8L416.6 69.2L420.2 68.6L423.8 68L427.3 67.4L430.9 66.8L434.5 66.2L438.1 65.7L441.7 65.1L445.3 64.5L448.8 64L452.4 63.4L456 62.9L459.6 62.3L463.2 61.8L466.8 61.3L470.3 60.7L473.9 60.2L477.5 59.7L481 61.1L477.4 61.6L473.8 62.1L470.2 62.6L466.6 63.1L463 63.6L459.5 64.1L455.9 64.7L452.3 65.2L448.7 65.7L445.1 66.3L441.5 66.8L438 67.4L434.4 67.9L430.8 68.5L427.2 69.1L423.6 69.6L420 70.2L416.5 70.8L412.9 71.4L409.3 72L405.7 72.6L402.1 73.2L398.5 73.8L395 74.5Z" fill="url(#cn11)"/><path d="M393.2 74L396.8 73.4L400.4 72.8L404 72.1L407.6 71.5L411.2 70.9L414.7 70.3L418.3 69.7L421.9 69.1L425.5 68.5L429.1 68L432.7 67.4L436.2 66.8L439.8 66.2L443.4 65.7L447 65.1L450.6 64.6L454.2 64L457.7 63.5L461.3 63L464.9 62.5L468.5 61.9L472.1 61.4L475.7 60.9L479.2 60.4L482.7 61.8L479.1 62.3L475.5 62.8L471.9 63.3L468.4 63.8L464.8 64.3L461.2 64.8L457.6 65.3L454 65.8L450.4 66.3L446.9 66.9L443.3 67.4L439.7 67.9L436.1 68.5L432.5 69L428.9 69.6L425.4 70.2L421.8 70.7L418.2 71.3L414.6 71.9L411 72.5L407.4 73.1L403.9 73.7L400.3 74.3L396.7 74.9Z" fill="url(#cn12)"/><path d="M395 74.5L398.5 73.8L402.1 73.2L405.7 72.6L409.3 72L412.9 71.4L416.5 70.8L420 70.2L423.6 69.6L427.2 69.1L430.8 68.5L434.4 67.9L438 67.4L441.5 66.8L445.1 66.3L448.7 65.7L452.3 65.2L455.9 64.7L459.5 64.1L463 63.6L466.6 63.1L470.2 62.6L473.8 62.1L477.4 61.6L481 61.1L484.4 62.5L480.8 63L477.3 63.5L473.7 63.9L470.1 64.4L466.5 64.9L462.9 65.4L459.3 65.9L455.8 66.4L452.2 66.9L448.6 67.4L445 68L441.4 68.5L437.8 69L434.3 69.6L430.7 70.1L427.1 70.7L423.5 71.2L419.9 71.8L416.3 72.4L412.8 73L409.2 73.6L405.6 74.1L402 74.8L398.4 75.4Z" fill="url(#cn13)"/><path d="M396.7 74.9L400.3 74.3L403.9 73.7L407.4 73.1L411 72.5L414.6 71.9L418.2 71.3L421.8 70.7L425.4 70.2L428.9 69.6L432.5 69L436.1 68.5L439.7 67.9L443.3 67.4L446.9 66.9L450.4 66.3L454 65.8L457.6 65.3L461.2 64.8L464.8 64.3L468.4 63.8L471.9 63.3L475.5 62.8L479.1 62.3L482.7 61.8L486.1 63.3L482.6 63.7L479 64.2L475.4 64.6L471.8 65.1L468.2 65.6L464.6 66L461.1 66.5L457.5 67L453.9 67.5L450.3 68L446.7 68.5L443.1 69.1L439.6 69.6L436 70.1L432.4 70.7L428.8 71.2L425.2 71.8L421.6 72.3L418.1 72.9L414.5 73.4L410.9 74L407.3 74.6L403.7 75.2L400.1 75.8Z" fill="url(#cn14)"/><path d="M398.4 75.4L402 74.8L405.6 74.1L409.2 73.6L412.8 73L416.3 72.4L419.9 71.8L423.5 71.2L427.1 70.7L430.7 70.1L434.3 69.6L437.8 69L441.4 68.5L445 68L448.6 67.4L452.2 66.9L455.8 66.4L459.3 65.9L462.9 65.4L466.5 64.9L470.1 64.4L473.7 63.9L477.3 63.5L480.8 63L484.4 62.5L487.9 64L484.3 64.4L480.7 64.8L477.1 65.3L473.5 65.7L470 66.2L466.4 66.7L462.8 67.2L459.2 67.6L455.6 68.1L452 68.6L448.5 69.1L444.9 69.6L441.3 70.1L437.7 70.7L434.1 71.2L430.5 71.7L427 72.3L423.4 72.8L419.8 73.4L416.2 73.9L412.6 74.5L409 75.1L405.5 75.6L401.9 76.2Z" fill="url(#cn15)"/><path d="M400.1 75.8L403.7 75.2L407.3 74.6L410.9 74L414.5 73.4L418.1 72.9L421.6 72.3L425.2 71.8L428.8 71.2L432.4 70.7L436 70.1L439.6 69.6L443.1 69.1L446.7 68.5L450.3 68L453.9 67.5L457.5 67L461.1 66.5L464.6 66L468.2 65.6L471.8 65.1L475.4 64.6L479 64.2L482.6 63.7L486.1 63.3L489.6 64.7L486 65.1L482.4 65.5L478.9 66L475.3 66.4L471.7 66.9L468.1 67.3L464.5 67.8L460.9 68.3L457.4 68.7L453.8 69.2L450.2 69.7L446.6 70.2L443 70.7L439.4 71.2L435.9 71.7L432.3 72.2L428.7 72.8L425.1 73.3L421.5 73.8L417.9 74.4L414.4 74.9L410.8 75.5L407.2 76.1L403.6 76.6Z" fill="url(#cn16)"/><path d="M401.9 76.2L405.5 75.6L409 75.1L412.6 74.5L416.2 73.9L419.8 73.4L423.4 72.8L427 72.3L430.5 71.7L434.1 71.2L437.7 70.7L441.3 70.1L444.9 69.6L448.5 69.1L452 68.6L455.6 68.1L459.2 67.6L462.8 67.2L466.4 66.7L470 66.2L473.5 65.7L477.1 65.3L480.7 64.8L484.3 64.4L487.9 64L491.3 65.4L487.7 65.8L484.2 66.2L480.6 66.6L477 67.1L473.4 67.5L469.8 68L466.2 68.4L462.7 68.9L459.1 69.3L455.5 69.8L451.9 70.3L448.3 70.8L444.7 71.3L441.2 71.8L437.6 72.3L434 72.8L430.4 73.3L426.8 73.8L423.2 74.3L419.7 74.9L416.1 75.4L412.5 76L408.9 76.5L405.3 77.1Z" fill="url(#cn17)"/><path d="M403.6 76.6L407.2 76.1L410.8 75.5L414.4 74.9L417.9 74.4L421.5 73.8L425.1 73.3L428.7 72.8L432.3 72.2L435.9 71.7L439.4 71.2L443 70.7L446.6 70.2L450.2 69.7L453.8 69.2L457.4 68.7L460.9 68.3L464.5 67.8L468.1 67.3L471.7 66.9L475.3 66.4L478.9 66L482.4 65.5L486 65.1L489.6 64.7L493.1 66.1L489.5 66.5L485.9 66.9L482.3 67.3L478.7 67.7L475.1 68.2L471.6 68.6L468 69L464.4 69.5L460.8 69.9L457.2 70.4L453.6 70.9L450.1 71.3L446.5 71.8L442.9 72.3L439.3 72.8L435.7 73.3L432.1 73.8L428.6 74.3L425 74.8L421.4 75.3L417.8 75.9L414.2 76.4L410.6 76.9L407.1 77.5Z" fill="url(#cn18)"/><path d="M405.3 77.1L408.9 76.5L412.5 76L416.1 75.4L419.7 74.9L423.2 74.3L426.8 73.8L430.4 73.3L434 72.8L437.6 72.3L441.2 71.8L444.7 71.3L448.3 70.8L451.9 70.3L455.5 69.8L459.1 69.3L462.7 68.9L466.2 68.4L469.8 68L473.4 67.5L477 67.1L480.6 66.6L484.2 66.2L487.7 65.8L491.3 65.4L494.8 66.8L491.2 67.2L487.6 67.6L484 68L480.5 68.4L476.9 68.8L473.3 69.2L469.7 69.7L466.1 70.1L462.5 70.5L458.9 71L455.4 71.4L451.8 71.9L448.2 72.4L444.6 72.8L441 73.3L437.4 73.8L433.9 74.3L430.3 74.8L426.7 75.3L423.1 75.8L419.5 76.3L415.9 76.8L412.4 77.4L408.8 77.9Z" fill="url(#cn19)"/><path d="M407.1 77.5L410.6 76.9L414.2 76.4L417.8 75.9L421.4 75.3L425 74.8L428.6 74.3L432.1 73.8L435.7 73.3L439.3 72.8L442.9 72.3L446.5 71.8L450.1 71.3L453.6 70.9L457.2 70.4L460.8 69.9L464.4 69.5L468 69L471.6 68.6L475.1 68.2L478.7 67.7L482.3 67.3L485.9 66.9L489.5 66.5L493.1 66.1L496.5 67.5L492.9 67.9L489.3 68.3L485.8 68.7L482.2 69.1L478.6 69.5L475 69.9L471.4 70.3L467.8 70.7L464.3 71.2L460.7 71.6L457.1 72L453.5 72.5L449.9 72.9L446.3 73.4L442.8 73.9L439.2 74.3L435.6 74.8L432 75.3L428.4 75.8L424.8 76.3L421.3 76.8L417.7 77.3L414.1 77.8L410.5 78.3Z" fill="url(#cn20)"/><path d="M408.8 77.9L412.4 77.4L415.9 76.8L419.5 76.3L423.1 75.8L426.7 75.3L430.3 74.8L433.9 74.3L437.4 73.8L441 73.3L444.6 72.8L448.2 72.4L451.8 71.9L455.4 71.4L458.9 71L462.5 70.5L466.1 70.1L469.7 69.7L473.3 69.2L476.9 68.8L480.5 68.4L484 68L487.6 67.6L491.2 67.2L494.8 66.8L498.2 68.2L494.7 68.6L491.1 69L487.5 69.3L483.9 69.7L480.3 70.1L476.7 70.5L473.2 70.9L469.6 71.3L466 71.8L462.4 72.2L458.8 72.6L455.2 73.1L451.7 73.5L448.1 73.9L444.5 74.4L440.9 74.8L437.3 75.3L433.7 75.8L430.2 76.2L426.6 76.7L423 77.2L419.4 77.7L415.8 78.2L412.2 78.7Z" fill="url(#cn21)"/><path d="M410.5 78.3L414.1 77.8L417.7 77.3L421.3 76.8L424.8 76.3L428.4 75.8L432 75.3L435.6 74.8L439.2 74.3L442.8 73.9L446.3 73.4L449.9 72.9L453.5 72.5L457.1 72L460.7 71.6L464.3 71.2L467.8 70.7L471.4 70.3L475 69.9L478.6 69.5L482.2 69.1L485.8 68.7L489.3 68.3L492.9 67.9L496.5 67.5L500 68.9L496.4 69.3L492.8 69.6L489.2 70L485.6 70.4L482.1 70.8L478.5 71.2L474.9 71.6L471.3 72L467.7 72.4L464.1 72.8L460.6 73.2L457 73.6L453.4 74.1L449.8 74.5L446.2 74.9L442.6 75.4L439.1 75.8L435.5 76.3L431.9 76.7L428.3 77.2L424.7 77.6L421.1 78.1L417.5 78.6L414 79.1Z" fill="url(#cn22)"/><path d="M412.2 78.7L415.8 78.2L419.4 77.7L423 77.2L426.6 76.7L430.2 76.2L433.7 75.8L437.3 75.3L440.9 74.8L444.5 74.4L448.1 73.9L451.7 73.5L455.2 73.1L458.8 72.6L462.4 72.2L466 71.8L469.6 71.3L473.2 70.9L476.7 70.5L480.3 70.1L483.9 69.7L487.5 69.3L491.1 69L494.7 68.6L498.2 68.2L501.7 69.6L498.1 70L494.5 70.3L490.9 70.7L487.4 71.1L483.8 71.4L480.2 71.8L476.6 72.2L473 72.6L469.4 73L465.9 73.4L462.3 73.8L458.7 74.2L455.1 74.6L451.5 75L447.9 75.5L444.4 75.9L440.8 76.3L437.2 76.7L433.6 77.2L430 77.6L426.4 78.1L422.9 78.5L419.3 79L415.7 79.5Z" fill="url(#cn23)"/><path d="M414 79.1L417.5 78.6L421.1 78.1L424.7 77.6L428.3 77.2L431.9 76.7L435.5 76.3L439.1 75.8L442.6 75.4L446.2 74.9L449.8 74.5L453.4 74.1L457 73.6L460.6 73.2L464.1 72.8L467.7 72.4L471.3 72L474.9 71.6L478.5 71.2L482.1 70.8L485.6 70.4L489.2 70L492.8 69.6L496.4 69.3L500 68.9L503.4 70.3L499.8 70.7L496.3 71L492.7 71.4L489.1 71.7L485.5 72.1L481.9 72.5L478.3 72.8L474.8 73.2L471.2 73.6L467.6 74L464 74.4L460.4 74.8L456.8 75.2L453.3 75.6L449.7 76L446.1 76.4L442.5 76.8L438.9 77.2L435.3 77.7L431.8 78.1L428.2 78.5L424.6 79L421 79.4L417.4 79.8Z" fill="url(#cn24)"/><path d="M415.7 79.5L419.3 79L422.9 78.5L426.4 78.1L430 77.6L433.6 77.2L437.2 76.7L440.8 76.3L444.4 75.9L447.9 75.5L451.5 75L455.1 74.6L458.7 74.2L462.3 73.8L465.9 73.4L469.4 73L473 72.6L476.6 72.2L480.2 71.8L483.8 71.4L487.4 71.1L490.9 70.7L494.5 70.3L498.1 70L501.7 69.6L505.2 71L501.6 71.4L498 71.7L494.4 72L490.8 72.4L487.2 72.8L483.7 73.1L480.1 73.5L476.5 73.9L472.9 74.2L469.3 74.6L465.7 75L462.1 75.4L458.6 75.7L455 76.1L451.4 76.5L447.8 76.9L444.2 77.3L440.6 77.7L437.1 78.1L433.5 78.5L429.9 79L426.3 79.4L422.7 79.8L419.1 80.2Z" fill="url(#cn25)"/><path d="M417.4 79.8L421 79.4L424.6 79L428.2 78.5L431.8 78.1L435.3 77.7L438.9 77.2L442.5 76.8L446.1 76.4L449.7 76L453.3 75.6L456.8 75.2L460.4 74.8L464 74.4L467.6 74L471.2 73.6L474.8 73.2L478.3 72.8L481.9 72.5L485.5 72.1L489.1 71.7L492.7 71.4L496.3 71L499.8 70.7L503.4 70.3L506.9 71.7L503.3 72L499.7 72.4L496.1 72.7L492.5 73.1L489 73.4L485.4 73.8L481.8 74.1L478.2 74.5L474.6 74.8L471 75.2L467.5 75.6L463.9 75.9L460.3 76.3L456.7 76.7L453.1 77.1L449.5 77.4L446 77.8L442.4 78.2L438.8 78.6L435.2 79L431.6 79.4L428 79.8L424.5 80.2L420.9 80.6Z" fill="url(#cn26)"/><path d="M419.1 80.2L422.7 79.8L426.3 79.4L429.9 79L433.5 78.5L437.1 78.1L440.6 77.7L444.2 77.3L447.8 76.9L451.4 76.5L455 76.1L458.6 75.7L462.1 75.4L465.7 75L469.3 74.6L472.9 74.2L476.5 73.9L480.1 73.5L483.7 73.1L487.2 72.8L490.8 72.4L494.4 72L498 71.7L501.6 71.4L505.2 71L508.6 72.4L505 72.7L501.4 73.1L497.9 73.4L494.3 73.7L490.7 74.1L487.1 74.4L483.5 74.8L479.9 75.1L476.4 75.5L472.8 75.8L469.2 76.2L465.6 76.5L462 76.9L458.4 77.2L454.9 77.6L451.3 78L447.7 78.3L444.1 78.7L440.5 79.1L436.9 79.4L433.4 79.8L429.8 80.2L426.2 80.6L422.6 81Z" fill="url(#cn27)"/><path d="M420.9 80.6L424.5 80.2L428 79.8L431.6 79.4L435.2 79L438.8 78.6L442.4 78.2L446 77.8L449.5 77.4L453.1 77.1L456.7 76.7L460.3 76.3L463.9 75.9L467.5 75.6L471 75.2L474.6 74.8L478.2 74.5L481.8 74.1L485.4 73.8L489 73.4L492.5 73.1L496.1 72.7L499.7 72.4L503.3 72L506.9 71.7L510.3 73.1L506.8 73.4L503.2 73.8L499.6 74.1L496 74.4L492.4 74.7L488.8 75.1L485.2 75.4L481.7 75.7L478.1 76.1L474.5 76.4L470.9 76.8L467.3 77.1L463.8 77.4L460.2 77.8L456.6 78.1L453 78.5L449.4 78.8L445.8 79.2L442.2 79.5L438.7 79.9L435.1 80.2L431.5 80.6L427.9 81L424.3 81.3Z" fill="url(#cn28)"/><path d="M422.6 81L426.2 80.6L429.8 80.2L433.4 79.8L436.9 79.4L440.5 79.1L444.1 78.7L447.7 78.3L451.3 78L454.9 77.6L458.4 77.2L462 76.9L465.6 76.5L469.2 76.2L472.8 75.8L476.4 75.5L479.9 75.1L483.5 74.8L487.1 74.4L490.7 74.1L494.3 73.7L497.9 73.4L501.4 73.1L505 72.7L508.6 72.4L512.1 73.8L508.5 74.1L504.9 74.4L501.3 74.8L497.7 75.1L494.1 75.4L490.6 75.7L487 76.1L483.4 76.4L479.8 76.7L476.2 77L472.6 77.4L469.1 77.7L465.5 78L461.9 78.3L458.3 78.7L454.7 79L451.1 79.3L447.6 79.7L444 80L440.4 80.3L436.8 80.7L433.2 81L429.6 81.3L426.1 81.7Z" fill="url(#cn29)"/><path d="M424.3 81.3L427.9 81L431.5 80.6L435.1 80.2L438.7 79.9L442.2 79.5L445.8 79.2L449.4 78.8L453 78.5L456.6 78.1L460.2 77.8L463.8 77.4L467.3 77.1L470.9 76.8L474.5 76.4L478.1 76.1L481.7 75.7L485.2 75.4L488.8 75.1L492.4 74.7L496 74.4L499.6 74.1L503.2 73.8L506.8 73.4L510.3 73.1L513.8 74.5L510.2 74.8L506.6 75.1L503 75.5L499.5 75.8L495.9 76.1L492.3 76.4L488.7 76.7L485.1 77L481.5 77.3L478 77.6L474.4 78L470.8 78.3L467.2 78.6L463.6 78.9L460 79.2L456.5 79.5L452.9 79.8L449.3 80.1L445.7 80.5L442.1 80.8L438.5 81.1L435 81.4L431.4 81.7L427.8 82Z" fill="url(#cn30)"/><path d="M426.1 81.7L429.6 81.3L433.2 81L436.8 80.7L440.4 80.3L444 80L447.6 79.7L451.1 79.3L454.7 79L458.3 78.7L461.9 78.3L465.5 78L469.1 77.7L472.6 77.4L476.2 77L479.8 76.7L483.4 76.4L487 76.1L490.6 75.7L494.1 75.4L497.7 75.1L501.3 74.8L504.9 74.4L508.5 74.1L512.1 73.8L515.5 75.2L511.9 75.5L508.4 75.8L504.8 76.1L501.2 76.4L497.6 76.7L494 77L490.4 77.3L486.9 77.7L483.3 78L479.7 78.3L476.1 78.6L472.5 78.8L468.9 79.1L465.4 79.4L461.8 79.7L458.2 80L454.6 80.3L451 80.6L447.4 80.9L443.8 81.2L440.3 81.5L436.7 81.8L433.1 82.1L429.5 82.4Z" fill="url(#cn31)"/><path d="M427.8 82L431.4 81.7L435 81.4L438.5 81.1L442.1 80.8L445.7 80.5L449.3 80.1L452.9 79.8L456.5 79.5L460 79.2L463.6 78.9L467.2 78.6L470.8 78.3L474.4 78L478 77.6L481.5 77.3L485.1 77L488.7 76.7L492.3 76.4L495.9 76.1L499.5 75.8L503 75.5L506.6 75.1L510.2 74.8L513.8 74.5L517.2 75.9L513.7 76.2L510.1 76.5L506.5 76.8L502.9 77.1L499.3 77.4L495.7 77.7L492.2 78L488.6 78.3L485 78.6L481.4 78.9L477.8 79.2L474.2 79.4L470.7 79.7L467.1 80L463.5 80.3L459.9 80.6L456.3 80.8L452.7 81.1L449.2 81.4L445.6 81.6L442 81.9L438.4 82.2L434.8 82.4L431.2 82.7Z" fill="url(#cn32)"/><path d="M429.5 82.4L433.1 82.1L436.7 81.8L440.3 81.5L443.8 81.2L447.4 80.9L451 80.6L454.6 80.3L458.2 80L461.8 79.7L465.4 79.4L468.9 79.1L472.5 78.8L476.1 78.6L479.7 78.3L483.3 78L486.9 77.7L490.4 77.3L494 77L497.6 76.7L501.2 76.4L504.8 76.1L508.4 75.8L511.9 75.5L515.5 75.2L519 76.6L515.4 76.9L511.8 77.2L508.2 77.5L504.6 77.8L501.1 78.1L497.5 78.4L493.9 78.6L490.3 78.9L486.7 79.2L483.1 79.5L479.6 79.8L476 80L472.4 80.3L468.8 80.6L465.2 80.8L461.6 81.1L458.1 81.3L454.5 81.6L450.9 81.8L447.3 82.1L443.7 82.3L440.1 82.6L436.6 82.8L433 83Z" fill="url(#cn33)"/><path d="M431.2 82.7L434.8 82.4L438.4 82.2L442 81.9L445.6 81.6L449.2 81.4L452.7 81.1L456.3 80.8L459.9 80.6L463.5 80.3L467.1 80L470.7 79.7L474.2 79.4L477.8 79.2L481.4 78.9L485 78.6L488.6 78.3L492.2 78L495.7 77.7L499.3 77.4L502.9 77.1L506.5 76.8L510.1 76.5L513.7 76.2L517.2 75.9L520.7 77.3L517.1 77.6L513.5 77.9L510 78.2L506.4 78.5L502.8 78.7L499.2 79L495.6 79.3L492 79.6L488.5 79.8L484.9 80.1L481.3 80.4L477.7 80.6L474.1 80.9L470.5 81.1L466.9 81.3L463.4 81.6L459.8 81.8L456.2 82.1L452.6 82.3L449 82.5L445.4 82.7L441.9 82.9L438.3 83.2L434.7 83.4Z" fill="url(#cn34)"/><path d="M433 83L436.6 82.8L440.1 82.6L443.7 82.3L447.3 82.1L450.9 81.8L454.5 81.6L458.1 81.3L461.6 81.1L465.2 80.8L468.8 80.6L472.4 80.3L476 80L479.6 79.8L483.1 79.5L486.7 79.2L490.3 78.9L493.9 78.6L497.5 78.4L501.1 78.1L504.6 77.8L508.2 77.5L511.8 77.2L515.4 76.9L519 76.6L520.7 77.3L517.1 77.6L513.5 77.9L510 78.2L506.4 78.5L502.8 78.7L499.2 79L495.6 79.3L492 79.6L488.5 79.8L484.9 80.1L481.3 80.4L477.7 80.6L474.1 80.9L470.5 81.1L466.9 81.3L463.4 81.6L459.8 81.8L456.2 82.1L452.6 82.3L449 82.5L445.4 82.7L441.9 82.9L438.3 83.2L434.7 83.4Z" fill="url(#cn35)"/></g>
<line x1="372.5" y1="92.5" x2="372.5" y2="37" stroke="#3c3c3c" stroke-width="0.6"/>
<line x1="372.5" y1="92.5" x2="434.7" y2="132.2" stroke="#3c3c3c" stroke-width="0.6"/>
<line x1="434.7" y1="132.2" x2="520.7" y2="104.5" stroke="#3c3c3c" stroke-width="0.6"/>
<line x1="372.5" y1="92.5" x2="370.9" y2="92.8" stroke="#3c3c3c" stroke-width="0.6"/>
<line x1="372.5" y1="74" x2="370.9" y2="74.3" stroke="#3c3c3c" stroke-width="0.6"/>
<line x1="372.5" y1="55.5" x2="370.9" y2="55.8" stroke="#3c3c3c" stroke-width="0.6"/>
<line x1="372.5" y1="37" x2="370.9" y2="37.3" stroke="#3c3c3c" stroke-width="0.6"/>
<line x1="372.5" y1="92.5" x2="370.98" y2="92.99" stroke="#3c3c3c" stroke-width="0.6"/>
<line x1="388.05" y1="102.42" x2="386.53" y2="102.92" stroke="#3c3c3c" stroke-width="0.6"/>
<line x1="403.6" y1="112.35" x2="402.08" y2="112.84" stroke="#3c3c3c" stroke-width="0.6"/>
<line x1="419.15" y1="122.27" x2="417.63" y2="122.77" stroke="#3c3c3c" stroke-width="0.6"/>
<line x1="434.7" y1="132.2" x2="433.18" y2="132.69" stroke="#3c3c3c" stroke-width="0.6"/>
<line x1="434.7" y1="132.2" x2="436.05" y2="133.06" stroke="#3c3c3c" stroke-width="0.6"/>
<line x1="456.2" y1="125.27" x2="457.55" y2="126.14" stroke="#3c3c3c" stroke-width="0.6"/>
<line x1="477.7" y1="118.35" x2="479.05" y2="119.21" stroke="#3c3c3c" stroke-width="0.6"/>
<line x1="499.2" y1="111.42" x2="500.55" y2="112.29" stroke="#3c3c3c" stroke-width="0.6"/>
<line x1="520.7" y1="104.5" x2="522.05" y2="105.36" stroke="#3c3c3c" stroke-width="0.6"/>
<g class="tk"><text x="369.6" y="91.9" text-anchor="end">0</text><text x="369.6" y="74.7" text-anchor="end">5</text><text x="369.6" y="56.2" text-anchor="end">10</text><text x="369.6" y="37.7" text-anchor="end">15</text><text x="368.9" y="97.7" text-anchor="end">0</text><text x="384.45" y="106.42" text-anchor="end">10</text><text x="400" y="116.35" text-anchor="end">20</text><text x="415.55" y="126.27" text-anchor="end">30</text><text x="431.1" y="136.2" text-anchor="end">40</text><text x="437.3" y="136.3" text-anchor="start">2</text><text x="458.8" y="129.38" text-anchor="start">4</text><text x="480.3" y="122.45" text-anchor="start">6</text><text x="501.8" y="115.52" text-anchor="start">8</text><text x="521.1" y="108.6" text-anchor="start">10</text></g>
<linearGradient id="cbc" x1="0" y1="0" x2="0" y2="1"><stop offset="0" stop-color="#800000"/><stop offset="0.06" stop-color="#bf0000"/><stop offset="0.12" stop-color="#ff0000"/><stop offset="0.19" stop-color="#ff4000"/><stop offset="0.25" stop-color="#ff8000"/><stop offset="0.31" stop-color="#ffbf00"/><stop offset="0.38" stop-color="#ffff00"/><stop offset="0.44" stop-color="#bfff40"/><stop offset="0.5" stop-color="#80ff80"/><stop offset="0.56" stop-color="#40ffbf"/><stop offset="0.62" stop-color="#00ffff"/><stop offset="0.69" stop-color="#00bfff"/><stop offset="0.75" stop-color="#0080ff"/><stop offset="0.81" stop-color="#0040ff"/><stop offset="0.88" stop-color="#0000ff"/><stop offset="0.94" stop-color="#0000bf"/><stop offset="1" stop-color="#000080"/></linearGradient>
<rect x="533.8" y="12.6" width="5.7" height="121.1" fill="url(#cbc)" stroke="#555" stroke-width="0.3"/>
<line x1="538.5" y1="127.43" x2="539.5" y2="127.43" stroke="#444" stroke-width="0.4"/>
<line x1="538.5" y1="107.19" x2="539.5" y2="107.19" stroke="#444" stroke-width="0.4"/>
<line x1="538.5" y1="86.96" x2="539.5" y2="86.96" stroke="#444" stroke-width="0.4"/>
<line x1="538.5" y1="66.73" x2="539.5" y2="66.73" stroke="#444" stroke-width="0.4"/>
<line x1="538.5" y1="46.49" x2="539.5" y2="46.49" stroke="#444" stroke-width="0.4"/>
<line x1="538.5" y1="26.26" x2="539.5" y2="26.26" stroke="#444" stroke-width="0.4"/>
<g class="tk"><text x="541.7" y="128.88">2</text><text x="541.7" y="108.64">4</text><text x="541.7" y="88.41">6</text><text x="541.7" y="68.18">8</text><text x="541.7" y="47.94">10</text><text x="541.7" y="27.71">12</text></g>
<!-- chart d -->
<line x1="393.65" y1="247.5" x2="393.65" y2="180.7" stroke="#eeeeee" stroke-width="0.5"/>
<line x1="393.65" y1="247.5" x2="459.55" y2="280" stroke="#eeeeee" stroke-width="0.5"/>
<line x1="414.8" y1="241.5" x2="414.8" y2="175.11" stroke="#eeeeee" stroke-width="0.5"/>
<line x1="414.8" y1="241.5" x2="480.7" y2="274" stroke="#eeeeee" stroke-width="0.5"/>
<line x1="435.95" y1="235.5" x2="435.95" y2="169.51" stroke="#eeeeee" stroke-width="0.5"/>
<line x1="435.95" y1="235.5" x2="501.85" y2="268" stroke="#eeeeee" stroke-width="0.5"/>
<line x1="473.58" y1="237.62" x2="473.58" y2="172.04" stroke="#eeeeee" stroke-width="0.5"/>
<line x1="388.98" y1="261.62" x2="473.58" y2="237.62" stroke="#eeeeee" stroke-width="0.5"/>
<line x1="490.05" y1="245.75" x2="490.05" y2="180.16" stroke="#eeeeee" stroke-width="0.5"/>
<line x1="405.45" y1="269.75" x2="490.05" y2="245.75" stroke="#eeeeee" stroke-width="0.5"/>
<line x1="506.52" y1="253.88" x2="506.52" y2="188.29" stroke="#eeeeee" stroke-width="0.5"/>
<line x1="421.92" y1="277.88" x2="506.52" y2="253.88" stroke="#eeeeee" stroke-width="0.5"/>
<line x1="372.5" y1="240.06" x2="457.1" y2="216.38" stroke="#eeeeee" stroke-width="0.5"/>
<line x1="457.1" y1="216.38" x2="523" y2="248.88" stroke="#eeeeee" stroke-width="0.5"/>
<line x1="372.5" y1="226.62" x2="457.1" y2="203.27" stroke="#eeeeee" stroke-width="0.5"/>
<line x1="457.1" y1="203.27" x2="523" y2="235.77" stroke="#eeeeee" stroke-width="0.5"/>
<line x1="372.5" y1="213.18" x2="457.1" y2="190.15" stroke="#eeeeee" stroke-width="0.5"/>
<line x1="457.1" y1="190.15" x2="523" y2="222.65" stroke="#eeeeee" stroke-width="0.5"/>
<line x1="372.5" y1="199.74" x2="457.1" y2="177.03" stroke="#eeeeee" stroke-width="0.5"/>
<line x1="457.1" y1="177.03" x2="523" y2="209.53" stroke="#eeeeee" stroke-width="0.5"/>
<line x1="372.5" y1="186.3" x2="457.1" y2="163.91" stroke="#eeeeee" stroke-width="0.5"/>
<line x1="457.1" y1="163.91" x2="523" y2="196.41" stroke="#eeeeee" stroke-width="0.5"/>
<line x1="457.1" y1="229.5" x2="457.1" y2="163.91" stroke="#dedede" stroke-width="0.6"/>
<line x1="523" y1="262" x2="523" y2="196.41" stroke="#dedede" stroke-width="0.6"/>
<line x1="372.5" y1="253.5" x2="457.1" y2="229.5" stroke="#dedede" stroke-width="0.6"/>
<line x1="457.1" y1="229.5" x2="523" y2="262" stroke="#dedede" stroke-width="0.6"/>
<defs><linearGradient id="dd0" gradientUnits="userSpaceOnUse" x1="373.4" y1="250.6" x2="458" y2="221.7"><stop offset="0.000" stop-color="#000091"/><stop offset="0.043" stop-color="#00009a"/><stop offset="0.085" stop-color="#0000a1"/><stop offset="0.128" stop-color="#0000a9"/><stop offset="0.170" stop-color="#0000af"/><stop offset="0.212" stop-color="#0000b5"/><stop offset="0.254" stop-color="#0000bb"/><stop offset="0.296" stop-color="#0000c0"/><stop offset="0.338" stop-color="#0000c4"/><stop offset="0.380" stop-color="#0000c8"/><stop offset="0.421" stop-color="#0000cc"/><stop offset="0.463" stop-color="#0000cf"/><stop offset="0.504" stop-color="#0000d3"/><stop offset="0.546" stop-color="#0000d5"/><stop offset="0.587" stop-color="#0000d8"/><stop offset="0.629" stop-color="#0000da"/><stop offset="0.670" stop-color="#0000dd"/><stop offset="0.712" stop-color="#0000df"/><stop offset="0.753" stop-color="#0000e0"/><stop offset="0.794" stop-color="#0000e2"/><stop offset="0.835" stop-color="#0000e3"/><stop offset="0.877" stop-color="#0000e5"/><stop offset="0.918" stop-color="#0000e6"/><stop offset="0.959" stop-color="#0000e7"/><stop offset="1.000" stop-color="#0000e8"/></linearGradient><linearGradient id="dd1" gradientUnits="userSpaceOnUse" x1="375.2" y1="251.2" x2="459.8" y2="221.8"><stop offset="0.000" stop-color="#000096"/><stop offset="0.043" stop-color="#0000a0"/><stop offset="0.085" stop-color="#0000a8"/><stop offset="0.128" stop-color="#0000b0"/><stop offset="0.170" stop-color="#0000b8"/><stop offset="0.212" stop-color="#0000be"/><stop offset="0.254" stop-color="#0000c4"/><stop offset="0.296" stop-color="#0000c9"/><stop offset="0.338" stop-color="#0000ce"/><stop offset="0.380" stop-color="#0000d3"/><stop offset="0.422" stop-color="#0000d7"/><stop offset="0.463" stop-color="#0000db"/><stop offset="0.505" stop-color="#0000de"/><stop offset="0.546" stop-color="#0000e1"/><stop offset="0.588" stop-color="#0000e4"/><stop offset="0.629" stop-color="#0000e7"/><stop offset="0.671" stop-color="#0000e9"/><stop offset="0.712" stop-color="#0000eb"/><stop offset="0.753" stop-color="#0000ed"/><stop offset="0.794" stop-color="#0000ef"/><stop offset="0.836" stop-color="#0000f1"/><stop offset="0.877" stop-color="#0000f2"/><stop offset="0.918" stop-color="#0000f3"/><stop offset="0.959" stop-color="#0000f5"/><stop offset="1.000" stop-color="#0000f6"/></linearGradient><linearGradient id="dd2" gradientUnits="userSpaceOnUse" x1="377.1" y1="251.8" x2="461.7" y2="221.9"><stop offset="0.000" stop-color="#00009c"/><stop offset="0.043" stop-color="#0000a6"/><stop offset="0.086" stop-color="#0000b0"/><stop offset="0.128" stop-color="#0000b8"/><stop offset="0.171" stop-color="#0000c0"/><stop offset="0.213" stop-color="#0000c7"/><stop offset="0.255" stop-color="#0000ce"/><stop offset="0.297" stop-color="#0000d4"/><stop offset="0.339" stop-color="#0000d9"/><stop offset="0.381" stop-color="#0000de"/><stop offset="0.422" stop-color="#0000e2"/><stop offset="0.464" stop-color="#0000e7"/><stop offset="0.505" stop-color="#0000ea"/><stop offset="0.547" stop-color="#0000ee"/><stop offset="0.588" stop-color="#0000f1"/><stop offset="0.630" stop-color="#0000f4"/><stop offset="0.671" stop-color="#0000f6"/><stop offset="0.712" stop-color="#0000f8"/><stop offset="0.753" stop-color="#0000fb"/><stop offset="0.795" stop-color="#0000fd"/><stop offset="0.836" stop-color="#0000fe"/><stop offset="0.877" stop-color="#0001ff"/><stop offset="0.918" stop-color="#0002ff"/><stop offset="0.959" stop-color="#0004ff"/><stop offset="1.000" stop-color="#0005ff"/></linearGradient><linearGradient id="dd3" gradientUnits="userSpaceOnUse" x1="378.9" y1="252.4" x2="463.5" y2="222"><stop offset="0.000" stop-color="#0000a2"/><stop offset="0.043" stop-color="#0000ad"/><stop offset="0.086" stop-color="#0000b7"/><stop offset="0.128" stop-color="#0000c1"/><stop offset="0.171" stop-color="#0000c9"/><stop offset="0.213" stop-color="#0000d1"/><stop offset="0.255" stop-color="#0000d8"/><stop offset="0.297" stop-color="#0000de"/><stop offset="0.339" stop-color="#0000e4"/><stop offset="0.381" stop-color="#0000e9"/><stop offset="0.423" stop-color="#0000ee"/><stop offset="0.464" stop-color="#0000f3"/><stop offset="0.506" stop-color="#0000f7"/><stop offset="0.547" stop-color="#0000fa"/><stop offset="0.589" stop-color="#0000fe"/><stop offset="0.630" stop-color="#0002ff"/><stop offset="0.671" stop-color="#0004ff"/><stop offset="0.713" stop-color="#0007ff"/><stop offset="0.754" stop-color="#0009ff"/><stop offset="0.795" stop-color="#000bff"/><stop offset="0.836" stop-color="#000dff"/><stop offset="0.877" stop-color="#000fff"/><stop offset="0.918" stop-color="#0011ff"/><stop offset="0.959" stop-color="#0012ff"/><stop offset="1.000" stop-color="#0013ff"/></linearGradient><linearGradient id="dd4" gradientUnits="userSpaceOnUse" x1="380.7" y1="252.9" x2="465.3" y2="222.1"><stop offset="0.000" stop-color="#0000a8"/><stop offset="0.043" stop-color="#0000b4"/><stop offset="0.086" stop-color="#0000bf"/><stop offset="0.129" stop-color="#0000c9"/><stop offset="0.171" stop-color="#0000d2"/><stop offset="0.214" stop-color="#0000da"/><stop offset="0.256" stop-color="#0000e2"/><stop offset="0.298" stop-color="#0000e9"/><stop offset="0.340" stop-color="#0000ef"/><stop offset="0.382" stop-color="#0000f5"/><stop offset="0.423" stop-color="#0000fa"/><stop offset="0.465" stop-color="#0000ff"/><stop offset="0.507" stop-color="#0004ff"/><stop offset="0.548" stop-color="#0008ff"/><stop offset="0.589" stop-color="#000cff"/><stop offset="0.631" stop-color="#000fff"/><stop offset="0.672" stop-color="#0012ff"/><stop offset="0.713" stop-color="#0015ff"/><stop offset="0.754" stop-color="#0017ff"/><stop offset="0.795" stop-color="#0019ff"/><stop offset="0.836" stop-color="#001bff"/><stop offset="0.877" stop-color="#001dff"/><stop offset="0.918" stop-color="#001fff"/><stop offset="0.959" stop-color="#0021ff"/><stop offset="1.000" stop-color="#0022ff"/></linearGradient><linearGradient id="dd5" gradientUnits="userSpaceOnUse" x1="382.6" y1="253.5" x2="467.2" y2="222.2"><stop offset="0.000" stop-color="#0000ae"/><stop offset="0.043" stop-color="#0000bb"/><stop offset="0.086" stop-color="#0000c6"/><stop offset="0.129" stop-color="#0000d1"/><stop offset="0.172" stop-color="#0000db"/><stop offset="0.214" stop-color="#0000e4"/><stop offset="0.256" stop-color="#0000ec"/><stop offset="0.299" stop-color="#0000f3"/><stop offset="0.340" stop-color="#0000fa"/><stop offset="0.382" stop-color="#0001ff"/><stop offset="0.424" stop-color="#0007ff"/><stop offset="0.466" stop-color="#000cff"/><stop offset="0.507" stop-color="#0011ff"/><stop offset="0.549" stop-color="#0015ff"/><stop offset="0.590" stop-color="#0019ff"/><stop offset="0.631" stop-color="#001cff"/><stop offset="0.672" stop-color="#0020ff"/><stop offset="0.713" stop-color="#0022ff"/><stop offset="0.755" stop-color="#0025ff"/><stop offset="0.796" stop-color="#0028ff"/><stop offset="0.836" stop-color="#002aff"/><stop offset="0.877" stop-color="#002cff"/><stop offset="0.918" stop-color="#002eff"/><stop offset="0.959" stop-color="#002fff"/><stop offset="1.000" stop-color="#0031ff"/></linearGradient><linearGradient id="dd6" gradientUnits="userSpaceOnUse" x1="384.4" y1="254.1" x2="469" y2="222.2"><stop offset="0.000" stop-color="#0000b4"/><stop offset="0.043" stop-color="#0000c2"/><stop offset="0.087" stop-color="#0000ce"/><stop offset="0.129" stop-color="#0000da"/><stop offset="0.172" stop-color="#0000e4"/><stop offset="0.215" stop-color="#0000ee"/><stop offset="0.257" stop-color="#0000f6"/><stop offset="0.299" stop-color="#0000fe"/><stop offset="0.341" stop-color="#0006ff"/><stop offset="0.383" stop-color="#000dff"/><stop offset="0.425" stop-color="#0013ff"/><stop offset="0.466" stop-color="#0018ff"/><stop offset="0.508" stop-color="#001dff"/><stop offset="0.549" stop-color="#0022ff"/><stop offset="0.590" stop-color="#0026ff"/><stop offset="0.632" stop-color="#002aff"/><stop offset="0.673" stop-color="#002dff"/><stop offset="0.714" stop-color="#0030ff"/><stop offset="0.755" stop-color="#0033ff"/><stop offset="0.796" stop-color="#0036ff"/><stop offset="0.837" stop-color="#0038ff"/><stop offset="0.878" stop-color="#003aff"/><stop offset="0.918" stop-color="#003cff"/><stop offset="0.959" stop-color="#003eff"/><stop offset="1.000" stop-color="#0040ff"/></linearGradient><linearGradient id="dd7" gradientUnits="userSpaceOnUse" x1="386.2" y1="254.6" x2="470.8" y2="222.3"><stop offset="0.000" stop-color="#0000ba"/><stop offset="0.044" stop-color="#0000c9"/><stop offset="0.087" stop-color="#0000d6"/><stop offset="0.130" stop-color="#0000e2"/><stop offset="0.173" stop-color="#0000ed"/><stop offset="0.215" stop-color="#0000f7"/><stop offset="0.257" stop-color="#0002ff"/><stop offset="0.300" stop-color="#000aff"/><stop offset="0.342" stop-color="#0012ff"/><stop offset="0.384" stop-color="#0019ff"/><stop offset="0.425" stop-color="#001fff"/><stop offset="0.467" stop-color="#0025ff"/><stop offset="0.508" stop-color="#002aff"/><stop offset="0.550" stop-color="#002fff"/><stop offset="0.591" stop-color="#0033ff"/><stop offset="0.632" stop-color="#0037ff"/><stop offset="0.673" stop-color="#003bff"/><stop offset="0.714" stop-color="#003eff"/><stop offset="0.755" stop-color="#0042ff"/><stop offset="0.796" stop-color="#0044ff"/><stop offset="0.837" stop-color="#0047ff"/><stop offset="0.878" stop-color="#0049ff"/><stop offset="0.919" stop-color="#004bff"/><stop offset="0.959" stop-color="#004dff"/><stop offset="1.000" stop-color="#004fff"/></linearGradient><linearGradient id="dd8" gradientUnits="userSpaceOnUse" x1="388.1" y1="255.2" x2="472.7" y2="222.3"><stop offset="0.000" stop-color="#0000c0"/><stop offset="0.044" stop-color="#0000d0"/><stop offset="0.087" stop-color="#0000de"/><stop offset="0.130" stop-color="#0000eb"/><stop offset="0.173" stop-color="#0000f7"/><stop offset="0.216" stop-color="#0002ff"/><stop offset="0.258" stop-color="#000cff"/><stop offset="0.300" stop-color="#0015ff"/><stop offset="0.342" stop-color="#001dff"/><stop offset="0.384" stop-color="#0025ff"/><stop offset="0.426" stop-color="#002bff"/><stop offset="0.467" stop-color="#0032ff"/><stop offset="0.509" stop-color="#0037ff"/><stop offset="0.550" stop-color="#003cff"/><stop offset="0.591" stop-color="#0041ff"/><stop offset="0.633" stop-color="#0045ff"/><stop offset="0.674" stop-color="#0049ff"/><stop offset="0.715" stop-color="#004dff"/><stop offset="0.756" stop-color="#0050ff"/><stop offset="0.796" stop-color="#0053ff"/><stop offset="0.837" stop-color="#0056ff"/><stop offset="0.878" stop-color="#0058ff"/><stop offset="0.919" stop-color="#005aff"/><stop offset="0.959" stop-color="#005cff"/><stop offset="1.000" stop-color="#005eff"/></linearGradient><linearGradient id="dd9" gradientUnits="userSpaceOnUse" x1="389.9" y1="255.7" x2="474.5" y2="222.4"><stop offset="0.000" stop-color="#0000c6"/><stop offset="0.044" stop-color="#0000d7"/><stop offset="0.087" stop-color="#0000e6"/><stop offset="0.131" stop-color="#0000f3"/><stop offset="0.173" stop-color="#0001ff"/><stop offset="0.216" stop-color="#000cff"/><stop offset="0.259" stop-color="#0017ff"/><stop offset="0.301" stop-color="#0020ff"/><stop offset="0.343" stop-color="#0029ff"/><stop offset="0.385" stop-color="#0031ff"/><stop offset="0.427" stop-color="#0038ff"/><stop offset="0.468" stop-color="#003eff"/><stop offset="0.510" stop-color="#0044ff"/><stop offset="0.551" stop-color="#004aff"/><stop offset="0.592" stop-color="#004fff"/><stop offset="0.633" stop-color="#0053ff"/><stop offset="0.674" stop-color="#0057ff"/><stop offset="0.715" stop-color="#005bff"/><stop offset="0.756" stop-color="#005eff"/><stop offset="0.797" stop-color="#0061ff"/><stop offset="0.838" stop-color="#0064ff"/><stop offset="0.878" stop-color="#0067ff"/><stop offset="0.919" stop-color="#0069ff"/><stop offset="0.959" stop-color="#006bff"/><stop offset="1.000" stop-color="#006dff"/></linearGradient><linearGradient id="dd10" gradientUnits="userSpaceOnUse" x1="391.7" y1="256.3" x2="476.3" y2="222.4"><stop offset="0.000" stop-color="#0000cc"/><stop offset="0.044" stop-color="#0000de"/><stop offset="0.088" stop-color="#0000ee"/><stop offset="0.131" stop-color="#0000fc"/><stop offset="0.174" stop-color="#000aff"/><stop offset="0.217" stop-color="#0016ff"/><stop offset="0.259" stop-color="#0021ff"/><stop offset="0.301" stop-color="#002bff"/><stop offset="0.344" stop-color="#0034ff"/><stop offset="0.385" stop-color="#003dff"/><stop offset="0.427" stop-color="#0044ff"/><stop offset="0.469" stop-color="#004bff"/><stop offset="0.510" stop-color="#0051ff"/><stop offset="0.551" stop-color="#0057ff"/><stop offset="0.593" stop-color="#005cff"/><stop offset="0.634" stop-color="#0061ff"/><stop offset="0.675" stop-color="#0065ff"/><stop offset="0.716" stop-color="#0069ff"/><stop offset="0.756" stop-color="#006dff"/><stop offset="0.797" stop-color="#0070ff"/><stop offset="0.838" stop-color="#0073ff"/><stop offset="0.878" stop-color="#0076ff"/><stop offset="0.919" stop-color="#0078ff"/><stop offset="0.960" stop-color="#007bff"/><stop offset="1.000" stop-color="#007dff"/></linearGradient><linearGradient id="dd11" gradientUnits="userSpaceOnUse" x1="393.6" y1="256.8" x2="478.2" y2="222.5"><stop offset="0.000" stop-color="#0000d3"/><stop offset="0.044" stop-color="#0000e5"/><stop offset="0.088" stop-color="#0000f6"/><stop offset="0.131" stop-color="#0006ff"/><stop offset="0.174" stop-color="#0014ff"/><stop offset="0.217" stop-color="#0020ff"/><stop offset="0.260" stop-color="#002cff"/><stop offset="0.302" stop-color="#0036ff"/><stop offset="0.344" stop-color="#0040ff"/><stop offset="0.386" stop-color="#0049ff"/><stop offset="0.428" stop-color="#0051ff"/><stop offset="0.469" stop-color="#0058ff"/><stop offset="0.511" stop-color="#005eff"/><stop offset="0.552" stop-color="#0064ff"/><stop offset="0.593" stop-color="#006aff"/><stop offset="0.634" stop-color="#006fff"/><stop offset="0.675" stop-color="#0073ff"/><stop offset="0.716" stop-color="#0078ff"/><stop offset="0.757" stop-color="#007bff"/><stop offset="0.798" stop-color="#007fff"/><stop offset="0.838" stop-color="#0082ff"/><stop offset="0.879" stop-color="#0085ff"/><stop offset="0.919" stop-color="#0087ff"/><stop offset="0.960" stop-color="#008aff"/><stop offset="1.000" stop-color="#008cff"/></linearGradient><linearGradient id="dd12" gradientUnits="userSpaceOnUse" x1="395.4" y1="257.4" x2="480" y2="222.5"><stop offset="0.000" stop-color="#0000d9"/><stop offset="0.044" stop-color="#0000ec"/><stop offset="0.088" stop-color="#0000fe"/><stop offset="0.132" stop-color="#000fff"/><stop offset="0.175" stop-color="#001dff"/><stop offset="0.218" stop-color="#002aff"/><stop offset="0.260" stop-color="#0036ff"/><stop offset="0.303" stop-color="#0041ff"/><stop offset="0.345" stop-color="#004cff"/><stop offset="0.387" stop-color="#0055ff"/><stop offset="0.429" stop-color="#005dff"/><stop offset="0.470" stop-color="#0065ff"/><stop offset="0.511" stop-color="#006cff"/><stop offset="0.553" stop-color="#0072ff"/><stop offset="0.594" stop-color="#0078ff"/><stop offset="0.635" stop-color="#007dff"/><stop offset="0.676" stop-color="#0082ff"/><stop offset="0.717" stop-color="#0086ff"/><stop offset="0.757" stop-color="#008aff"/><stop offset="0.798" stop-color="#008eff"/><stop offset="0.838" stop-color="#0091ff"/><stop offset="0.879" stop-color="#0094ff"/><stop offset="0.919" stop-color="#0097ff"/><stop offset="0.960" stop-color="#0099ff"/><stop offset="1.000" stop-color="#009cff"/></linearGradient><linearGradient id="dd13" gradientUnits="userSpaceOnUse" x1="397.2" y1="257.9" x2="481.8" y2="222.5"><stop offset="0.000" stop-color="#0000df"/><stop offset="0.044" stop-color="#0000f3"/><stop offset="0.088" stop-color="#0007ff"/><stop offset="0.132" stop-color="#0017ff"/><stop offset="0.175" stop-color="#0027ff"/><stop offset="0.218" stop-color="#0034ff"/><stop offset="0.261" stop-color="#0041ff"/><stop offset="0.303" stop-color="#004dff"/><stop offset="0.346" stop-color="#0057ff"/><stop offset="0.387" stop-color="#0061ff"/><stop offset="0.429" stop-color="#006aff"/><stop offset="0.471" stop-color="#0072ff"/><stop offset="0.512" stop-color="#0079ff"/><stop offset="0.553" stop-color="#007fff"/><stop offset="0.594" stop-color="#0085ff"/><stop offset="0.635" stop-color="#008bff"/><stop offset="0.676" stop-color="#0090ff"/><stop offset="0.717" stop-color="#0095ff"/><stop offset="0.758" stop-color="#0099ff"/><stop offset="0.798" stop-color="#009dff"/><stop offset="0.839" stop-color="#00a0ff"/><stop offset="0.879" stop-color="#00a3ff"/><stop offset="0.919" stop-color="#00a6ff"/><stop offset="0.960" stop-color="#00a9ff"/><stop offset="1.000" stop-color="#00abff"/></linearGradient><linearGradient id="dd14" gradientUnits="userSpaceOnUse" x1="399" y1="258.5" x2="483.6" y2="222.5"><stop offset="0.000" stop-color="#0000e5"/><stop offset="0.045" stop-color="#0000fa"/><stop offset="0.089" stop-color="#000fff"/><stop offset="0.132" stop-color="#0020ff"/><stop offset="0.176" stop-color="#0030ff"/><stop offset="0.219" stop-color="#003fff"/><stop offset="0.262" stop-color="#004cff"/><stop offset="0.304" stop-color="#0058ff"/><stop offset="0.346" stop-color="#0063ff"/><stop offset="0.388" stop-color="#006dff"/><stop offset="0.430" stop-color="#0076ff"/><stop offset="0.471" stop-color="#007fff"/><stop offset="0.513" stop-color="#0086ff"/><stop offset="0.554" stop-color="#008dff"/><stop offset="0.595" stop-color="#0093ff"/><stop offset="0.636" stop-color="#0099ff"/><stop offset="0.677" stop-color="#009eff"/><stop offset="0.718" stop-color="#00a3ff"/><stop offset="0.758" stop-color="#00a8ff"/><stop offset="0.799" stop-color="#00abff"/><stop offset="0.839" stop-color="#00afff"/><stop offset="0.879" stop-color="#00b2ff"/><stop offset="0.920" stop-color="#00b5ff"/><stop offset="0.960" stop-color="#00b8ff"/><stop offset="1.000" stop-color="#00bbff"/></linearGradient><linearGradient id="dd15" gradientUnits="userSpaceOnUse" x1="400.9" y1="259" x2="485.5" y2="222.6"><stop offset="0.000" stop-color="#0000ec"/><stop offset="0.045" stop-color="#0003ff"/><stop offset="0.089" stop-color="#0017ff"/><stop offset="0.133" stop-color="#0029ff"/><stop offset="0.176" stop-color="#003aff"/><stop offset="0.219" stop-color="#0049ff"/><stop offset="0.262" stop-color="#0057ff"/><stop offset="0.305" stop-color="#0063ff"/><stop offset="0.347" stop-color="#006fff"/><stop offset="0.389" stop-color="#0079ff"/><stop offset="0.431" stop-color="#0083ff"/><stop offset="0.472" stop-color="#008cff"/><stop offset="0.514" stop-color="#0093ff"/><stop offset="0.555" stop-color="#009bff"/><stop offset="0.596" stop-color="#00a1ff"/><stop offset="0.637" stop-color="#00a7ff"/><stop offset="0.677" stop-color="#00adff"/><stop offset="0.718" stop-color="#00b2ff"/><stop offset="0.759" stop-color="#00b6ff"/><stop offset="0.799" stop-color="#00baff"/><stop offset="0.839" stop-color="#00beff"/><stop offset="0.880" stop-color="#00c2ff"/><stop offset="0.920" stop-color="#00c5ff"/><stop offset="0.960" stop-color="#00c8ff"/><stop offset="1.000" stop-color="#00caff"/></linearGradient><linearGradient id="dd16" gradientUnits="userSpaceOnUse" x1="402.7" y1="259.6" x2="487.3" y2="222.6"><stop offset="0.000" stop-color="#0000f2"/><stop offset="0.045" stop-color="#000aff"/><stop offset="0.089" stop-color="#001fff"/><stop offset="0.133" stop-color="#0032ff"/><stop offset="0.177" stop-color="#0043ff"/><stop offset="0.220" stop-color="#0053ff"/><stop offset="0.263" stop-color="#0061ff"/><stop offset="0.305" stop-color="#006fff"/><stop offset="0.348" stop-color="#007bff"/><stop offset="0.390" stop-color="#0086ff"/><stop offset="0.431" stop-color="#008fff"/><stop offset="0.473" stop-color="#0099ff"/><stop offset="0.514" stop-color="#00a1ff"/><stop offset="0.555" stop-color="#00a8ff"/><stop offset="0.596" stop-color="#00afff"/><stop offset="0.637" stop-color="#00b6ff"/><stop offset="0.678" stop-color="#00bbff"/><stop offset="0.719" stop-color="#00c0ff"/><stop offset="0.759" stop-color="#00c5ff"/><stop offset="0.799" stop-color="#00caff"/><stop offset="0.840" stop-color="#00cdff"/><stop offset="0.880" stop-color="#00d1ff"/><stop offset="0.920" stop-color="#00d4ff"/><stop offset="0.960" stop-color="#00d7ff"/><stop offset="1.000" stop-color="#00daff"/></linearGradient><linearGradient id="dd17" gradientUnits="userSpaceOnUse" x1="404.5" y1="260.1" x2="489.1" y2="222.6"><stop offset="0.000" stop-color="#0000f8"/><stop offset="0.045" stop-color="#0011ff"/><stop offset="0.090" stop-color="#0027ff"/><stop offset="0.134" stop-color="#003bff"/><stop offset="0.177" stop-color="#004dff"/><stop offset="0.221" stop-color="#005dff"/><stop offset="0.264" stop-color="#006cff"/><stop offset="0.306" stop-color="#007aff"/><stop offset="0.348" stop-color="#0086ff"/><stop offset="0.390" stop-color="#0092ff"/><stop offset="0.432" stop-color="#009cff"/><stop offset="0.474" stop-color="#00a6ff"/><stop offset="0.515" stop-color="#00aeff"/><stop offset="0.556" stop-color="#00b6ff"/><stop offset="0.597" stop-color="#00bdff"/><stop offset="0.638" stop-color="#00c4ff"/><stop offset="0.679" stop-color="#00caff"/><stop offset="0.719" stop-color="#00cfff"/><stop offset="0.759" stop-color="#00d4ff"/><stop offset="0.800" stop-color="#00d9ff"/><stop offset="0.840" stop-color="#00ddff"/><stop offset="0.880" stop-color="#00e0ff"/><stop offset="0.920" stop-color="#00e4ff"/><stop offset="0.960" stop-color="#00e7ff"/><stop offset="1.000" stop-color="#00eaff"/></linearGradient><linearGradient id="dd18" gradientUnits="userSpaceOnUse" x1="406.4" y1="260.7" x2="491" y2="222.6"><stop offset="0.000" stop-color="#0000ff"/><stop offset="0.045" stop-color="#0019ff"/><stop offset="0.090" stop-color="#002fff"/><stop offset="0.134" stop-color="#0044ff"/><stop offset="0.178" stop-color="#0057ff"/><stop offset="0.221" stop-color="#0068ff"/><stop offset="0.264" stop-color="#0077ff"/><stop offset="0.307" stop-color="#0085ff"/><stop offset="0.349" stop-color="#0092ff"/><stop offset="0.391" stop-color="#009eff"/><stop offset="0.433" stop-color="#00a9ff"/><stop offset="0.474" stop-color="#00b3ff"/><stop offset="0.516" stop-color="#00bcff"/><stop offset="0.557" stop-color="#00c4ff"/><stop offset="0.598" stop-color="#00cbff"/><stop offset="0.638" stop-color="#00d2ff"/><stop offset="0.679" stop-color="#00d8ff"/><stop offset="0.720" stop-color="#00deff"/><stop offset="0.760" stop-color="#00e3ff"/><stop offset="0.800" stop-color="#00e8ff"/><stop offset="0.840" stop-color="#00ecff"/><stop offset="0.880" stop-color="#00f0ff"/><stop offset="0.920" stop-color="#00f3ff"/><stop offset="0.960" stop-color="#00f7ff"/><stop offset="1.000" stop-color="#00faff"/></linearGradient><linearGradient id="dd19" gradientUnits="userSpaceOnUse" x1="408.2" y1="261.2" x2="492.8" y2="222.6"><stop offset="0.000" stop-color="#0006ff"/><stop offset="0.045" stop-color="#0020ff"/><stop offset="0.090" stop-color="#0037ff"/><stop offset="0.135" stop-color="#004dff"/><stop offset="0.178" stop-color="#0060ff"/><stop offset="0.222" stop-color="#0072ff"/><stop offset="0.265" stop-color="#0082ff"/><stop offset="0.308" stop-color="#0091ff"/><stop offset="0.350" stop-color="#009eff"/><stop offset="0.392" stop-color="#00abff"/><stop offset="0.434" stop-color="#00b6ff"/><stop offset="0.475" stop-color="#00c0ff"/><stop offset="0.516" stop-color="#00c9ff"/><stop offset="0.558" stop-color="#00d2ff"/><stop offset="0.598" stop-color="#00d9ff"/><stop offset="0.639" stop-color="#00e0ff"/><stop offset="0.680" stop-color="#00e7ff"/><stop offset="0.720" stop-color="#00edff"/><stop offset="0.760" stop-color="#00f2ff"/><stop offset="0.801" stop-color="#00f7ff"/><stop offset="0.841" stop-color="#00fbff"/><stop offset="0.881" stop-color="#00ffff"/><stop offset="0.920" stop-color="#04fffb"/><stop offset="0.960" stop-color="#07fff8"/><stop offset="1.000" stop-color="#0afff5"/></linearGradient><linearGradient id="dd20" gradientUnits="userSpaceOnUse" x1="410" y1="261.8" x2="494.6" y2="222.6"><stop offset="0.000" stop-color="#000dff"/><stop offset="0.046" stop-color="#0027ff"/><stop offset="0.091" stop-color="#0040ff"/><stop offset="0.135" stop-color="#0056ff"/><stop offset="0.179" stop-color="#006aff"/><stop offset="0.222" stop-color="#007cff"/><stop offset="0.266" stop-color="#008dff"/><stop offset="0.308" stop-color="#009cff"/><stop offset="0.351" stop-color="#00aaff"/><stop offset="0.393" stop-color="#00b7ff"/><stop offset="0.434" stop-color="#00c3ff"/><stop offset="0.476" stop-color="#00cdff"/><stop offset="0.517" stop-color="#00d7ff"/><stop offset="0.558" stop-color="#00e0ff"/><stop offset="0.599" stop-color="#00e8ff"/><stop offset="0.640" stop-color="#00efff"/><stop offset="0.680" stop-color="#00f5ff"/><stop offset="0.721" stop-color="#00fcff"/><stop offset="0.761" stop-color="#02fffd"/><stop offset="0.801" stop-color="#07fff8"/><stop offset="0.841" stop-color="#0cfff3"/><stop offset="0.881" stop-color="#10ffef"/><stop offset="0.921" stop-color="#14ffeb"/><stop offset="0.960" stop-color="#17ffe8"/><stop offset="1.000" stop-color="#1affe5"/></linearGradient><linearGradient id="dd21" gradientUnits="userSpaceOnUse" x1="411.9" y1="262.3" x2="496.5" y2="222.6"><stop offset="0.000" stop-color="#0013ff"/><stop offset="0.046" stop-color="#002fff"/><stop offset="0.091" stop-color="#0048ff"/><stop offset="0.135" stop-color="#005fff"/><stop offset="0.180" stop-color="#0074ff"/><stop offset="0.223" stop-color="#0087ff"/><stop offset="0.266" stop-color="#0098ff"/><stop offset="0.309" stop-color="#00a8ff"/><stop offset="0.351" stop-color="#00b6ff"/><stop offset="0.393" stop-color="#00c3ff"/><stop offset="0.435" stop-color="#00cfff"/><stop offset="0.477" stop-color="#00daff"/><stop offset="0.518" stop-color="#00e4ff"/><stop offset="0.559" stop-color="#00edff"/><stop offset="0.600" stop-color="#00f6ff"/><stop offset="0.640" stop-color="#00fdff"/><stop offset="0.681" stop-color="#05fffa"/><stop offset="0.721" stop-color="#0bfff4"/><stop offset="0.761" stop-color="#11ffee"/><stop offset="0.801" stop-color="#16ffe9"/><stop offset="0.841" stop-color="#1bffe4"/><stop offset="0.881" stop-color="#1fffe0"/><stop offset="0.921" stop-color="#23ffdc"/><stop offset="0.960" stop-color="#27ffd8"/><stop offset="1.000" stop-color="#2affd5"/></linearGradient><linearGradient id="dd22" gradientUnits="userSpaceOnUse" x1="413.7" y1="262.8" x2="498.3" y2="222.6"><stop offset="0.000" stop-color="#0019ff"/><stop offset="0.046" stop-color="#0036ff"/><stop offset="0.091" stop-color="#0050ff"/><stop offset="0.136" stop-color="#0068ff"/><stop offset="0.180" stop-color="#007dff"/><stop offset="0.224" stop-color="#0091ff"/><stop offset="0.267" stop-color="#00a3ff"/><stop offset="0.310" stop-color="#00b3ff"/><stop offset="0.352" stop-color="#00c2ff"/><stop offset="0.394" stop-color="#00d0ff"/><stop offset="0.436" stop-color="#00dcff"/><stop offset="0.478" stop-color="#00e8ff"/><stop offset="0.519" stop-color="#00f2ff"/><stop offset="0.560" stop-color="#00fbff"/><stop offset="0.601" stop-color="#05fffa"/><stop offset="0.641" stop-color="#0dfff2"/><stop offset="0.682" stop-color="#14ffeb"/><stop offset="0.722" stop-color="#1affe5"/><stop offset="0.762" stop-color="#20ffdf"/><stop offset="0.802" stop-color="#26ffd9"/><stop offset="0.842" stop-color="#2affd5"/><stop offset="0.881" stop-color="#2fffd0"/><stop offset="0.921" stop-color="#33ffcc"/><stop offset="0.961" stop-color="#37ffc8"/><stop offset="1.000" stop-color="#3affc5"/></linearGradient><linearGradient id="dd23" gradientUnits="userSpaceOnUse" x1="415.5" y1="263.4" x2="500.1" y2="222.6"><stop offset="0.000" stop-color="#0020ff"/><stop offset="0.046" stop-color="#003dff"/><stop offset="0.092" stop-color="#0058ff"/><stop offset="0.136" stop-color="#0071ff"/><stop offset="0.181" stop-color="#0087ff"/><stop offset="0.224" stop-color="#009bff"/><stop offset="0.268" stop-color="#00aeff"/><stop offset="0.310" stop-color="#00bfff"/><stop offset="0.353" stop-color="#00ceff"/><stop offset="0.395" stop-color="#00dcff"/><stop offset="0.437" stop-color="#00e9ff"/><stop offset="0.478" stop-color="#00f5ff"/><stop offset="0.520" stop-color="#01fffe"/><stop offset="0.560" stop-color="#0afff5"/><stop offset="0.601" stop-color="#13ffec"/><stop offset="0.642" stop-color="#1bffe4"/><stop offset="0.682" stop-color="#23ffdc"/><stop offset="0.722" stop-color="#29ffd6"/><stop offset="0.762" stop-color="#2fffd0"/><stop offset="0.802" stop-color="#35ffca"/><stop offset="0.842" stop-color="#3affc5"/><stop offset="0.882" stop-color="#3fffc0"/><stop offset="0.921" stop-color="#43ffbc"/><stop offset="0.961" stop-color="#47ffb8"/><stop offset="1.000" stop-color="#4affb5"/></linearGradient><linearGradient id="dd24" gradientUnits="userSpaceOnUse" x1="417.3" y1="263.9" x2="501.9" y2="222.6"><stop offset="0.000" stop-color="#0026ff"/><stop offset="0.046" stop-color="#0045ff"/><stop offset="0.092" stop-color="#0061ff"/><stop offset="0.137" stop-color="#007aff"/><stop offset="0.181" stop-color="#0091ff"/><stop offset="0.225" stop-color="#00a6ff"/><stop offset="0.268" stop-color="#00b9ff"/><stop offset="0.311" stop-color="#00cbff"/><stop offset="0.354" stop-color="#00daff"/><stop offset="0.396" stop-color="#00e9ff"/><stop offset="0.438" stop-color="#00f6ff"/><stop offset="0.479" stop-color="#03fffc"/><stop offset="0.520" stop-color="#0efff1"/><stop offset="0.561" stop-color="#18ffe7"/><stop offset="0.602" stop-color="#21ffde"/><stop offset="0.642" stop-color="#2affd5"/><stop offset="0.683" stop-color="#31ffce"/><stop offset="0.723" stop-color="#38ffc7"/><stop offset="0.763" stop-color="#3effc1"/><stop offset="0.803" stop-color="#44ffbb"/><stop offset="0.842" stop-color="#49ffb6"/><stop offset="0.882" stop-color="#4effb1"/><stop offset="0.921" stop-color="#53ffac"/><stop offset="0.961" stop-color="#57ffa8"/><stop offset="1.000" stop-color="#5affa5"/></linearGradient><linearGradient id="dd25" gradientUnits="userSpaceOnUse" x1="419.2" y1="264.5" x2="503.8" y2="222.6"><stop offset="0.000" stop-color="#002dff"/><stop offset="0.046" stop-color="#004cff"/><stop offset="0.092" stop-color="#0069ff"/><stop offset="0.137" stop-color="#0083ff"/><stop offset="0.182" stop-color="#009bff"/><stop offset="0.226" stop-color="#00b0ff"/><stop offset="0.269" stop-color="#00c4ff"/><stop offset="0.312" stop-color="#00d6ff"/><stop offset="0.355" stop-color="#00e7ff"/><stop offset="0.397" stop-color="#00f5ff"/><stop offset="0.438" stop-color="#04fffb"/><stop offset="0.480" stop-color="#11ffee"/><stop offset="0.521" stop-color="#1cffe3"/><stop offset="0.562" stop-color="#26ffd9"/><stop offset="0.603" stop-color="#30ffcf"/><stop offset="0.643" stop-color="#38ffc7"/><stop offset="0.683" stop-color="#40ffbf"/><stop offset="0.723" stop-color="#47ffb8"/><stop offset="0.763" stop-color="#4effb1"/><stop offset="0.803" stop-color="#54ffab"/><stop offset="0.843" stop-color="#59ffa6"/><stop offset="0.882" stop-color="#5effa1"/><stop offset="0.922" stop-color="#62ff9d"/><stop offset="0.961" stop-color="#66ff99"/><stop offset="1.000" stop-color="#6aff95"/></linearGradient><linearGradient id="dd26" gradientUnits="userSpaceOnUse" x1="421" y1="265" x2="505.6" y2="222.6"><stop offset="0.000" stop-color="#0033ff"/><stop offset="0.047" stop-color="#0054ff"/><stop offset="0.093" stop-color="#0071ff"/><stop offset="0.138" stop-color="#008cff"/><stop offset="0.182" stop-color="#00a5ff"/><stop offset="0.226" stop-color="#00bbff"/><stop offset="0.270" stop-color="#00cfff"/><stop offset="0.313" stop-color="#00e2ff"/><stop offset="0.355" stop-color="#00f3ff"/><stop offset="0.398" stop-color="#03fffc"/><stop offset="0.439" stop-color="#11ffee"/><stop offset="0.481" stop-color="#1effe1"/><stop offset="0.522" stop-color="#2affd5"/><stop offset="0.563" stop-color="#34ffcb"/><stop offset="0.603" stop-color="#3effc1"/><stop offset="0.644" stop-color="#47ffb8"/><stop offset="0.684" stop-color="#4fffb0"/><stop offset="0.724" stop-color="#56ffa9"/><stop offset="0.764" stop-color="#5dffa2"/><stop offset="0.804" stop-color="#63ff9c"/><stop offset="0.843" stop-color="#69ff96"/><stop offset="0.882" stop-color="#6eff91"/><stop offset="0.922" stop-color="#72ff8d"/><stop offset="0.961" stop-color="#76ff89"/><stop offset="1.000" stop-color="#7aff85"/></linearGradient><linearGradient id="dd27" gradientUnits="userSpaceOnUse" x1="422.8" y1="265.5" x2="507.4" y2="222.6"><stop offset="0.000" stop-color="#003aff"/><stop offset="0.047" stop-color="#005bff"/><stop offset="0.093" stop-color="#007aff"/><stop offset="0.138" stop-color="#0095ff"/><stop offset="0.183" stop-color="#00aeff"/><stop offset="0.227" stop-color="#00c5ff"/><stop offset="0.271" stop-color="#00daff"/><stop offset="0.314" stop-color="#00edff"/><stop offset="0.356" stop-color="#00ffff"/><stop offset="0.398" stop-color="#10ffef"/><stop offset="0.440" stop-color="#1effe1"/><stop offset="0.482" stop-color="#2bffd4"/><stop offset="0.523" stop-color="#37ffc8"/><stop offset="0.564" stop-color="#42ffbd"/><stop offset="0.604" stop-color="#4cffb3"/><stop offset="0.645" stop-color="#55ffaa"/><stop offset="0.685" stop-color="#5effa1"/><stop offset="0.725" stop-color="#65ff9a"/><stop offset="0.764" stop-color="#6cff93"/><stop offset="0.804" stop-color="#72ff8d"/><stop offset="0.843" stop-color="#78ff87"/><stop offset="0.883" stop-color="#7dff82"/><stop offset="0.922" stop-color="#82ff7d"/><stop offset="0.961" stop-color="#86ff79"/><stop offset="1.000" stop-color="#8aff75"/></linearGradient><linearGradient id="dd28" gradientUnits="userSpaceOnUse" x1="424.7" y1="266.1" x2="509.3" y2="222.6"><stop offset="0.000" stop-color="#0040ff"/><stop offset="0.047" stop-color="#0063ff"/><stop offset="0.093" stop-color="#0082ff"/><stop offset="0.139" stop-color="#009eff"/><stop offset="0.184" stop-color="#00b8ff"/><stop offset="0.228" stop-color="#00d0ff"/><stop offset="0.271" stop-color="#00e5ff"/><stop offset="0.314" stop-color="#00f9ff"/><stop offset="0.357" stop-color="#0cfff3"/><stop offset="0.399" stop-color="#1cffe3"/><stop offset="0.441" stop-color="#2bffd4"/><stop offset="0.482" stop-color="#39ffc6"/><stop offset="0.524" stop-color="#45ffba"/><stop offset="0.564" stop-color="#50ffaf"/><stop offset="0.605" stop-color="#5bffa4"/><stop offset="0.645" stop-color="#64ff9b"/><stop offset="0.685" stop-color="#6dff92"/><stop offset="0.725" stop-color="#74ff8b"/><stop offset="0.765" stop-color="#7bff84"/><stop offset="0.804" stop-color="#82ff7d"/><stop offset="0.844" stop-color="#88ff77"/><stop offset="0.883" stop-color="#8dff72"/><stop offset="0.922" stop-color="#92ff6d"/><stop offset="0.961" stop-color="#97ff68"/><stop offset="1.000" stop-color="#9bff64"/></linearGradient><linearGradient id="dd29" gradientUnits="userSpaceOnUse" x1="426.5" y1="266.6" x2="511.1" y2="222.6"><stop offset="0.000" stop-color="#0047ff"/><stop offset="0.047" stop-color="#006aff"/><stop offset="0.094" stop-color="#008aff"/><stop offset="0.139" stop-color="#00a7ff"/><stop offset="0.184" stop-color="#00c2ff"/><stop offset="0.228" stop-color="#00daff"/><stop offset="0.272" stop-color="#00f1ff"/><stop offset="0.315" stop-color="#06fff9"/><stop offset="0.358" stop-color="#18ffe7"/><stop offset="0.400" stop-color="#29ffd6"/><stop offset="0.442" stop-color="#38ffc7"/><stop offset="0.483" stop-color="#46ffb9"/><stop offset="0.524" stop-color="#53ffac"/><stop offset="0.565" stop-color="#5effa1"/><stop offset="0.606" stop-color="#69ff96"/><stop offset="0.646" stop-color="#73ff8c"/><stop offset="0.686" stop-color="#7bff84"/><stop offset="0.726" stop-color="#83ff7c"/><stop offset="0.765" stop-color="#8bff74"/><stop offset="0.805" stop-color="#91ff6e"/><stop offset="0.844" stop-color="#97ff68"/><stop offset="0.883" stop-color="#9dff62"/><stop offset="0.922" stop-color="#a2ff5d"/><stop offset="0.961" stop-color="#a7ff58"/><stop offset="1.000" stop-color="#abff54"/></linearGradient><linearGradient id="dd30" gradientUnits="userSpaceOnUse" x1="428.3" y1="267.1" x2="512.9" y2="222.6"><stop offset="0.000" stop-color="#004dff"/><stop offset="0.047" stop-color="#0072ff"/><stop offset="0.094" stop-color="#0093ff"/><stop offset="0.140" stop-color="#00b1ff"/><stop offset="0.185" stop-color="#00ccff"/><stop offset="0.229" stop-color="#00e5ff"/><stop offset="0.273" stop-color="#00fcff"/><stop offset="0.316" stop-color="#11ffee"/><stop offset="0.359" stop-color="#24ffdb"/><stop offset="0.401" stop-color="#36ffc9"/><stop offset="0.443" stop-color="#45ffba"/><stop offset="0.484" stop-color="#54ffab"/><stop offset="0.525" stop-color="#61ff9e"/><stop offset="0.566" stop-color="#6dff92"/><stop offset="0.606" stop-color="#77ff88"/><stop offset="0.647" stop-color="#81ff7e"/><stop offset="0.687" stop-color="#8aff75"/><stop offset="0.726" stop-color="#93ff6c"/><stop offset="0.766" stop-color="#9aff65"/><stop offset="0.805" stop-color="#a1ff5e"/><stop offset="0.845" stop-color="#a7ff58"/><stop offset="0.884" stop-color="#adff52"/><stop offset="0.923" stop-color="#b2ff4d"/><stop offset="0.961" stop-color="#b7ff48"/><stop offset="1.000" stop-color="#bbff44"/></linearGradient><linearGradient id="dd31" gradientUnits="userSpaceOnUse" x1="430.2" y1="267.7" x2="514.8" y2="222.6"><stop offset="0.000" stop-color="#0054ff"/><stop offset="0.048" stop-color="#0079ff"/><stop offset="0.094" stop-color="#009bff"/><stop offset="0.140" stop-color="#00baff"/><stop offset="0.185" stop-color="#00d6ff"/><stop offset="0.230" stop-color="#00f0ff"/><stop offset="0.274" stop-color="#08fff7"/><stop offset="0.317" stop-color="#1dffe2"/><stop offset="0.360" stop-color="#31ffce"/><stop offset="0.402" stop-color="#42ffbd"/><stop offset="0.444" stop-color="#52ffad"/><stop offset="0.485" stop-color="#61ff9e"/><stop offset="0.526" stop-color="#6fff90"/><stop offset="0.567" stop-color="#7bff84"/><stop offset="0.607" stop-color="#86ff79"/><stop offset="0.647" stop-color="#90ff6f"/><stop offset="0.687" stop-color="#99ff66"/><stop offset="0.727" stop-color="#a2ff5d"/><stop offset="0.767" stop-color="#a9ff56"/><stop offset="0.806" stop-color="#b0ff4f"/><stop offset="0.845" stop-color="#b7ff48"/><stop offset="0.884" stop-color="#bdff42"/><stop offset="0.923" stop-color="#c2ff3d"/><stop offset="0.961" stop-color="#c7ff38"/><stop offset="1.000" stop-color="#cbff34"/></linearGradient><linearGradient id="dd32" gradientUnits="userSpaceOnUse" x1="432" y1="268.2" x2="516.6" y2="222.6"><stop offset="0.000" stop-color="#005bff"/><stop offset="0.048" stop-color="#0081ff"/><stop offset="0.095" stop-color="#00a3ff"/><stop offset="0.141" stop-color="#00c3ff"/><stop offset="0.186" stop-color="#00e0ff"/><stop offset="0.230" stop-color="#00faff"/><stop offset="0.274" stop-color="#13ffec"/><stop offset="0.318" stop-color="#29ffd6"/><stop offset="0.360" stop-color="#3dffc2"/><stop offset="0.403" stop-color="#4fffb0"/><stop offset="0.444" stop-color="#60ff9f"/><stop offset="0.486" stop-color="#6fff90"/><stop offset="0.527" stop-color="#7cff83"/><stop offset="0.568" stop-color="#89ff76"/><stop offset="0.608" stop-color="#94ff6b"/><stop offset="0.648" stop-color="#9fff60"/><stop offset="0.688" stop-color="#a8ff57"/><stop offset="0.728" stop-color="#b1ff4e"/><stop offset="0.767" stop-color="#b9ff46"/><stop offset="0.806" stop-color="#c0ff3f"/><stop offset="0.845" stop-color="#c7ff38"/><stop offset="0.884" stop-color="#cdff32"/><stop offset="0.923" stop-color="#d2ff2d"/><stop offset="0.962" stop-color="#d7ff28"/><stop offset="1.000" stop-color="#dbff24"/></linearGradient><linearGradient id="dd33" gradientUnits="userSpaceOnUse" x1="433.8" y1="268.7" x2="518.4" y2="222.6"><stop offset="0.000" stop-color="#0061ff"/><stop offset="0.048" stop-color="#0088ff"/><stop offset="0.095" stop-color="#00acff"/><stop offset="0.141" stop-color="#00ccff"/><stop offset="0.187" stop-color="#00eaff"/><stop offset="0.231" stop-color="#06fff9"/><stop offset="0.275" stop-color="#1effe1"/><stop offset="0.318" stop-color="#35ffca"/><stop offset="0.361" stop-color="#49ffb6"/><stop offset="0.404" stop-color="#5cffa3"/><stop offset="0.445" stop-color="#6dff92"/><stop offset="0.487" stop-color="#7cff83"/><stop offset="0.528" stop-color="#8aff75"/><stop offset="0.568" stop-color="#97ff68"/><stop offset="0.609" stop-color="#a3ff5c"/><stop offset="0.649" stop-color="#adff52"/><stop offset="0.689" stop-color="#b7ff48"/><stop offset="0.728" stop-color="#c0ff3f"/><stop offset="0.768" stop-color="#c8ff37"/><stop offset="0.807" stop-color="#d0ff2f"/><stop offset="0.846" stop-color="#d6ff29"/><stop offset="0.884" stop-color="#dcff23"/><stop offset="0.923" stop-color="#e2ff1d"/><stop offset="0.962" stop-color="#e7ff18"/><stop offset="1.000" stop-color="#ecff13"/></linearGradient><linearGradient id="dd34" gradientUnits="userSpaceOnUse" x1="435.7" y1="269.3" x2="520.3" y2="222.6"><stop offset="0.000" stop-color="#0068ff"/><stop offset="0.048" stop-color="#0090ff"/><stop offset="0.095" stop-color="#00b4ff"/><stop offset="0.142" stop-color="#00d5ff"/><stop offset="0.187" stop-color="#00f4ff"/><stop offset="0.232" stop-color="#10ffef"/><stop offset="0.276" stop-color="#2affd5"/><stop offset="0.319" stop-color="#40ffbf"/><stop offset="0.362" stop-color="#55ffaa"/><stop offset="0.404" stop-color="#68ff97"/><stop offset="0.446" stop-color="#7aff85"/><stop offset="0.488" stop-color="#8aff75"/><stop offset="0.529" stop-color="#98ff67"/><stop offset="0.569" stop-color="#a5ff5a"/><stop offset="0.610" stop-color="#b1ff4e"/><stop offset="0.650" stop-color="#bcff43"/><stop offset="0.689" stop-color="#c6ff39"/><stop offset="0.729" stop-color="#cfff30"/><stop offset="0.768" stop-color="#d8ff27"/><stop offset="0.807" stop-color="#dfff20"/><stop offset="0.846" stop-color="#e6ff19"/><stop offset="0.885" stop-color="#ecff13"/><stop offset="0.923" stop-color="#f2ff0d"/><stop offset="0.962" stop-color="#f7ff08"/><stop offset="1.000" stop-color="#fcff03"/></linearGradient><linearGradient id="dd35" gradientUnits="userSpaceOnUse" x1="437.5" y1="269.8" x2="522.1" y2="222.5"><stop offset="0.000" stop-color="#006eff"/><stop offset="0.048" stop-color="#0097ff"/><stop offset="0.096" stop-color="#00bdff"/><stop offset="0.142" stop-color="#00dfff"/><stop offset="0.188" stop-color="#00feff"/><stop offset="0.233" stop-color="#1bffe4"/><stop offset="0.277" stop-color="#35ffca"/><stop offset="0.320" stop-color="#4cffb3"/><stop offset="0.363" stop-color="#62ff9d"/><stop offset="0.405" stop-color="#75ff8a"/><stop offset="0.447" stop-color="#87ff78"/><stop offset="0.489" stop-color="#97ff68"/><stop offset="0.530" stop-color="#a6ff59"/><stop offset="0.570" stop-color="#b4ff4b"/><stop offset="0.610" stop-color="#c0ff3f"/><stop offset="0.650" stop-color="#cbff34"/><stop offset="0.690" stop-color="#d5ff2a"/><stop offset="0.730" stop-color="#dfff20"/><stop offset="0.769" stop-color="#e7ff18"/><stop offset="0.808" stop-color="#efff10"/><stop offset="0.846" stop-color="#f6ff09"/><stop offset="0.885" stop-color="#fcff03"/><stop offset="0.924" stop-color="#fffc00"/><stop offset="0.962" stop-color="#fff700"/><stop offset="1.000" stop-color="#fff200"/></linearGradient></defs>
<g><path d="M372.5 250.3L376 248.8L379.6 247.4L383.1 246L386.6 244.7L390.1 243.4L393.6 242.1L397.2 240.8L400.7 239.6L404.2 238.3L407.8 237.1L411.3 235.9L414.8 234.8L418.3 233.6L421.9 232.5L425.4 231.3L428.9 230.2L432.4 229.1L436 228L439.5 226.9L443 225.9L446.5 224.8L450.1 223.7L453.6 222.7L457.1 221.6L460.8 221.9L457.2 223L453.7 224L450.2 225.1L446.7 226.2L443.1 227.3L439.6 228.4L436.1 229.5L432.6 230.6L429 231.8L425.5 232.9L422 234.1L418.5 235.3L414.9 236.5L411.4 237.7L407.9 238.9L404.4 240.2L400.8 241.5L397.3 242.8L393.8 244.2L390.3 245.6L386.7 247L383.2 248.4L379.7 249.9L376.2 251.5Z" fill="url(#dd0)"/><path d="M374.3 250.9L377.9 249.4L381.4 247.9L384.9 246.5L388.4 245.1L392 243.8L395.5 242.5L399 241.2L402.5 239.9L406.1 238.7L409.6 237.4L413.1 236.2L416.6 235L420.2 233.9L423.7 232.7L427.2 231.6L430.7 230.5L434.3 229.3L437.8 228.2L441.3 227.1L444.8 226.1L448.4 225L451.9 223.9L455.4 222.8L458.9 221.8L462.6 222L459.1 223.1L455.5 224.1L452 225.2L448.5 226.3L445 227.4L441.4 228.5L437.9 229.7L434.4 230.8L430.9 232L427.3 233.1L423.8 234.3L420.3 235.5L416.8 236.7L413.2 238L409.7 239.2L406.2 240.5L402.7 241.8L399.1 243.2L395.6 244.6L392.1 246L388.6 247.4L385 248.9L381.5 250.5L378 252.1Z" fill="url(#dd1)"/><path d="M376.2 251.5L379.7 249.9L383.2 248.4L386.7 247L390.3 245.6L393.8 244.2L397.3 242.8L400.8 241.5L404.4 240.2L407.9 238.9L411.4 237.7L414.9 236.5L418.5 235.3L422 234.1L425.5 232.9L429 231.8L432.6 230.6L436.1 229.5L439.6 228.4L443.1 227.3L446.7 226.2L450.2 225.1L453.7 224L457.2 223L460.8 221.9L464.4 222.1L460.9 223.1L457.4 224.2L453.8 225.3L450.3 226.4L446.8 227.5L443.3 228.7L439.7 229.8L436.2 231L432.7 232.1L429.2 233.3L425.6 234.5L422.1 235.7L418.6 236.9L415.1 238.2L411.5 239.5L408 240.8L404.5 242.1L401 243.5L397.4 244.9L393.9 246.4L390.4 247.9L386.9 249.4L383.3 251L379.8 252.7Z" fill="url(#dd2)"/><path d="M378 252.1L381.5 250.5L385 248.9L388.6 247.4L392.1 246L395.6 244.6L399.1 243.2L402.7 241.8L406.2 240.5L409.7 239.2L413.2 238L416.8 236.7L420.3 235.5L423.8 234.3L427.3 233.1L430.9 232L434.4 230.8L437.9 229.7L441.4 228.5L445 227.4L448.5 226.3L452 225.2L455.5 224.1L459.1 223.1L462.6 222L466.3 222.1L462.7 223.2L459.2 224.3L455.7 225.4L452.2 226.5L448.6 227.7L445.1 228.8L441.6 229.9L438.1 231.1L434.5 232.3L431 233.5L427.5 234.7L424 235.9L420.4 237.2L416.9 238.4L413.4 239.7L409.9 241.1L406.3 242.4L402.8 243.8L399.3 245.3L395.8 246.8L392.2 248.3L388.7 249.9L385.2 251.5L381.7 253.2Z" fill="url(#dd3)"/><path d="M379.8 252.7L383.3 251L386.9 249.4L390.4 247.9L393.9 246.4L397.4 244.9L401 243.5L404.5 242.1L408 240.8L411.5 239.5L415.1 238.2L418.6 236.9L422.1 235.7L425.6 234.5L429.2 233.3L432.7 232.1L436.2 231L439.7 229.8L443.3 228.7L446.8 227.5L450.3 226.4L453.8 225.3L457.4 224.2L460.9 223.1L464.4 222.1L468.1 222.2L464.6 223.3L461 224.4L457.5 225.5L454 226.6L450.5 227.8L446.9 228.9L443.4 230L439.9 231.2L436.4 232.4L432.8 233.6L429.3 234.8L425.8 236.1L422.3 237.4L418.7 238.7L415.2 240L411.7 241.3L408.2 242.7L404.6 244.2L401.1 245.6L397.6 247.2L394.1 248.7L390.5 250.4L387 252L383.5 253.8Z" fill="url(#dd4)"/><path d="M381.7 253.2L385.2 251.5L388.7 249.9L392.2 248.3L395.8 246.8L399.3 245.3L402.8 243.8L406.3 242.4L409.9 241.1L413.4 239.7L416.9 238.4L420.4 237.2L424 235.9L427.5 234.7L431 233.5L434.5 232.3L438.1 231.1L441.6 229.9L445.1 228.8L448.6 227.7L452.2 226.5L455.7 225.4L459.2 224.3L462.7 223.2L466.3 222.1L469.9 222.3L466.4 223.4L462.9 224.5L459.3 225.6L455.8 226.7L452.3 227.8L448.8 229L445.2 230.2L441.7 231.3L438.2 232.5L434.7 233.8L431.1 235L427.6 236.3L424.1 237.6L420.6 238.9L417 240.2L413.5 241.6L410 243L406.5 244.5L402.9 246L399.4 247.5L395.9 249.2L392.4 250.8L388.8 252.5L385.3 254.3Z" fill="url(#dd5)"/><path d="M383.5 253.8L387 252L390.5 250.4L394.1 248.7L397.6 247.2L401.1 245.6L404.6 244.2L408.2 242.7L411.7 241.3L415.2 240L418.7 238.7L422.3 237.4L425.8 236.1L429.3 234.8L432.8 233.6L436.4 232.4L439.9 231.2L443.4 230L446.9 228.9L450.5 227.8L454 226.6L457.5 225.5L461 224.4L464.6 223.3L468.1 222.2L471.7 222.3L468.2 223.4L464.7 224.5L461.2 225.7L457.6 226.8L454.1 227.9L450.6 229.1L447.1 230.3L443.5 231.5L440 232.7L436.5 233.9L433 235.2L429.4 236.4L425.9 237.8L422.4 239.1L418.9 240.5L415.3 241.9L411.8 243.3L408.3 244.8L404.8 246.3L401.2 247.9L397.7 249.6L394.2 251.3L390.7 253.1L387.1 254.9Z" fill="url(#dd6)"/><path d="M385.3 254.3L388.8 252.5L392.4 250.8L395.9 249.2L399.4 247.5L402.9 246L406.5 244.5L410 243L413.5 241.6L417 240.2L420.6 238.9L424.1 237.6L427.6 236.3L431.1 235L434.7 233.8L438.2 232.5L441.7 231.3L445.2 230.2L448.8 229L452.3 227.8L455.8 226.7L459.3 225.6L462.9 224.5L466.4 223.4L469.9 222.3L473.6 222.4L470.1 223.5L466.5 224.6L463 225.7L459.5 226.9L456 228L452.4 229.2L448.9 230.4L445.4 231.6L441.9 232.8L438.3 234L434.8 235.3L431.3 236.6L427.8 237.9L424.2 239.3L420.7 240.7L417.2 242.1L413.7 243.6L410.1 245.1L406.6 246.7L403.1 248.3L399.6 250L396 251.7L392.5 253.6L389 255.5Z" fill="url(#dd7)"/><path d="M387.1 254.9L390.7 253.1L394.2 251.3L397.7 249.6L401.2 247.9L404.8 246.3L408.3 244.8L411.8 243.3L415.3 241.9L418.9 240.5L422.4 239.1L425.9 237.8L429.4 236.4L433 235.2L436.5 233.9L440 232.7L443.5 231.5L447.1 230.3L450.6 229.1L454.1 227.9L457.6 226.8L461.2 225.7L464.7 224.5L468.2 223.4L471.7 222.3L475.4 222.4L471.9 223.5L468.4 224.6L464.8 225.8L461.3 226.9L457.8 228.1L454.3 229.3L450.7 230.5L447.2 231.7L443.7 232.9L440.2 234.2L436.6 235.5L433.1 236.8L429.6 238.1L426.1 239.5L422.5 240.9L419 242.4L415.5 243.9L412 245.4L408.4 247L404.9 248.7L401.4 250.4L397.9 252.2L394.3 254.1L390.8 256Z" fill="url(#dd8)"/><path d="M389 255.5L392.5 253.6L396 251.7L399.6 250L403.1 248.3L406.6 246.7L410.1 245.1L413.7 243.6L417.2 242.1L420.7 240.7L424.2 239.3L427.8 237.9L431.3 236.6L434.8 235.3L438.3 234L441.9 232.8L445.4 231.6L448.9 230.4L452.4 229.2L456 228L459.5 226.9L463 225.7L466.5 224.6L470.1 223.5L473.6 222.4L477.2 222.4L473.7 223.6L470.2 224.7L466.7 225.8L463.1 227L459.6 228.2L456.1 229.4L452.6 230.6L449 231.8L445.5 233L442 234.3L438.5 235.6L434.9 237L431.4 238.3L427.9 239.7L424.4 241.1L420.8 242.6L417.3 244.2L413.8 245.7L410.3 247.4L406.7 249.1L403.2 250.8L399.7 252.7L396.2 254.6L392.6 256.6Z" fill="url(#dd9)"/><path d="M390.8 256L394.3 254.1L397.9 252.2L401.4 250.4L404.9 248.7L408.4 247L412 245.4L415.5 243.9L419 242.4L422.5 240.9L426.1 239.5L429.6 238.1L433.1 236.8L436.6 235.5L440.2 234.2L443.7 232.9L447.2 231.7L450.7 230.5L454.3 229.3L457.8 228.1L461.3 226.9L464.8 225.8L468.4 224.6L471.9 223.5L475.4 222.4L479.1 222.5L475.5 223.6L472 224.7L468.5 225.9L465 227.1L461.4 228.2L457.9 229.4L454.4 230.7L450.9 231.9L447.3 233.2L443.8 234.4L440.3 235.8L436.8 237.1L433.2 238.5L429.7 239.9L426.2 241.4L422.7 242.9L419.1 244.4L415.6 246L412.1 247.7L408.6 249.4L405 251.2L401.5 253.1L398 255.1L394.5 257.1Z" fill="url(#dd10)"/><path d="M392.6 256.6L396.2 254.6L399.7 252.7L403.2 250.8L406.7 249.1L410.3 247.4L413.8 245.7L417.3 244.2L420.8 242.6L424.4 241.1L427.9 239.7L431.4 238.3L434.9 237L438.5 235.6L442 234.3L445.5 233L449 231.8L452.6 230.6L456.1 229.4L459.6 228.2L463.1 227L466.7 225.8L470.2 224.7L473.7 223.6L477.2 222.4L480.9 222.5L477.4 223.6L473.8 224.8L470.3 225.9L466.8 227.1L463.3 228.3L459.7 229.5L456.2 230.7L452.7 232L449.2 233.3L445.6 234.6L442.1 235.9L438.6 237.3L435.1 238.7L431.5 240.1L428 241.6L424.5 243.1L421 244.7L417.4 246.3L413.9 248L410.4 249.8L406.9 251.6L403.3 253.6L399.8 255.6L396.3 257.7Z" fill="url(#dd11)"/><path d="M394.5 257.1L398 255.1L401.5 253.1L405 251.2L408.6 249.4L412.1 247.7L415.6 246L419.1 244.4L422.7 242.9L426.2 241.4L429.7 239.9L433.2 238.5L436.8 237.1L440.3 235.8L443.8 234.4L447.3 233.2L450.9 231.9L454.4 230.7L457.9 229.4L461.4 228.2L465 227.1L468.5 225.9L472 224.7L475.5 223.6L479.1 222.5L482.7 222.5L479.2 223.7L475.7 224.8L472.2 226L468.6 227.2L465.1 228.4L461.6 229.6L458.1 230.8L454.5 232.1L451 233.4L447.5 234.7L444 236L440.4 237.4L436.9 238.8L433.4 240.3L429.9 241.8L426.3 243.4L422.8 245L419.3 246.6L415.8 248.4L412.2 250.2L408.7 252L405.2 254L401.7 256.1L398.1 258.2Z" fill="url(#dd12)"/><path d="M396.3 257.7L399.8 255.6L403.3 253.6L406.9 251.6L410.4 249.8L413.9 248L417.4 246.3L421 244.7L424.5 243.1L428 241.6L431.5 240.1L435.1 238.7L438.6 237.3L442.1 235.9L445.6 234.6L449.2 233.3L452.7 232L456.2 230.7L459.7 229.5L463.3 228.3L466.8 227.1L470.3 225.9L473.8 224.8L477.4 223.6L480.9 222.5L484.6 222.6L481 223.7L477.5 224.9L474 226L470.5 227.2L466.9 228.4L463.4 229.7L459.9 230.9L456.4 232.2L452.8 233.5L449.3 234.8L445.8 236.2L442.3 237.6L438.7 239L435.2 240.5L431.7 242L428.2 243.6L424.6 245.2L421.1 246.9L417.6 248.7L414.1 250.5L410.5 252.4L407 254.5L403.5 256.6L400 258.8Z" fill="url(#dd13)"/><path d="M398.1 258.2L401.7 256.1L405.2 254L408.7 252L412.2 250.2L415.8 248.4L419.3 246.6L422.8 245L426.3 243.4L429.9 241.8L433.4 240.3L436.9 238.8L440.4 237.4L444 236L447.5 234.7L451 233.4L454.5 232.1L458.1 230.8L461.6 229.6L465.1 228.4L468.6 227.2L472.2 226L475.7 224.8L479.2 223.7L482.7 222.5L486.4 222.6L482.9 223.7L479.3 224.9L475.8 226.1L472.3 227.3L468.8 228.5L465.2 229.7L461.7 231L458.2 232.3L454.7 233.6L451.1 234.9L447.6 236.3L444.1 237.7L440.6 239.2L437 240.7L433.5 242.2L430 243.8L426.5 245.5L422.9 247.2L419.4 249L415.9 250.9L412.4 252.9L408.8 254.9L405.3 257.1L401.8 259.3Z" fill="url(#dd14)"/><path d="M400 258.8L403.5 256.6L407 254.5L410.5 252.4L414.1 250.5L417.6 248.7L421.1 246.9L424.6 245.2L428.2 243.6L431.7 242L435.2 240.5L438.7 239L442.3 237.6L445.8 236.2L449.3 234.8L452.8 233.5L456.4 232.2L459.9 230.9L463.4 229.7L466.9 228.4L470.5 227.2L474 226L477.5 224.9L481 223.7L484.6 222.6L488.2 222.6L484.7 223.7L481.2 224.9L477.6 226.1L474.1 227.3L470.6 228.5L467.1 229.8L463.5 231.1L460 232.4L456.5 233.7L453 235L449.4 236.4L445.9 237.9L442.4 239.4L438.9 240.9L435.3 242.4L431.8 244.1L428.3 245.8L424.8 247.5L421.2 249.3L417.7 251.3L414.2 253.3L410.7 255.3L407.1 257.5L403.6 259.9Z" fill="url(#dd15)"/><path d="M401.8 259.3L405.3 257.1L408.8 254.9L412.4 252.9L415.9 250.9L419.4 249L422.9 247.2L426.5 245.5L430 243.8L433.5 242.2L437 240.7L440.6 239.2L444.1 237.7L447.6 236.3L451.1 234.9L454.7 233.6L458.2 232.3L461.7 231L465.2 229.7L468.8 228.5L472.3 227.3L475.8 226.1L479.3 224.9L482.9 223.7L486.4 222.6L490.1 222.6L486.5 223.8L483 224.9L479.5 226.1L476 227.4L472.4 228.6L468.9 229.8L465.4 231.1L461.9 232.4L458.3 233.8L454.8 235.2L451.3 236.6L447.8 238L444.2 239.5L440.7 241.1L437.2 242.7L433.6 244.3L430.1 246L426.6 247.8L423.1 249.7L419.6 251.6L416 253.7L412.5 255.8L409 258L405.4 260.4Z" fill="url(#dd16)"/><path d="M403.6 259.9L407.1 257.5L410.7 255.3L414.2 253.3L417.7 251.3L421.2 249.3L424.8 247.5L428.3 245.8L431.8 244.1L435.3 242.4L438.9 240.9L442.4 239.4L445.9 237.9L449.4 236.4L453 235L456.5 233.7L460 232.4L463.5 231.1L467.1 229.8L470.6 228.5L474.1 227.3L477.6 226.1L481.2 224.9L484.7 223.7L488.2 222.6L491.9 222.6L488.4 223.8L484.8 225L481.3 226.2L477.8 227.4L474.3 228.6L470.7 229.9L467.2 231.2L463.7 232.5L460.2 233.9L456.6 235.3L453.1 236.7L449.6 238.2L446.1 239.7L442.5 241.2L439 242.9L435.5 244.5L432 246.3L428.4 248.1L424.9 250L421.4 252L417.9 254.1L414.3 256.2L410.8 258.5L407.3 260.9Z" fill="url(#dd17)"/><path d="M405.4 260.4L409 258L412.5 255.8L416 253.7L419.6 251.6L423.1 249.7L426.6 247.8L430.1 246L433.6 244.3L437.2 242.7L440.7 241.1L444.2 239.5L447.8 238L451.3 236.6L454.8 235.2L458.3 233.8L461.9 232.4L465.4 231.1L468.9 229.8L472.4 228.6L476 227.4L479.5 226.1L483 224.9L486.5 223.8L490.1 222.6L493.7 222.6L490.2 223.8L486.7 225L483.1 226.2L479.6 227.4L476.1 228.7L472.6 230L469 231.3L465.5 232.6L462 234L458.5 235.4L454.9 236.8L451.4 238.3L447.9 239.8L444.4 241.4L440.8 243.1L437.3 244.8L433.8 246.5L430.3 248.4L426.7 250.3L423.2 252.3L419.7 254.4L416.2 256.7L412.6 259L409.1 261.5Z" fill="url(#dd18)"/><path d="M407.3 260.9L410.8 258.5L414.3 256.2L417.9 254.1L421.4 252L424.9 250L428.4 248.1L432 246.3L435.5 244.5L439 242.9L442.5 241.2L446.1 239.7L449.6 238.2L453.1 236.7L456.6 235.3L460.2 233.9L463.7 232.5L467.2 231.2L470.7 229.9L474.3 228.6L477.8 227.4L481.3 226.2L484.8 225L488.4 223.8L491.9 222.6L495.5 222.6L492 223.8L488.5 225L485 226.2L481.4 227.5L477.9 228.7L474.4 230L470.9 231.3L467.3 232.7L463.8 234.1L460.3 235.5L456.8 236.9L453.2 238.4L449.7 240L446.2 241.6L442.7 243.3L439.1 245L435.6 246.8L432.1 248.7L428.6 250.6L425 252.7L421.5 254.8L418 257.1L414.5 259.5L410.9 262Z" fill="url(#dd19)"/><path d="M409.1 261.5L412.6 259L416.2 256.7L419.7 254.4L423.2 252.3L426.7 250.3L430.3 248.4L433.8 246.5L437.3 244.8L440.8 243.1L444.4 241.4L447.9 239.8L451.4 238.3L454.9 236.8L458.5 235.4L462 234L465.5 232.6L469 231.3L472.6 230L476.1 228.7L479.6 227.4L483.1 226.2L486.7 225L490.2 223.8L493.7 222.6L497.4 222.6L493.8 223.8L490.3 225L486.8 226.3L483.3 227.5L479.7 228.8L476.2 230.1L472.7 231.4L469.2 232.8L465.6 234.2L462.1 235.6L458.6 237.1L455.1 238.6L451.5 240.2L448 241.8L444.5 243.5L441 245.2L437.4 247L433.9 249L430.4 250.9L426.9 253L423.3 255.2L419.8 257.6L416.3 260L412.8 262.6Z" fill="url(#dd20)"/><path d="M410.9 262L414.5 259.5L418 257.1L421.5 254.8L425 252.7L428.6 250.6L432.1 248.7L435.6 246.8L439.1 245L442.7 243.3L446.2 241.6L449.7 240L453.2 238.4L456.8 236.9L460.3 235.5L463.8 234.1L467.3 232.7L470.9 231.3L474.4 230L477.9 228.7L481.4 227.5L485 226.2L488.5 225L492 223.8L495.5 222.6L499.2 222.6L495.7 223.8L492.2 225L488.6 226.3L485.1 227.5L481.6 228.8L478.1 230.1L474.5 231.5L471 232.8L467.5 234.2L464 235.7L460.4 237.2L456.9 238.7L453.4 240.3L449.9 242L446.3 243.7L442.8 245.4L439.3 247.3L435.8 249.2L432.2 251.3L428.7 253.4L425.2 255.6L421.7 258L418.1 260.5L414.6 263.1Z" fill="url(#dd21)"/><path d="M412.8 262.6L416.3 260L419.8 257.6L423.3 255.2L426.9 253L430.4 250.9L433.9 249L437.4 247L441 245.2L444.5 243.5L448 241.8L451.5 240.2L455.1 238.6L458.6 237.1L462.1 235.6L465.6 234.2L469.2 232.8L472.7 231.4L476.2 230.1L479.7 228.8L483.3 227.5L486.8 226.3L490.3 225L493.8 223.8L497.4 222.6L501 222.6L497.5 223.8L494 225.1L490.5 226.3L486.9 227.6L483.4 228.9L479.9 230.2L476.4 231.5L472.8 232.9L469.3 234.3L465.8 235.8L462.3 237.3L458.7 238.9L455.2 240.5L451.7 242.1L448.2 243.9L444.6 245.7L441.1 247.6L437.6 249.5L434.1 251.6L430.5 253.7L427 256L423.5 258.4L420 261L416.4 263.7Z" fill="url(#dd22)"/><path d="M414.6 263.1L418.1 260.5L421.7 258L425.2 255.6L428.7 253.4L432.2 251.3L435.8 249.2L439.3 247.3L442.8 245.4L446.3 243.7L449.9 242L453.4 240.3L456.9 238.7L460.4 237.2L464 235.7L467.5 234.2L471 232.8L474.5 231.5L478.1 230.1L481.6 228.8L485.1 227.5L488.6 226.3L492.2 225L495.7 223.8L499.2 222.6L502.9 222.6L499.3 223.8L495.8 225.1L492.3 226.3L488.8 227.6L485.2 228.9L481.7 230.2L478.2 231.6L474.7 233L471.1 234.4L467.6 235.9L464.1 237.4L460.6 239L457 240.6L453.5 242.3L450 244.1L446.5 245.9L442.9 247.8L439.4 249.8L435.9 251.9L432.4 254.1L428.8 256.4L425.3 258.9L421.8 261.4L418.3 264.2Z" fill="url(#dd23)"/><path d="M416.4 263.7L420 261L423.5 258.4L427 256L430.5 253.7L434.1 251.6L437.6 249.5L441.1 247.6L444.6 245.7L448.2 243.9L451.7 242.1L455.2 240.5L458.7 238.9L462.3 237.3L465.8 235.8L469.3 234.3L472.8 232.9L476.4 231.5L479.9 230.2L483.4 228.9L486.9 227.6L490.5 226.3L494 225.1L497.5 223.8L501 222.6L504.7 222.6L501.2 223.9L497.6 225.1L494.1 226.3L490.6 227.6L487.1 228.9L483.5 230.3L480 231.6L476.5 233.1L473 234.5L469.4 236L465.9 237.5L462.4 239.1L458.9 240.8L455.3 242.5L451.8 244.3L448.3 246.1L444.8 248.1L441.2 250.1L437.7 252.2L434.2 254.4L430.7 256.8L427.1 259.3L423.6 261.9L420.1 264.7Z" fill="url(#dd24)"/><path d="M418.3 264.2L421.8 261.4L425.3 258.9L428.8 256.4L432.4 254.1L435.9 251.9L439.4 249.8L442.9 247.8L446.5 245.9L450 244.1L453.5 242.3L457 240.6L460.6 239L464.1 237.4L467.6 235.9L471.1 234.4L474.7 233L478.2 231.6L481.7 230.2L485.2 228.9L488.8 227.6L492.3 226.3L495.8 225.1L499.3 223.8L502.9 222.6L506.5 222.6L503 223.9L499.5 225.1L495.9 226.4L492.4 227.6L488.9 229L485.4 230.3L481.8 231.7L478.3 233.1L474.8 234.6L471.3 236.1L467.7 237.6L464.2 239.2L460.7 240.9L457.2 242.6L453.6 244.4L450.1 246.3L446.6 248.3L443.1 250.4L439.5 252.5L436 254.8L432.5 257.2L429 259.7L425.4 262.4L421.9 265.3Z" fill="url(#dd25)"/><path d="M420.1 264.7L423.6 261.9L427.1 259.3L430.7 256.8L434.2 254.4L437.7 252.2L441.2 250.1L444.8 248.1L448.3 246.1L451.8 244.3L455.3 242.5L458.9 240.8L462.4 239.1L465.9 237.5L469.4 236L473 234.5L476.5 233.1L480 231.6L483.5 230.3L487.1 228.9L490.6 227.6L494.1 226.3L497.6 225.1L501.2 223.9L504.7 222.6L508.4 222.6L504.8 223.9L501.3 225.1L497.8 226.4L494.3 227.7L490.7 229L487.2 230.4L483.7 231.8L480.2 233.2L476.6 234.7L473.1 236.2L469.6 237.7L466.1 239.4L462.5 241.1L459 242.8L455.5 244.6L452 246.5L448.4 248.5L444.9 250.6L441.4 252.8L437.9 255.1L434.3 257.6L430.8 260.2L427.3 262.9L423.8 265.8Z" fill="url(#dd26)"/><path d="M421.9 265.3L425.4 262.4L429 259.7L432.5 257.2L436 254.8L439.5 252.5L443.1 250.4L446.6 248.3L450.1 246.3L453.6 244.4L457.2 242.6L460.7 240.9L464.2 239.2L467.7 237.6L471.3 236.1L474.8 234.6L478.3 233.1L481.8 231.7L485.4 230.3L488.9 229L492.4 227.6L495.9 226.4L499.5 225.1L503 223.9L506.5 222.6L510.2 222.6L506.7 223.9L503.1 225.1L499.6 226.4L496.1 227.7L492.6 229L489 230.4L485.5 231.8L482 233.2L478.5 234.7L474.9 236.3L471.4 237.9L467.9 239.5L464.4 241.2L460.8 243L457.3 244.8L453.8 246.8L450.3 248.8L446.7 250.9L443.2 253.1L439.7 255.5L436.2 258L432.6 260.6L429.1 263.4L425.6 266.3Z" fill="url(#dd27)"/><path d="M423.8 265.8L427.3 262.9L430.8 260.2L434.3 257.6L437.9 255.1L441.4 252.8L444.9 250.6L448.4 248.5L452 246.5L455.5 244.6L459 242.8L462.5 241.1L466.1 239.4L469.6 237.7L473.1 236.2L476.6 234.7L480.2 233.2L483.7 231.8L487.2 230.4L490.7 229L494.3 227.7L497.8 226.4L501.3 225.1L504.8 223.9L508.4 222.6L512 222.6L508.5 223.8L505 225.1L501.4 226.4L497.9 227.7L494.4 229.1L490.9 230.4L487.3 231.9L483.8 233.3L480.3 234.8L476.8 236.4L473.2 238L469.7 239.6L466.2 241.4L462.7 243.1L459.1 245L455.6 247L452.1 249L448.6 251.2L445 253.4L441.5 255.8L438 258.4L434.5 261L430.9 263.9L427.4 266.9Z" fill="url(#dd28)"/><path d="M425.6 266.3L429.1 263.4L432.6 260.6L436.2 258L439.7 255.5L443.2 253.1L446.7 250.9L450.3 248.8L453.8 246.8L457.3 244.8L460.8 243L464.4 241.2L467.9 239.5L471.4 237.9L474.9 236.3L478.5 234.7L482 233.2L485.5 231.8L489 230.4L492.6 229L496.1 227.7L499.6 226.4L503.1 225.1L506.7 223.9L510.2 222.6L513.8 222.6L510.3 223.8L506.8 225.1L503.3 226.4L499.7 227.7L496.2 229.1L492.7 230.5L489.2 231.9L485.6 233.4L482.1 234.9L478.6 236.5L475.1 238.1L471.5 239.8L468 241.5L464.5 243.3L461 245.2L457.4 247.2L453.9 249.3L450.4 251.5L446.9 253.8L443.3 256.2L439.8 258.7L436.3 261.5L432.8 264.3L429.2 267.4Z" fill="url(#dd29)"/><path d="M427.4 266.9L430.9 263.9L434.5 261L438 258.4L441.5 255.8L445 253.4L448.6 251.2L452.1 249L455.6 247L459.1 245L462.7 243.1L466.2 241.4L469.7 239.6L473.2 238L476.8 236.4L480.3 234.8L483.8 233.3L487.3 231.9L490.9 230.4L494.4 229.1L497.9 227.7L501.4 226.4L505 225.1L508.5 223.8L512 222.6L515.7 222.6L512.2 223.8L508.6 225.1L505.1 226.4L501.6 227.8L498.1 229.1L494.5 230.5L491 232L487.5 233.4L484 235L480.4 236.5L476.9 238.2L473.4 239.9L469.9 241.6L466.3 243.5L462.8 245.4L459.3 247.4L455.8 249.5L452.2 251.7L448.7 254.1L445.2 256.5L441.7 259.1L438.1 261.9L434.6 264.8L431.1 267.9Z" fill="url(#dd30)"/><path d="M429.2 267.4L432.8 264.3L436.3 261.5L439.8 258.7L443.3 256.2L446.9 253.8L450.4 251.5L453.9 249.3L457.4 247.2L461 245.2L464.5 243.3L468 241.5L471.5 239.8L475.1 238.1L478.6 236.5L482.1 234.9L485.6 233.4L489.2 231.9L492.7 230.5L496.2 229.1L499.7 227.7L503.3 226.4L506.8 225.1L510.3 223.8L513.8 222.6L517.5 222.6L514 223.8L510.5 225.1L506.9 226.4L503.4 227.8L499.9 229.1L496.4 230.6L492.8 232L489.3 233.5L485.8 235L482.3 236.6L478.7 238.3L475.2 240L471.7 241.8L468.2 243.6L464.6 245.6L461.1 247.6L457.6 249.8L454.1 252L450.5 254.4L447 256.9L443.5 259.5L440 262.3L436.4 265.3L432.9 268.5Z" fill="url(#dd31)"/><path d="M431.1 267.9L434.6 264.8L438.1 261.9L441.7 259.1L445.2 256.5L448.7 254.1L452.2 251.7L455.8 249.5L459.3 247.4L462.8 245.4L466.3 243.5L469.9 241.6L473.4 239.9L476.9 238.2L480.4 236.5L484 235L487.5 233.4L491 232L494.5 230.5L498.1 229.1L501.6 227.8L505.1 226.4L508.6 225.1L512.2 223.8L515.7 222.6L519.3 222.6L515.8 223.8L512.3 225.1L508.8 226.4L505.2 227.8L501.7 229.2L498.2 230.6L494.7 232L491.1 233.6L487.6 235.1L484.1 236.7L480.6 238.4L477 240.1L473.5 241.9L470 243.8L466.5 245.8L462.9 247.8L459.4 250L455.9 252.3L452.4 254.7L448.8 257.2L445.3 259.9L441.8 262.7L438.3 265.8L434.7 269Z" fill="url(#dd32)"/><path d="M432.9 268.5L436.4 265.3L440 262.3L443.5 259.5L447 256.9L450.5 254.4L454.1 252L457.6 249.8L461.1 247.6L464.6 245.6L468.2 243.6L471.7 241.8L475.2 240L478.7 238.3L482.3 236.6L485.8 235L489.3 233.5L492.8 232L496.4 230.6L499.9 229.1L503.4 227.8L506.9 226.4L510.5 225.1L514 223.8L517.5 222.6L521.2 222.5L517.6 223.8L514.1 225.1L510.6 226.4L507.1 227.8L503.5 229.2L500 230.6L496.5 232.1L493 233.6L489.4 235.2L485.9 236.8L482.4 238.5L478.9 240.2L475.3 242.1L471.8 244L468.3 246L464.8 248L461.2 250.2L457.7 252.5L454.2 255L450.7 257.6L447.1 260.3L443.6 263.2L440.1 266.3L436.6 269.5Z" fill="url(#dd33)"/><path d="M434.7 269L438.3 265.8L441.8 262.7L445.3 259.9L448.8 257.2L452.4 254.7L455.9 252.3L459.4 250L462.9 247.8L466.5 245.8L470 243.8L473.5 241.9L477 240.1L480.6 238.4L484.1 236.7L487.6 235.1L491.1 233.6L494.7 232L498.2 230.6L501.7 229.2L505.2 227.8L508.8 226.4L512.3 225.1L515.8 223.8L519.3 222.6L523 222.5L519.5 223.8L516 225.1L512.4 226.4L508.9 227.8L505.4 229.2L501.9 230.7L498.3 232.1L494.8 233.7L491.3 235.2L487.8 236.9L484.2 238.6L480.7 240.4L477.2 242.2L473.6 244.1L470.1 246.1L466.6 248.3L463.1 250.5L459.5 252.8L456 255.3L452.5 257.9L449 260.7L445.4 263.6L441.9 266.7L438.4 270.1Z" fill="url(#dd34)"/><path d="M436.6 269.5L440.1 266.3L443.6 263.2L447.1 260.3L450.7 257.6L454.2 255L457.7 252.5L461.2 250.2L464.8 248L468.3 246L471.8 244L475.3 242.1L478.9 240.2L482.4 238.5L485.9 236.8L489.4 235.2L493 233.6L496.5 232.1L500 230.6L503.5 229.2L507.1 227.8L510.6 226.4L514.1 225.1L517.6 223.8L521.2 222.5L523 222.5L519.5 223.8L516 225.1L512.4 226.4L508.9 227.8L505.4 229.2L501.9 230.7L498.3 232.1L494.8 233.7L491.3 235.2L487.8 236.9L484.2 238.6L480.7 240.4L477.2 242.2L473.6 244.1L470.1 246.1L466.6 248.3L463.1 250.5L459.5 252.8L456 255.3L452.5 257.9L449 260.7L445.4 263.6L441.9 266.7L438.4 270.1Z" fill="url(#dd35)"/></g>
<defs><linearGradient id="dn0" gradientUnits="userSpaceOnUse" x1="373.4" y1="242.9" x2="458" y2="199.7"><stop offset="0.000" stop-color="#001cff"/><stop offset="0.047" stop-color="#003dff"/><stop offset="0.093" stop-color="#005cff"/><stop offset="0.138" stop-color="#0078ff"/><stop offset="0.183" stop-color="#0092ff"/><stop offset="0.227" stop-color="#00a9ff"/><stop offset="0.271" stop-color="#00beff"/><stop offset="0.314" stop-color="#00d2ff"/><stop offset="0.357" stop-color="#00e3ff"/><stop offset="0.399" stop-color="#00f3ff"/><stop offset="0.441" stop-color="#03fffc"/><stop offset="0.482" stop-color="#10ffef"/><stop offset="0.523" stop-color="#1cffe3"/><stop offset="0.564" stop-color="#27ffd8"/><stop offset="0.605" stop-color="#32ffcd"/><stop offset="0.645" stop-color="#3bffc4"/><stop offset="0.685" stop-color="#43ffbc"/><stop offset="0.725" stop-color="#4bffb4"/><stop offset="0.765" stop-color="#52ffad"/><stop offset="0.804" stop-color="#58ffa7"/><stop offset="0.844" stop-color="#5effa1"/><stop offset="0.883" stop-color="#63ff9c"/><stop offset="0.922" stop-color="#68ff97"/><stop offset="0.961" stop-color="#6dff92"/><stop offset="1.000" stop-color="#71ff8e"/></linearGradient><linearGradient id="dn1" gradientUnits="userSpaceOnUse" x1="375.2" y1="243.5" x2="459.8" y2="200"><stop offset="0.000" stop-color="#0020ff"/><stop offset="0.047" stop-color="#0042ff"/><stop offset="0.093" stop-color="#0062ff"/><stop offset="0.139" stop-color="#007eff"/><stop offset="0.184" stop-color="#0098ff"/><stop offset="0.228" stop-color="#00b0ff"/><stop offset="0.271" stop-color="#00c6ff"/><stop offset="0.315" stop-color="#00daff"/><stop offset="0.357" stop-color="#00ecff"/><stop offset="0.399" stop-color="#00fcff"/><stop offset="0.441" stop-color="#0cfff3"/><stop offset="0.483" stop-color="#1affe5"/><stop offset="0.524" stop-color="#26ffd9"/><stop offset="0.565" stop-color="#31ffce"/><stop offset="0.605" stop-color="#3cffc3"/><stop offset="0.645" stop-color="#45ffba"/><stop offset="0.685" stop-color="#4effb1"/><stop offset="0.725" stop-color="#56ffa9"/><stop offset="0.765" stop-color="#5dffa2"/><stop offset="0.805" stop-color="#63ff9c"/><stop offset="0.844" stop-color="#69ff96"/><stop offset="0.883" stop-color="#6fff90"/><stop offset="0.922" stop-color="#74ff8b"/><stop offset="0.961" stop-color="#78ff87"/><stop offset="1.000" stop-color="#7cff83"/></linearGradient><linearGradient id="dn2" gradientUnits="userSpaceOnUse" x1="377.1" y1="244.2" x2="461.7" y2="200.2"><stop offset="0.000" stop-color="#0025ff"/><stop offset="0.047" stop-color="#0048ff"/><stop offset="0.094" stop-color="#0068ff"/><stop offset="0.139" stop-color="#0085ff"/><stop offset="0.184" stop-color="#00a0ff"/><stop offset="0.228" stop-color="#00b8ff"/><stop offset="0.272" stop-color="#00ceff"/><stop offset="0.315" stop-color="#00e2ff"/><stop offset="0.358" stop-color="#00f5ff"/><stop offset="0.400" stop-color="#07fff8"/><stop offset="0.442" stop-color="#16ffe9"/><stop offset="0.483" stop-color="#24ffdb"/><stop offset="0.524" stop-color="#31ffce"/><stop offset="0.565" stop-color="#3cffc3"/><stop offset="0.606" stop-color="#47ffb8"/><stop offset="0.646" stop-color="#50ffaf"/><stop offset="0.686" stop-color="#59ffa6"/><stop offset="0.726" stop-color="#61ff9e"/><stop offset="0.765" stop-color="#68ff97"/><stop offset="0.805" stop-color="#6fff90"/><stop offset="0.844" stop-color="#75ff8a"/><stop offset="0.883" stop-color="#7bff84"/><stop offset="0.922" stop-color="#80ff7f"/><stop offset="0.961" stop-color="#84ff7b"/><stop offset="1.000" stop-color="#88ff77"/></linearGradient><linearGradient id="dn3" gradientUnits="userSpaceOnUse" x1="378.9" y1="244.8" x2="463.5" y2="200.3"><stop offset="0.000" stop-color="#0029ff"/><stop offset="0.047" stop-color="#004dff"/><stop offset="0.094" stop-color="#006eff"/><stop offset="0.140" stop-color="#008cff"/><stop offset="0.185" stop-color="#00a7ff"/><stop offset="0.229" stop-color="#00c0ff"/><stop offset="0.273" stop-color="#00d7ff"/><stop offset="0.316" stop-color="#00ecff"/><stop offset="0.359" stop-color="#00feff"/><stop offset="0.401" stop-color="#11ffee"/><stop offset="0.443" stop-color="#20ffdf"/><stop offset="0.484" stop-color="#2effd1"/><stop offset="0.525" stop-color="#3bffc4"/><stop offset="0.566" stop-color="#47ffb8"/><stop offset="0.606" stop-color="#52ffad"/><stop offset="0.647" stop-color="#5cffa3"/><stop offset="0.687" stop-color="#65ff9a"/><stop offset="0.726" stop-color="#6dff92"/><stop offset="0.766" stop-color="#75ff8a"/><stop offset="0.805" stop-color="#7bff84"/><stop offset="0.845" stop-color="#82ff7d"/><stop offset="0.884" stop-color="#87ff78"/><stop offset="0.923" stop-color="#8cff73"/><stop offset="0.961" stop-color="#91ff6e"/><stop offset="1.000" stop-color="#95ff6a"/></linearGradient><linearGradient id="dn4" gradientUnits="userSpaceOnUse" x1="380.7" y1="245.4" x2="465.3" y2="200.5"><stop offset="0.000" stop-color="#002eff"/><stop offset="0.048" stop-color="#0053ff"/><stop offset="0.094" stop-color="#0075ff"/><stop offset="0.140" stop-color="#0093ff"/><stop offset="0.185" stop-color="#00afff"/><stop offset="0.230" stop-color="#00c9ff"/><stop offset="0.273" stop-color="#00e0ff"/><stop offset="0.317" stop-color="#00f5ff"/><stop offset="0.359" stop-color="#09fff6"/><stop offset="0.402" stop-color="#1bffe4"/><stop offset="0.443" stop-color="#2bffd4"/><stop offset="0.485" stop-color="#39ffc6"/><stop offset="0.526" stop-color="#47ffb8"/><stop offset="0.567" stop-color="#53ffac"/><stop offset="0.607" stop-color="#5effa1"/><stop offset="0.647" stop-color="#68ff97"/><stop offset="0.687" stop-color="#71ff8e"/><stop offset="0.727" stop-color="#7aff85"/><stop offset="0.766" stop-color="#81ff7e"/><stop offset="0.806" stop-color="#88ff77"/><stop offset="0.845" stop-color="#8eff71"/><stop offset="0.884" stop-color="#94ff6b"/><stop offset="0.923" stop-color="#9aff65"/><stop offset="0.961" stop-color="#9eff61"/><stop offset="1.000" stop-color="#a3ff5c"/></linearGradient><linearGradient id="dn5" gradientUnits="userSpaceOnUse" x1="382.6" y1="246.1" x2="467.2" y2="200.6"><stop offset="0.000" stop-color="#0033ff"/><stop offset="0.048" stop-color="#0059ff"/><stop offset="0.095" stop-color="#007bff"/><stop offset="0.141" stop-color="#009bff"/><stop offset="0.186" stop-color="#00b7ff"/><stop offset="0.230" stop-color="#00d1ff"/><stop offset="0.274" stop-color="#00e9ff"/><stop offset="0.317" stop-color="#00ffff"/><stop offset="0.360" stop-color="#13ffec"/><stop offset="0.402" stop-color="#25ffda"/><stop offset="0.444" stop-color="#36ffc9"/><stop offset="0.486" stop-color="#45ffba"/><stop offset="0.527" stop-color="#52ffad"/><stop offset="0.567" stop-color="#5fffa0"/><stop offset="0.608" stop-color="#6aff95"/><stop offset="0.648" stop-color="#74ff8b"/><stop offset="0.688" stop-color="#7eff81"/><stop offset="0.727" stop-color="#86ff79"/><stop offset="0.767" stop-color="#8eff71"/><stop offset="0.806" stop-color="#95ff6a"/><stop offset="0.845" stop-color="#9cff63"/><stop offset="0.884" stop-color="#a2ff5d"/><stop offset="0.923" stop-color="#a7ff58"/><stop offset="0.961" stop-color="#acff53"/><stop offset="1.000" stop-color="#b0ff4f"/></linearGradient><linearGradient id="dn6" gradientUnits="userSpaceOnUse" x1="384.4" y1="246.7" x2="469" y2="200.8"><stop offset="0.000" stop-color="#0038ff"/><stop offset="0.048" stop-color="#005fff"/><stop offset="0.095" stop-color="#0082ff"/><stop offset="0.141" stop-color="#00a2ff"/><stop offset="0.186" stop-color="#00bfff"/><stop offset="0.231" stop-color="#00daff"/><stop offset="0.275" stop-color="#00f2ff"/><stop offset="0.318" stop-color="#09fff6"/><stop offset="0.361" stop-color="#1dffe2"/><stop offset="0.403" stop-color="#30ffcf"/><stop offset="0.445" stop-color="#41ffbe"/><stop offset="0.486" stop-color="#50ffaf"/><stop offset="0.527" stop-color="#5effa1"/><stop offset="0.568" stop-color="#6bff94"/><stop offset="0.608" stop-color="#76ff89"/><stop offset="0.649" stop-color="#81ff7e"/><stop offset="0.688" stop-color="#8aff75"/><stop offset="0.728" stop-color="#93ff6c"/><stop offset="0.767" stop-color="#9bff64"/><stop offset="0.807" stop-color="#a2ff5d"/><stop offset="0.846" stop-color="#a9ff56"/><stop offset="0.884" stop-color="#afff50"/><stop offset="0.923" stop-color="#b5ff4a"/><stop offset="0.962" stop-color="#baff45"/><stop offset="1.000" stop-color="#beff41"/></linearGradient><linearGradient id="dn7" gradientUnits="userSpaceOnUse" x1="386.2" y1="247.3" x2="470.8" y2="200.9"><stop offset="0.000" stop-color="#003dff"/><stop offset="0.048" stop-color="#0065ff"/><stop offset="0.095" stop-color="#0089ff"/><stop offset="0.141" stop-color="#00aaff"/><stop offset="0.187" stop-color="#00c8ff"/><stop offset="0.231" stop-color="#00e3ff"/><stop offset="0.275" stop-color="#00fcff"/><stop offset="0.319" stop-color="#13ffec"/><stop offset="0.362" stop-color="#28ffd7"/><stop offset="0.404" stop-color="#3bffc4"/><stop offset="0.446" stop-color="#4cffb3"/><stop offset="0.487" stop-color="#5bffa4"/><stop offset="0.528" stop-color="#6aff95"/><stop offset="0.569" stop-color="#77ff88"/><stop offset="0.609" stop-color="#83ff7c"/><stop offset="0.649" stop-color="#8dff72"/><stop offset="0.689" stop-color="#97ff68"/><stop offset="0.729" stop-color="#a0ff5f"/><stop offset="0.768" stop-color="#a8ff57"/><stop offset="0.807" stop-color="#b0ff4f"/><stop offset="0.846" stop-color="#b7ff48"/><stop offset="0.885" stop-color="#bdff42"/><stop offset="0.923" stop-color="#c2ff3d"/><stop offset="0.962" stop-color="#c8ff37"/><stop offset="1.000" stop-color="#ccff33"/></linearGradient><linearGradient id="dn8" gradientUnits="userSpaceOnUse" x1="388.1" y1="247.9" x2="472.7" y2="201"><stop offset="0.000" stop-color="#0043ff"/><stop offset="0.048" stop-color="#006bff"/><stop offset="0.096" stop-color="#0090ff"/><stop offset="0.142" stop-color="#00b1ff"/><stop offset="0.187" stop-color="#00d0ff"/><stop offset="0.232" stop-color="#00ecff"/><stop offset="0.276" stop-color="#06fff9"/><stop offset="0.320" stop-color="#1dffe2"/><stop offset="0.362" stop-color="#32ffcd"/><stop offset="0.405" stop-color="#46ffb9"/><stop offset="0.447" stop-color="#57ffa8"/><stop offset="0.488" stop-color="#67ff98"/><stop offset="0.529" stop-color="#76ff89"/><stop offset="0.570" stop-color="#83ff7c"/><stop offset="0.610" stop-color="#8fff70"/><stop offset="0.650" stop-color="#9aff65"/><stop offset="0.690" stop-color="#a4ff5b"/><stop offset="0.729" stop-color="#adff52"/><stop offset="0.768" stop-color="#b6ff49"/><stop offset="0.807" stop-color="#bdff42"/><stop offset="0.846" stop-color="#c4ff3b"/><stop offset="0.885" stop-color="#cbff34"/><stop offset="0.923" stop-color="#d0ff2f"/><stop offset="0.962" stop-color="#d6ff29"/><stop offset="1.000" stop-color="#dbff24"/></linearGradient><linearGradient id="dn9" gradientUnits="userSpaceOnUse" x1="389.9" y1="248.5" x2="474.5" y2="201.1"><stop offset="0.000" stop-color="#0048ff"/><stop offset="0.048" stop-color="#0071ff"/><stop offset="0.096" stop-color="#0097ff"/><stop offset="0.142" stop-color="#00b9ff"/><stop offset="0.188" stop-color="#00d8ff"/><stop offset="0.233" stop-color="#00f5ff"/><stop offset="0.277" stop-color="#10ffef"/><stop offset="0.320" stop-color="#27ffd8"/><stop offset="0.363" stop-color="#3dffc2"/><stop offset="0.406" stop-color="#51ffae"/><stop offset="0.447" stop-color="#63ff9c"/><stop offset="0.489" stop-color="#73ff8c"/><stop offset="0.530" stop-color="#82ff7d"/><stop offset="0.570" stop-color="#90ff6f"/><stop offset="0.611" stop-color="#9cff63"/><stop offset="0.651" stop-color="#a7ff58"/><stop offset="0.690" stop-color="#b1ff4e"/><stop offset="0.730" stop-color="#bbff44"/><stop offset="0.769" stop-color="#c3ff3c"/><stop offset="0.808" stop-color="#cbff34"/><stop offset="0.847" stop-color="#d2ff2d"/><stop offset="0.885" stop-color="#d9ff26"/><stop offset="0.924" stop-color="#dfff20"/><stop offset="0.962" stop-color="#e4ff1b"/><stop offset="1.000" stop-color="#e9ff16"/></linearGradient><linearGradient id="dn10" gradientUnits="userSpaceOnUse" x1="391.7" y1="249.1" x2="476.3" y2="201.1"><stop offset="0.000" stop-color="#004dff"/><stop offset="0.049" stop-color="#0077ff"/><stop offset="0.096" stop-color="#009eff"/><stop offset="0.143" stop-color="#00c1ff"/><stop offset="0.189" stop-color="#00e1ff"/><stop offset="0.234" stop-color="#00feff"/><stop offset="0.278" stop-color="#1affe5"/><stop offset="0.321" stop-color="#32ffcd"/><stop offset="0.364" stop-color="#48ffb7"/><stop offset="0.406" stop-color="#5cffa3"/><stop offset="0.448" stop-color="#6eff91"/><stop offset="0.490" stop-color="#7fff80"/><stop offset="0.531" stop-color="#8eff71"/><stop offset="0.571" stop-color="#9cff63"/><stop offset="0.611" stop-color="#a9ff56"/><stop offset="0.651" stop-color="#b4ff4b"/><stop offset="0.691" stop-color="#bfff40"/><stop offset="0.730" stop-color="#c8ff37"/><stop offset="0.769" stop-color="#d1ff2e"/><stop offset="0.808" stop-color="#d9ff26"/><stop offset="0.847" stop-color="#e0ff1f"/><stop offset="0.885" stop-color="#e7ff18"/><stop offset="0.924" stop-color="#edff12"/><stop offset="0.962" stop-color="#f3ff0c"/><stop offset="1.000" stop-color="#f8ff07"/></linearGradient><linearGradient id="dn11" gradientUnits="userSpaceOnUse" x1="393.6" y1="249.7" x2="478.2" y2="201.2"><stop offset="0.000" stop-color="#0053ff"/><stop offset="0.049" stop-color="#007eff"/><stop offset="0.097" stop-color="#00a5ff"/><stop offset="0.143" stop-color="#00c9ff"/><stop offset="0.189" stop-color="#00eaff"/><stop offset="0.234" stop-color="#08fff7"/><stop offset="0.278" stop-color="#23ffdc"/><stop offset="0.322" stop-color="#3cffc3"/><stop offset="0.365" stop-color="#53ffac"/><stop offset="0.407" stop-color="#67ff98"/><stop offset="0.449" stop-color="#7aff85"/><stop offset="0.491" stop-color="#8bff74"/><stop offset="0.531" stop-color="#9bff64"/><stop offset="0.572" stop-color="#a9ff56"/><stop offset="0.612" stop-color="#b6ff49"/><stop offset="0.652" stop-color="#c2ff3d"/><stop offset="0.692" stop-color="#ccff33"/><stop offset="0.731" stop-color="#d6ff29"/><stop offset="0.770" stop-color="#dfff20"/><stop offset="0.809" stop-color="#e7ff18"/><stop offset="0.847" stop-color="#efff10"/><stop offset="0.886" stop-color="#f5ff0a"/><stop offset="0.924" stop-color="#fcff03"/><stop offset="0.962" stop-color="#fffd00"/><stop offset="1.000" stop-color="#fff800"/></linearGradient><linearGradient id="dn12" gradientUnits="userSpaceOnUse" x1="395.4" y1="250.3" x2="480" y2="201.3"><stop offset="0.000" stop-color="#0058ff"/><stop offset="0.049" stop-color="#0084ff"/><stop offset="0.097" stop-color="#00acff"/><stop offset="0.144" stop-color="#00d1ff"/><stop offset="0.190" stop-color="#00f2ff"/><stop offset="0.235" stop-color="#12ffed"/><stop offset="0.279" stop-color="#2dffd2"/><stop offset="0.323" stop-color="#47ffb8"/><stop offset="0.366" stop-color="#5effa1"/><stop offset="0.408" stop-color="#73ff8c"/><stop offset="0.450" stop-color="#86ff79"/><stop offset="0.491" stop-color="#97ff68"/><stop offset="0.532" stop-color="#a7ff58"/><stop offset="0.573" stop-color="#b6ff49"/><stop offset="0.613" stop-color="#c3ff3c"/><stop offset="0.653" stop-color="#cfff30"/><stop offset="0.692" stop-color="#daff25"/><stop offset="0.732" stop-color="#e4ff1b"/><stop offset="0.770" stop-color="#edff12"/><stop offset="0.809" stop-color="#f5ff0a"/><stop offset="0.848" stop-color="#fdff02"/><stop offset="0.886" stop-color="#fffa00"/><stop offset="0.924" stop-color="#fff400"/><stop offset="0.962" stop-color="#ffee00"/><stop offset="1.000" stop-color="#ffe900"/></linearGradient><linearGradient id="dn13" gradientUnits="userSpaceOnUse" x1="397.2" y1="250.9" x2="481.8" y2="201.3"><stop offset="0.000" stop-color="#005eff"/><stop offset="0.049" stop-color="#008bff"/><stop offset="0.097" stop-color="#00b4ff"/><stop offset="0.144" stop-color="#00d9ff"/><stop offset="0.190" stop-color="#00fbff"/><stop offset="0.236" stop-color="#1bffe4"/><stop offset="0.280" stop-color="#37ffc8"/><stop offset="0.324" stop-color="#51ffae"/><stop offset="0.367" stop-color="#69ff96"/><stop offset="0.409" stop-color="#7eff81"/><stop offset="0.451" stop-color="#92ff6d"/><stop offset="0.492" stop-color="#a4ff5b"/><stop offset="0.533" stop-color="#b4ff4b"/><stop offset="0.574" stop-color="#c3ff3c"/><stop offset="0.614" stop-color="#d0ff2f"/><stop offset="0.654" stop-color="#dcff23"/><stop offset="0.693" stop-color="#e8ff17"/><stop offset="0.732" stop-color="#f2ff0d"/><stop offset="0.771" stop-color="#fbff04"/><stop offset="0.810" stop-color="#fffa00"/><stop offset="0.848" stop-color="#fff300"/><stop offset="0.886" stop-color="#ffec00"/><stop offset="0.924" stop-color="#ffe500"/><stop offset="0.962" stop-color="#ffdf00"/><stop offset="1.000" stop-color="#ffda00"/></linearGradient><linearGradient id="dn14" gradientUnits="userSpaceOnUse" x1="399" y1="251.5" x2="483.6" y2="201.4"><stop offset="0.000" stop-color="#0063ff"/><stop offset="0.049" stop-color="#0091ff"/><stop offset="0.098" stop-color="#00bbff"/><stop offset="0.145" stop-color="#00e1ff"/><stop offset="0.191" stop-color="#05fffa"/><stop offset="0.236" stop-color="#25ffda"/><stop offset="0.281" stop-color="#42ffbd"/><stop offset="0.325" stop-color="#5cffa3"/><stop offset="0.368" stop-color="#74ff8b"/><stop offset="0.410" stop-color="#8aff75"/><stop offset="0.452" stop-color="#9eff61"/><stop offset="0.493" stop-color="#b0ff4f"/><stop offset="0.534" stop-color="#c1ff3e"/><stop offset="0.575" stop-color="#d0ff2f"/><stop offset="0.615" stop-color="#ddff22"/><stop offset="0.654" stop-color="#eaff15"/><stop offset="0.694" stop-color="#f5ff0a"/><stop offset="0.733" stop-color="#fffe00"/><stop offset="0.772" stop-color="#fff500"/><stop offset="0.810" stop-color="#ffec00"/><stop offset="0.848" stop-color="#ffe400"/><stop offset="0.887" stop-color="#ffdd00"/><stop offset="0.925" stop-color="#ffd600"/><stop offset="0.962" stop-color="#ffd000"/><stop offset="1.000" stop-color="#ffcb00"/></linearGradient><linearGradient id="dn15" gradientUnits="userSpaceOnUse" x1="400.9" y1="252.1" x2="485.5" y2="201.4"><stop offset="0.000" stop-color="#0069ff"/><stop offset="0.050" stop-color="#0098ff"/><stop offset="0.098" stop-color="#00c2ff"/><stop offset="0.145" stop-color="#00e9ff"/><stop offset="0.192" stop-color="#0efff1"/><stop offset="0.237" stop-color="#2effd1"/><stop offset="0.282" stop-color="#4cffb3"/><stop offset="0.325" stop-color="#67ff98"/><stop offset="0.368" stop-color="#7fff80"/><stop offset="0.411" stop-color="#95ff6a"/><stop offset="0.453" stop-color="#aaff55"/><stop offset="0.494" stop-color="#bcff43"/><stop offset="0.535" stop-color="#cdff32"/><stop offset="0.575" stop-color="#ddff22"/><stop offset="0.615" stop-color="#ebff14"/><stop offset="0.655" stop-color="#f8ff07"/><stop offset="0.694" stop-color="#fffb00"/><stop offset="0.733" stop-color="#fff000"/><stop offset="0.772" stop-color="#ffe600"/><stop offset="0.811" stop-color="#ffdd00"/><stop offset="0.849" stop-color="#ffd500"/><stop offset="0.887" stop-color="#ffce00"/><stop offset="0.925" stop-color="#ffc700"/><stop offset="0.962" stop-color="#ffc100"/><stop offset="1.000" stop-color="#ffbc00"/></linearGradient><linearGradient id="dn16" gradientUnits="userSpaceOnUse" x1="402.7" y1="252.6" x2="487.3" y2="201.5"><stop offset="0.000" stop-color="#006eff"/><stop offset="0.050" stop-color="#009eff"/><stop offset="0.098" stop-color="#00caff"/><stop offset="0.146" stop-color="#00f2ff"/><stop offset="0.192" stop-color="#17ffe8"/><stop offset="0.238" stop-color="#38ffc7"/><stop offset="0.282" stop-color="#56ffa9"/><stop offset="0.326" stop-color="#71ff8e"/><stop offset="0.369" stop-color="#8aff75"/><stop offset="0.412" stop-color="#a1ff5e"/><stop offset="0.454" stop-color="#b6ff49"/><stop offset="0.495" stop-color="#c9ff36"/><stop offset="0.536" stop-color="#daff25"/><stop offset="0.576" stop-color="#eaff15"/><stop offset="0.616" stop-color="#f8ff07"/><stop offset="0.656" stop-color="#fff900"/><stop offset="0.695" stop-color="#ffed00"/><stop offset="0.734" stop-color="#ffe200"/><stop offset="0.773" stop-color="#ffd800"/><stop offset="0.811" stop-color="#ffcf00"/><stop offset="0.849" stop-color="#ffc700"/><stop offset="0.887" stop-color="#ffbf00"/><stop offset="0.925" stop-color="#ffb800"/><stop offset="0.963" stop-color="#ffb200"/><stop offset="1.000" stop-color="#ffac00"/></linearGradient><linearGradient id="dn17" gradientUnits="userSpaceOnUse" x1="404.5" y1="253.2" x2="489.1" y2="201.5"><stop offset="0.000" stop-color="#0074ff"/><stop offset="0.050" stop-color="#00a5ff"/><stop offset="0.099" stop-color="#00d1ff"/><stop offset="0.146" stop-color="#00faff"/><stop offset="0.193" stop-color="#20ffdf"/><stop offset="0.239" stop-color="#42ffbd"/><stop offset="0.283" stop-color="#60ff9f"/><stop offset="0.327" stop-color="#7cff83"/><stop offset="0.370" stop-color="#96ff69"/><stop offset="0.413" stop-color="#adff52"/><stop offset="0.455" stop-color="#c2ff3d"/><stop offset="0.496" stop-color="#d6ff29"/><stop offset="0.537" stop-color="#e7ff18"/><stop offset="0.577" stop-color="#f7ff08"/><stop offset="0.617" stop-color="#fff800"/><stop offset="0.657" stop-color="#ffeb00"/><stop offset="0.696" stop-color="#ffdf00"/><stop offset="0.735" stop-color="#ffd300"/><stop offset="0.773" stop-color="#ffc900"/><stop offset="0.812" stop-color="#ffc000"/><stop offset="0.850" stop-color="#ffb800"/><stop offset="0.888" stop-color="#ffb000"/><stop offset="0.925" stop-color="#ffa900"/><stop offset="0.963" stop-color="#ffa300"/><stop offset="1.000" stop-color="#ff9d00"/></linearGradient><linearGradient id="dn18" gradientUnits="userSpaceOnUse" x1="406.4" y1="253.8" x2="491" y2="201.5"><stop offset="0.000" stop-color="#007aff"/><stop offset="0.050" stop-color="#00abff"/><stop offset="0.099" stop-color="#00d9ff"/><stop offset="0.147" stop-color="#03fffc"/><stop offset="0.194" stop-color="#29ffd6"/><stop offset="0.239" stop-color="#4bffb4"/><stop offset="0.284" stop-color="#6bff94"/><stop offset="0.328" stop-color="#87ff78"/><stop offset="0.371" stop-color="#a1ff5e"/><stop offset="0.414" stop-color="#b9ff46"/><stop offset="0.456" stop-color="#cfff30"/><stop offset="0.497" stop-color="#e2ff1d"/><stop offset="0.538" stop-color="#f4ff0b"/><stop offset="0.578" stop-color="#fff900"/><stop offset="0.618" stop-color="#ffea00"/><stop offset="0.657" stop-color="#ffdd00"/><stop offset="0.697" stop-color="#ffd000"/><stop offset="0.735" stop-color="#ffc500"/><stop offset="0.774" stop-color="#ffbb00"/><stop offset="0.812" stop-color="#ffb100"/><stop offset="0.850" stop-color="#ffa900"/><stop offset="0.888" stop-color="#ffa100"/><stop offset="0.925" stop-color="#ff9a00"/><stop offset="0.963" stop-color="#ff9300"/><stop offset="1.000" stop-color="#ff8d00"/></linearGradient><linearGradient id="dn19" gradientUnits="userSpaceOnUse" x1="408.2" y1="254.4" x2="492.8" y2="201.6"><stop offset="0.000" stop-color="#007fff"/><stop offset="0.050" stop-color="#00b2ff"/><stop offset="0.100" stop-color="#00e0ff"/><stop offset="0.148" stop-color="#0cfff3"/><stop offset="0.194" stop-color="#32ffcd"/><stop offset="0.240" stop-color="#55ffaa"/><stop offset="0.285" stop-color="#75ff8a"/><stop offset="0.329" stop-color="#92ff6d"/><stop offset="0.372" stop-color="#adff52"/><stop offset="0.415" stop-color="#c5ff3a"/><stop offset="0.457" stop-color="#dbff24"/><stop offset="0.498" stop-color="#efff10"/><stop offset="0.539" stop-color="#fffd00"/><stop offset="0.579" stop-color="#ffec00"/><stop offset="0.619" stop-color="#ffdd00"/><stop offset="0.658" stop-color="#ffcf00"/><stop offset="0.697" stop-color="#ffc200"/><stop offset="0.736" stop-color="#ffb700"/><stop offset="0.774" stop-color="#ffac00"/><stop offset="0.813" stop-color="#ffa300"/><stop offset="0.851" stop-color="#ff9a00"/><stop offset="0.888" stop-color="#ff9200"/><stop offset="0.926" stop-color="#ff8b00"/><stop offset="0.963" stop-color="#ff8400"/><stop offset="1.000" stop-color="#ff7e00"/></linearGradient><linearGradient id="dn20" gradientUnits="userSpaceOnUse" x1="410" y1="255" x2="494.6" y2="201.6"><stop offset="0.000" stop-color="#0085ff"/><stop offset="0.051" stop-color="#00b9ff"/><stop offset="0.100" stop-color="#00e8ff"/><stop offset="0.148" stop-color="#14ffeb"/><stop offset="0.195" stop-color="#3bffc4"/><stop offset="0.241" stop-color="#5fffa0"/><stop offset="0.286" stop-color="#7fff80"/><stop offset="0.330" stop-color="#9dff62"/><stop offset="0.373" stop-color="#b8ff47"/><stop offset="0.416" stop-color="#d1ff2e"/><stop offset="0.458" stop-color="#e7ff18"/><stop offset="0.499" stop-color="#fcff03"/><stop offset="0.540" stop-color="#ffef00"/><stop offset="0.580" stop-color="#ffde00"/><stop offset="0.620" stop-color="#ffcf00"/><stop offset="0.659" stop-color="#ffc100"/><stop offset="0.698" stop-color="#ffb400"/><stop offset="0.737" stop-color="#ffa800"/><stop offset="0.775" stop-color="#ff9d00"/><stop offset="0.813" stop-color="#ff9400"/><stop offset="0.851" stop-color="#ff8b00"/><stop offset="0.888" stop-color="#ff8300"/><stop offset="0.926" stop-color="#ff7b00"/><stop offset="0.963" stop-color="#ff7400"/><stop offset="1.000" stop-color="#ff6e00"/></linearGradient><linearGradient id="dn21" gradientUnits="userSpaceOnUse" x1="411.9" y1="255.6" x2="496.5" y2="201.6"><stop offset="0.000" stop-color="#008bff"/><stop offset="0.051" stop-color="#00c0ff"/><stop offset="0.100" stop-color="#00f0ff"/><stop offset="0.149" stop-color="#1cffe3"/><stop offset="0.196" stop-color="#44ffbb"/><stop offset="0.242" stop-color="#69ff96"/><stop offset="0.287" stop-color="#8aff75"/><stop offset="0.331" stop-color="#a8ff57"/><stop offset="0.374" stop-color="#c4ff3b"/><stop offset="0.417" stop-color="#ddff22"/><stop offset="0.458" stop-color="#f4ff0b"/><stop offset="0.500" stop-color="#fff500"/><stop offset="0.540" stop-color="#ffe200"/><stop offset="0.581" stop-color="#ffd100"/><stop offset="0.620" stop-color="#ffc100"/><stop offset="0.660" stop-color="#ffb300"/><stop offset="0.699" stop-color="#ffa500"/><stop offset="0.737" stop-color="#ff9900"/><stop offset="0.776" stop-color="#ff8f00"/><stop offset="0.814" stop-color="#ff8500"/><stop offset="0.851" stop-color="#ff7c00"/><stop offset="0.889" stop-color="#ff7300"/><stop offset="0.926" stop-color="#ff6c00"/><stop offset="0.963" stop-color="#ff6500"/><stop offset="1.000" stop-color="#ff5f00"/></linearGradient><linearGradient id="dn22" gradientUnits="userSpaceOnUse" x1="413.7" y1="256.1" x2="498.3" y2="201.6"><stop offset="0.000" stop-color="#0091ff"/><stop offset="0.051" stop-color="#00c6ff"/><stop offset="0.101" stop-color="#00f7ff"/><stop offset="0.149" stop-color="#25ffda"/><stop offset="0.196" stop-color="#4effb1"/><stop offset="0.242" stop-color="#73ff8c"/><stop offset="0.287" stop-color="#95ff6a"/><stop offset="0.332" stop-color="#b3ff4c"/><stop offset="0.375" stop-color="#cfff30"/><stop offset="0.418" stop-color="#e9ff16"/><stop offset="0.459" stop-color="#fffe00"/><stop offset="0.501" stop-color="#ffe800"/><stop offset="0.541" stop-color="#ffd500"/><stop offset="0.582" stop-color="#ffc300"/><stop offset="0.621" stop-color="#ffb300"/><stop offset="0.661" stop-color="#ffa400"/><stop offset="0.699" stop-color="#ff9700"/><stop offset="0.738" stop-color="#ff8b00"/><stop offset="0.776" stop-color="#ff8000"/><stop offset="0.814" stop-color="#ff7600"/><stop offset="0.852" stop-color="#ff6c00"/><stop offset="0.889" stop-color="#ff6400"/><stop offset="0.926" stop-color="#ff5c00"/><stop offset="0.963" stop-color="#ff5500"/><stop offset="1.000" stop-color="#ff4f00"/></linearGradient><linearGradient id="dn23" gradientUnits="userSpaceOnUse" x1="415.5" y1="256.7" x2="500.1" y2="201.6"><stop offset="0.000" stop-color="#0096ff"/><stop offset="0.051" stop-color="#00cdff"/><stop offset="0.101" stop-color="#00ffff"/><stop offset="0.150" stop-color="#2effd1"/><stop offset="0.197" stop-color="#57ffa8"/><stop offset="0.243" stop-color="#7dff82"/><stop offset="0.288" stop-color="#9fff60"/><stop offset="0.333" stop-color="#bfff40"/><stop offset="0.376" stop-color="#dbff24"/><stop offset="0.419" stop-color="#f5ff0a"/><stop offset="0.460" stop-color="#fff100"/><stop offset="0.502" stop-color="#ffdb00"/><stop offset="0.542" stop-color="#ffc800"/><stop offset="0.583" stop-color="#ffb600"/><stop offset="0.622" stop-color="#ffa500"/><stop offset="0.661" stop-color="#ff9600"/><stop offset="0.700" stop-color="#ff8900"/><stop offset="0.739" stop-color="#ff7c00"/><stop offset="0.777" stop-color="#ff7100"/><stop offset="0.815" stop-color="#ff6600"/><stop offset="0.852" stop-color="#ff5d00"/><stop offset="0.889" stop-color="#ff5400"/><stop offset="0.927" stop-color="#ff4d00"/><stop offset="0.963" stop-color="#ff4500"/><stop offset="1.000" stop-color="#ff3f00"/></linearGradient><linearGradient id="dn24" gradientUnits="userSpaceOnUse" x1="417.3" y1="257.3" x2="501.9" y2="201.6"><stop offset="0.000" stop-color="#009cff"/><stop offset="0.052" stop-color="#00d4ff"/><stop offset="0.102" stop-color="#08fff7"/><stop offset="0.150" stop-color="#36ffc9"/><stop offset="0.198" stop-color="#60ff9f"/><stop offset="0.244" stop-color="#87ff78"/><stop offset="0.289" stop-color="#aaff55"/><stop offset="0.333" stop-color="#caff35"/><stop offset="0.377" stop-color="#e7ff18"/><stop offset="0.419" stop-color="#fffd00"/><stop offset="0.461" stop-color="#ffe400"/><stop offset="0.503" stop-color="#ffce00"/><stop offset="0.543" stop-color="#ffba00"/><stop offset="0.583" stop-color="#ffa800"/><stop offset="0.623" stop-color="#ff9700"/><stop offset="0.662" stop-color="#ff8800"/><stop offset="0.701" stop-color="#ff7a00"/><stop offset="0.739" stop-color="#ff6d00"/><stop offset="0.777" stop-color="#ff6200"/><stop offset="0.815" stop-color="#ff5700"/><stop offset="0.853" stop-color="#ff4e00"/><stop offset="0.890" stop-color="#ff4500"/><stop offset="0.927" stop-color="#ff3d00"/><stop offset="0.963" stop-color="#ff3600"/><stop offset="1.000" stop-color="#ff2f00"/></linearGradient><linearGradient id="dn25" gradientUnits="userSpaceOnUse" x1="419.2" y1="257.8" x2="503.8" y2="201.6"><stop offset="0.000" stop-color="#00a2ff"/><stop offset="0.052" stop-color="#00dbff"/><stop offset="0.102" stop-color="#10ffef"/><stop offset="0.151" stop-color="#3fffc0"/><stop offset="0.198" stop-color="#6aff95"/><stop offset="0.245" stop-color="#91ff6e"/><stop offset="0.290" stop-color="#b5ff4a"/><stop offset="0.334" stop-color="#d5ff2a"/><stop offset="0.378" stop-color="#f3ff0c"/><stop offset="0.420" stop-color="#fff000"/><stop offset="0.462" stop-color="#ffd800"/><stop offset="0.504" stop-color="#ffc100"/><stop offset="0.544" stop-color="#ffad00"/><stop offset="0.584" stop-color="#ff9a00"/><stop offset="0.624" stop-color="#ff8900"/><stop offset="0.663" stop-color="#ff7900"/><stop offset="0.702" stop-color="#ff6b00"/><stop offset="0.740" stop-color="#ff5e00"/><stop offset="0.778" stop-color="#ff5300"/><stop offset="0.816" stop-color="#ff4800"/><stop offset="0.853" stop-color="#ff3e00"/><stop offset="0.890" stop-color="#ff3500"/><stop offset="0.927" stop-color="#ff2d00"/><stop offset="0.964" stop-color="#ff2600"/><stop offset="1.000" stop-color="#ff1f00"/></linearGradient><linearGradient id="dn26" gradientUnits="userSpaceOnUse" x1="421" y1="258.4" x2="505.6" y2="201.6"><stop offset="0.000" stop-color="#00a8ff"/><stop offset="0.052" stop-color="#00e2ff"/><stop offset="0.102" stop-color="#17ffe8"/><stop offset="0.151" stop-color="#47ffb8"/><stop offset="0.199" stop-color="#73ff8c"/><stop offset="0.245" stop-color="#9bff64"/><stop offset="0.291" stop-color="#bfff40"/><stop offset="0.335" stop-color="#e0ff1f"/><stop offset="0.379" stop-color="#ffff00"/><stop offset="0.421" stop-color="#ffe400"/><stop offset="0.463" stop-color="#ffcb00"/><stop offset="0.505" stop-color="#ffb400"/><stop offset="0.545" stop-color="#ff9f00"/><stop offset="0.585" stop-color="#ff8c00"/><stop offset="0.625" stop-color="#ff7b00"/><stop offset="0.664" stop-color="#ff6b00"/><stop offset="0.703" stop-color="#ff5d00"/><stop offset="0.741" stop-color="#ff4f00"/><stop offset="0.779" stop-color="#ff4400"/><stop offset="0.816" stop-color="#ff3900"/><stop offset="0.853" stop-color="#ff2f00"/><stop offset="0.890" stop-color="#ff2600"/><stop offset="0.927" stop-color="#ff1d00"/><stop offset="0.964" stop-color="#ff1600"/><stop offset="1.000" stop-color="#ff0f00"/></linearGradient><linearGradient id="dn27" gradientUnits="userSpaceOnUse" x1="422.8" y1="259" x2="507.4" y2="201.6"><stop offset="0.000" stop-color="#00aeff"/><stop offset="0.052" stop-color="#00e9ff"/><stop offset="0.103" stop-color="#1fffe0"/><stop offset="0.152" stop-color="#50ffaf"/><stop offset="0.200" stop-color="#7dff82"/><stop offset="0.246" stop-color="#a5ff5a"/><stop offset="0.292" stop-color="#caff35"/><stop offset="0.336" stop-color="#ecff13"/><stop offset="0.380" stop-color="#fff400"/><stop offset="0.422" stop-color="#ffd800"/><stop offset="0.464" stop-color="#ffbe00"/><stop offset="0.506" stop-color="#ffa700"/><stop offset="0.546" stop-color="#ff9200"/><stop offset="0.586" stop-color="#ff7e00"/><stop offset="0.626" stop-color="#ff6d00"/><stop offset="0.665" stop-color="#ff5c00"/><stop offset="0.703" stop-color="#ff4e00"/><stop offset="0.741" stop-color="#ff4100"/><stop offset="0.779" stop-color="#ff3400"/><stop offset="0.817" stop-color="#ff2900"/><stop offset="0.854" stop-color="#ff1f00"/><stop offset="0.891" stop-color="#ff1600"/><stop offset="0.927" stop-color="#ff0e00"/><stop offset="0.964" stop-color="#ff0600"/><stop offset="1.000" stop-color="#fe0000"/></linearGradient><linearGradient id="dn28" gradientUnits="userSpaceOnUse" x1="424.7" y1="259.6" x2="509.3" y2="201.6"><stop offset="0.000" stop-color="#00b4ff"/><stop offset="0.052" stop-color="#00f0ff"/><stop offset="0.103" stop-color="#27ffd8"/><stop offset="0.152" stop-color="#59ffa6"/><stop offset="0.200" stop-color="#86ff79"/><stop offset="0.247" stop-color="#afff50"/><stop offset="0.293" stop-color="#d5ff2a"/><stop offset="0.337" stop-color="#f7ff08"/><stop offset="0.381" stop-color="#ffe800"/><stop offset="0.423" stop-color="#ffcb00"/><stop offset="0.465" stop-color="#ffb100"/><stop offset="0.507" stop-color="#ff9900"/><stop offset="0.547" stop-color="#ff8400"/><stop offset="0.587" stop-color="#ff7000"/><stop offset="0.627" stop-color="#ff5e00"/><stop offset="0.666" stop-color="#ff4e00"/><stop offset="0.704" stop-color="#ff3f00"/><stop offset="0.742" stop-color="#ff3100"/><stop offset="0.780" stop-color="#ff2500"/><stop offset="0.817" stop-color="#ff1a00"/><stop offset="0.854" stop-color="#ff1000"/><stop offset="0.891" stop-color="#ff0600"/><stop offset="0.928" stop-color="#fd0000"/><stop offset="0.964" stop-color="#f50000"/><stop offset="1.000" stop-color="#ee0000"/></linearGradient><linearGradient id="dn29" gradientUnits="userSpaceOnUse" x1="426.5" y1="260.1" x2="511.1" y2="201.6"><stop offset="0.000" stop-color="#00baff"/><stop offset="0.053" stop-color="#00f7ff"/><stop offset="0.104" stop-color="#2fffd0"/><stop offset="0.153" stop-color="#62ff9d"/><stop offset="0.201" stop-color="#90ff6f"/><stop offset="0.248" stop-color="#baff45"/><stop offset="0.294" stop-color="#e0ff1f"/><stop offset="0.338" stop-color="#fffb00"/><stop offset="0.382" stop-color="#ffdc00"/><stop offset="0.424" stop-color="#ffbf00"/><stop offset="0.466" stop-color="#ffa400"/><stop offset="0.508" stop-color="#ff8c00"/><stop offset="0.548" stop-color="#ff7600"/><stop offset="0.588" stop-color="#ff6200"/><stop offset="0.627" stop-color="#ff5000"/><stop offset="0.666" stop-color="#ff3f00"/><stop offset="0.705" stop-color="#ff3000"/><stop offset="0.743" stop-color="#ff2200"/><stop offset="0.780" stop-color="#ff1600"/><stop offset="0.818" stop-color="#ff0a00"/><stop offset="0.855" stop-color="#ff0000"/><stop offset="0.891" stop-color="#f50000"/><stop offset="0.928" stop-color="#ed0000"/><stop offset="0.964" stop-color="#e50000"/><stop offset="1.000" stop-color="#dd0000"/></linearGradient><linearGradient id="dn30" gradientUnits="userSpaceOnUse" x1="428.3" y1="260.7" x2="512.9" y2="201.6"><stop offset="0.000" stop-color="#00c0ff"/><stop offset="0.053" stop-color="#00feff"/><stop offset="0.104" stop-color="#37ffc8"/><stop offset="0.154" stop-color="#6aff95"/><stop offset="0.202" stop-color="#99ff66"/><stop offset="0.249" stop-color="#c4ff3b"/><stop offset="0.294" stop-color="#ebff14"/><stop offset="0.339" stop-color="#fff000"/><stop offset="0.383" stop-color="#ffd000"/><stop offset="0.425" stop-color="#ffb200"/><stop offset="0.467" stop-color="#ff9700"/><stop offset="0.509" stop-color="#ff7f00"/><stop offset="0.549" stop-color="#ff6800"/><stop offset="0.589" stop-color="#ff5400"/><stop offset="0.628" stop-color="#ff4200"/><stop offset="0.667" stop-color="#ff3100"/><stop offset="0.706" stop-color="#ff2100"/><stop offset="0.744" stop-color="#ff1300"/><stop offset="0.781" stop-color="#ff0600"/><stop offset="0.818" stop-color="#fa0000"/><stop offset="0.855" stop-color="#ef0000"/><stop offset="0.892" stop-color="#e50000"/><stop offset="0.928" stop-color="#dd0000"/><stop offset="0.964" stop-color="#d50000"/><stop offset="1.000" stop-color="#cd0000"/></linearGradient><linearGradient id="dn31" gradientUnits="userSpaceOnUse" x1="430.2" y1="261.3" x2="514.8" y2="201.6"><stop offset="0.000" stop-color="#00c6ff"/><stop offset="0.053" stop-color="#06fff9"/><stop offset="0.104" stop-color="#3fffc0"/><stop offset="0.154" stop-color="#73ff8c"/><stop offset="0.203" stop-color="#a3ff5c"/><stop offset="0.250" stop-color="#ceff31"/><stop offset="0.295" stop-color="#f6ff09"/><stop offset="0.340" stop-color="#ffe400"/><stop offset="0.384" stop-color="#ffc400"/><stop offset="0.426" stop-color="#ffa600"/><stop offset="0.468" stop-color="#ff8a00"/><stop offset="0.510" stop-color="#ff7100"/><stop offset="0.550" stop-color="#ff5b00"/><stop offset="0.590" stop-color="#ff4600"/><stop offset="0.629" stop-color="#ff3300"/><stop offset="0.668" stop-color="#ff2200"/><stop offset="0.706" stop-color="#ff1200"/><stop offset="0.744" stop-color="#ff0400"/><stop offset="0.782" stop-color="#f60000"/><stop offset="0.819" stop-color="#ea0000"/><stop offset="0.856" stop-color="#df0000"/><stop offset="0.892" stop-color="#d60000"/><stop offset="0.928" stop-color="#cd0000"/><stop offset="0.964" stop-color="#c40000"/><stop offset="1.000" stop-color="#bd0000"/></linearGradient><linearGradient id="dn32" gradientUnits="userSpaceOnUse" x1="432" y1="261.8" x2="516.6" y2="201.6"><stop offset="0.000" stop-color="#00ccff"/><stop offset="0.053" stop-color="#0dfff2"/><stop offset="0.105" stop-color="#47ffb8"/><stop offset="0.155" stop-color="#7cff83"/><stop offset="0.203" stop-color="#acff53"/><stop offset="0.250" stop-color="#d8ff27"/><stop offset="0.296" stop-color="#fffd00"/><stop offset="0.341" stop-color="#ffd900"/><stop offset="0.385" stop-color="#ffb700"/><stop offset="0.427" stop-color="#ff9900"/><stop offset="0.469" stop-color="#ff7d00"/><stop offset="0.511" stop-color="#ff6400"/><stop offset="0.551" stop-color="#ff4d00"/><stop offset="0.591" stop-color="#ff3800"/><stop offset="0.630" stop-color="#ff2500"/><stop offset="0.669" stop-color="#ff1300"/><stop offset="0.707" stop-color="#ff0300"/><stop offset="0.745" stop-color="#f40000"/><stop offset="0.782" stop-color="#e70000"/><stop offset="0.819" stop-color="#db0000"/><stop offset="0.856" stop-color="#d00000"/><stop offset="0.892" stop-color="#c60000"/><stop offset="0.929" stop-color="#bc0000"/><stop offset="0.964" stop-color="#b40000"/><stop offset="1.000" stop-color="#ac0000"/></linearGradient><linearGradient id="dn33" gradientUnits="userSpaceOnUse" x1="433.8" y1="262.4" x2="518.4" y2="201.5"><stop offset="0.000" stop-color="#00d2ff"/><stop offset="0.054" stop-color="#14ffeb"/><stop offset="0.105" stop-color="#4fffb0"/><stop offset="0.155" stop-color="#85ff7a"/><stop offset="0.204" stop-color="#b6ff49"/><stop offset="0.251" stop-color="#e3ff1c"/><stop offset="0.297" stop-color="#fff200"/><stop offset="0.342" stop-color="#ffcd00"/><stop offset="0.386" stop-color="#ffab00"/><stop offset="0.428" stop-color="#ff8c00"/><stop offset="0.470" stop-color="#ff7000"/><stop offset="0.512" stop-color="#ff5600"/><stop offset="0.552" stop-color="#ff3f00"/><stop offset="0.592" stop-color="#ff2a00"/><stop offset="0.631" stop-color="#ff1600"/><stop offset="0.670" stop-color="#ff0400"/><stop offset="0.708" stop-color="#f30000"/><stop offset="0.746" stop-color="#e50000"/><stop offset="0.783" stop-color="#d70000"/><stop offset="0.820" stop-color="#cb0000"/><stop offset="0.856" stop-color="#c00000"/><stop offset="0.893" stop-color="#b50000"/><stop offset="0.929" stop-color="#ac0000"/><stop offset="0.965" stop-color="#a40000"/><stop offset="1.000" stop-color="#9c0000"/></linearGradient><linearGradient id="dn34" gradientUnits="userSpaceOnUse" x1="435.7" y1="262.9" x2="520.3" y2="201.5"><stop offset="0.000" stop-color="#00d8ff"/><stop offset="0.054" stop-color="#1bffe4"/><stop offset="0.106" stop-color="#57ffa8"/><stop offset="0.156" stop-color="#8eff71"/><stop offset="0.205" stop-color="#c0ff3f"/><stop offset="0.252" stop-color="#edff12"/><stop offset="0.298" stop-color="#ffe700"/><stop offset="0.343" stop-color="#ffc200"/><stop offset="0.387" stop-color="#ff9f00"/><stop offset="0.430" stop-color="#ff8000"/><stop offset="0.471" stop-color="#ff6300"/><stop offset="0.513" stop-color="#ff4900"/><stop offset="0.553" stop-color="#ff3100"/><stop offset="0.593" stop-color="#ff1b00"/><stop offset="0.632" stop-color="#ff0800"/><stop offset="0.671" stop-color="#f50000"/><stop offset="0.709" stop-color="#e40000"/><stop offset="0.746" stop-color="#d50000"/><stop offset="0.784" stop-color="#c80000"/><stop offset="0.820" stop-color="#bb0000"/><stop offset="0.857" stop-color="#b00000"/><stop offset="0.893" stop-color="#a50000"/><stop offset="0.929" stop-color="#9c0000"/><stop offset="0.965" stop-color="#930000"/><stop offset="1.000" stop-color="#8c0000"/></linearGradient><linearGradient id="dn35" gradientUnits="userSpaceOnUse" x1="437.5" y1="263.5" x2="522.1" y2="201.5"><stop offset="0.000" stop-color="#00deff"/><stop offset="0.054" stop-color="#22ffdd"/><stop offset="0.106" stop-color="#5fffa0"/><stop offset="0.157" stop-color="#97ff68"/><stop offset="0.205" stop-color="#c9ff36"/><stop offset="0.253" stop-color="#f8ff07"/><stop offset="0.299" stop-color="#ffdc00"/><stop offset="0.344" stop-color="#ffb600"/><stop offset="0.388" stop-color="#ff9300"/><stop offset="0.431" stop-color="#ff7300"/><stop offset="0.473" stop-color="#ff5600"/><stop offset="0.514" stop-color="#ff3b00"/><stop offset="0.554" stop-color="#ff2300"/><stop offset="0.594" stop-color="#ff0d00"/><stop offset="0.633" stop-color="#f80000"/><stop offset="0.671" stop-color="#e60000"/><stop offset="0.710" stop-color="#d50000"/><stop offset="0.747" stop-color="#c60000"/><stop offset="0.784" stop-color="#b80000"/><stop offset="0.821" stop-color="#ab0000"/><stop offset="0.857" stop-color="#a00000"/><stop offset="0.893" stop-color="#950000"/><stop offset="0.929" stop-color="#8c0000"/><stop offset="0.965" stop-color="#830000"/><stop offset="1.000" stop-color="#800000"/></linearGradient></defs>
<g><path d="M372.5 242.5L376 239.6L379.6 236.9L383.1 234.3L386.6 231.9L390.1 229.6L393.6 227.4L397.2 225.4L400.7 223.4L404.2 221.5L407.8 219.7L411.3 217.9L414.8 216.2L418.3 214.6L421.9 213.1L425.4 211.5L428.9 210.1L432.4 208.6L436 207.3L439.5 205.9L443 204.6L446.5 203.3L450.1 202L453.6 200.8L457.1 199.5L460.8 200.1L457.2 201.3L453.7 202.6L450.2 203.8L446.7 205.1L443.1 206.5L439.6 207.9L436.1 209.3L432.6 210.7L429 212.2L425.5 213.7L422 215.3L418.5 217L414.9 218.7L411.4 220.5L407.9 222.3L404.4 224.2L400.8 226.3L397.3 228.4L393.8 230.6L390.3 233L386.7 235.5L383.2 238.1L379.7 240.9L376.2 243.8Z" fill="url(#dn0)"/><path d="M374.3 243.2L377.9 240.3L381.4 237.5L384.9 234.9L388.4 232.5L392 230.2L395.5 227.9L399 225.8L402.5 223.8L406.1 221.9L409.6 220.1L413.1 218.3L416.6 216.6L420.2 215L423.7 213.4L427.2 211.9L430.7 210.4L434.3 209L437.8 207.6L441.3 206.2L444.8 204.9L448.4 203.6L451.9 202.3L455.4 201.1L458.9 199.8L462.6 200.3L459.1 201.5L455.5 202.8L452 204L448.5 205.4L445 206.7L441.4 208.1L437.9 209.5L434.4 211L430.9 212.5L427.3 214L423.8 215.6L420.3 217.3L416.8 219L413.2 220.8L409.7 222.7L406.2 224.6L402.7 226.7L399.1 228.8L395.6 231.1L392.1 233.5L388.6 236L385 238.6L381.5 241.5L378 244.5Z" fill="url(#dn1)"/><path d="M376.2 243.8L379.7 240.9L383.2 238.1L386.7 235.5L390.3 233L393.8 230.6L397.3 228.4L400.8 226.3L404.4 224.2L407.9 222.3L411.4 220.5L414.9 218.7L418.5 217L422 215.3L425.5 213.7L429 212.2L432.6 210.7L436.1 209.3L439.6 207.9L443.1 206.5L446.7 205.1L450.2 203.8L453.7 202.6L457.2 201.3L460.8 200.1L464.4 200.4L460.9 201.7L457.4 202.9L453.8 204.2L450.3 205.6L446.8 206.9L443.3 208.3L439.7 209.7L436.2 211.2L432.7 212.7L429.2 214.3L425.6 215.9L422.1 217.5L418.6 219.3L415.1 221.1L411.5 223L408 225L404.5 227L401 229.2L397.4 231.5L393.9 233.9L390.4 236.5L386.9 239.2L383.3 242.1L379.8 245.1Z" fill="url(#dn2)"/><path d="M378 244.5L381.5 241.5L385 238.6L388.6 236L392.1 233.5L395.6 231.1L399.1 228.8L402.7 226.7L406.2 224.6L409.7 222.7L413.2 220.8L416.8 219L420.3 217.3L423.8 215.6L427.3 214L430.9 212.5L434.4 211L437.9 209.5L441.4 208.1L445 206.7L448.5 205.4L452 204L455.5 202.8L459.1 201.5L462.6 200.3L466.3 200.6L462.7 201.8L459.2 203.1L455.7 204.4L452.2 205.7L448.6 207.1L445.1 208.5L441.6 209.9L438.1 211.4L434.5 212.9L431 214.5L427.5 216.1L424 217.8L420.4 219.6L416.9 221.4L413.4 223.3L409.9 225.3L406.3 227.4L402.8 229.6L399.3 231.9L395.8 234.4L392.2 237L388.7 239.7L385.2 242.6L381.7 245.7Z" fill="url(#dn3)"/><path d="M379.8 245.1L383.3 242.1L386.9 239.2L390.4 236.5L393.9 233.9L397.4 231.5L401 229.2L404.5 227L408 225L411.5 223L415.1 221.1L418.6 219.3L422.1 217.5L425.6 215.9L429.2 214.3L432.7 212.7L436.2 211.2L439.7 209.7L443.3 208.3L446.8 206.9L450.3 205.6L453.8 204.2L457.4 202.9L460.9 201.7L464.4 200.4L468.1 200.7L464.6 202L461 203.2L457.5 204.5L454 205.9L450.5 207.2L446.9 208.7L443.4 210.1L439.9 211.6L436.4 213.1L432.8 214.7L429.3 216.4L425.8 218.1L422.3 219.8L418.7 221.7L415.2 223.6L411.7 225.6L408.2 227.8L404.6 230L401.1 232.4L397.6 234.8L394.1 237.5L390.5 240.3L387 243.2L383.5 246.4Z" fill="url(#dn4)"/><path d="M381.7 245.7L385.2 242.6L388.7 239.7L392.2 237L395.8 234.4L399.3 231.9L402.8 229.6L406.3 227.4L409.9 225.3L413.4 223.3L416.9 221.4L420.4 219.6L424 217.8L427.5 216.1L431 214.5L434.5 212.9L438.1 211.4L441.6 209.9L445.1 208.5L448.6 207.1L452.2 205.7L455.7 204.4L459.2 203.1L462.7 201.8L466.3 200.6L469.9 200.8L466.4 202.1L462.9 203.4L459.3 204.7L455.8 206L452.3 207.4L448.8 208.8L445.2 210.3L441.7 211.8L438.2 213.3L434.7 214.9L431.1 216.6L427.6 218.3L424.1 220.1L420.6 222L417 223.9L413.5 226L410 228.1L406.5 230.4L402.9 232.8L399.4 235.3L395.9 237.9L392.4 240.8L388.8 243.8L385.3 247Z" fill="url(#dn5)"/><path d="M383.5 246.4L387 243.2L390.5 240.3L394.1 237.5L397.6 234.8L401.1 232.4L404.6 230L408.2 227.8L411.7 225.6L415.2 223.6L418.7 221.7L422.3 219.8L425.8 218.1L429.3 216.4L432.8 214.7L436.4 213.1L439.9 211.6L443.4 210.1L446.9 208.7L450.5 207.2L454 205.9L457.5 204.5L461 203.2L464.6 202L468.1 200.7L471.7 200.9L468.2 202.2L464.7 203.5L461.2 204.8L457.6 206.2L454.1 207.5L450.6 209L447.1 210.4L443.5 211.9L440 213.5L436.5 215.1L433 216.8L429.4 218.5L425.9 220.3L422.4 222.2L418.9 224.2L415.3 226.3L411.8 228.5L408.3 230.7L404.8 233.2L401.2 235.7L397.7 238.4L394.2 241.3L390.7 244.3L387.1 247.6Z" fill="url(#dn6)"/><path d="M385.3 247L388.8 243.8L392.4 240.8L395.9 237.9L399.4 235.3L402.9 232.8L406.5 230.4L410 228.1L413.5 226L417 223.9L420.6 222L424.1 220.1L427.6 218.3L431.1 216.6L434.7 214.9L438.2 213.3L441.7 211.8L445.2 210.3L448.8 208.8L452.3 207.4L455.8 206L459.3 204.7L462.9 203.4L466.4 202.1L469.9 200.8L473.6 201L470.1 202.3L466.5 203.6L463 204.9L459.5 206.3L456 207.7L452.4 209.1L448.9 210.6L445.4 212.1L441.9 213.7L438.3 215.3L434.8 217L431.3 218.8L427.8 220.6L424.2 222.5L420.7 224.5L417.2 226.6L413.7 228.8L410.1 231.1L406.6 233.6L403.1 236.1L399.6 238.9L396 241.8L392.5 244.9L389 248.2Z" fill="url(#dn7)"/><path d="M387.1 247.6L390.7 244.3L394.2 241.3L397.7 238.4L401.2 235.7L404.8 233.2L408.3 230.7L411.8 228.5L415.3 226.3L418.9 224.2L422.4 222.2L425.9 220.3L429.4 218.5L433 216.8L436.5 215.1L440 213.5L443.5 211.9L447.1 210.4L450.6 209L454.1 207.5L457.6 206.2L461.2 204.8L464.7 203.5L468.2 202.2L471.7 200.9L475.4 201.1L471.9 202.4L468.4 203.7L464.8 205L461.3 206.4L457.8 207.8L454.3 209.2L450.7 210.7L447.2 212.3L443.7 213.8L440.2 215.5L436.6 217.2L433.1 219L429.6 220.8L426.1 222.7L422.5 224.8L419 226.9L415.5 229.1L412 231.5L408.4 233.9L404.9 236.6L401.4 239.3L397.9 242.3L394.3 245.4L390.8 248.8Z" fill="url(#dn8)"/><path d="M389 248.2L392.5 244.9L396 241.8L399.6 238.9L403.1 236.1L406.6 233.6L410.1 231.1L413.7 228.8L417.2 226.6L420.7 224.5L424.2 222.5L427.8 220.6L431.3 218.8L434.8 217L438.3 215.3L441.9 213.7L445.4 212.1L448.9 210.6L452.4 209.1L456 207.7L459.5 206.3L463 204.9L466.5 203.6L470.1 202.3L473.6 201L477.2 201.2L473.7 202.5L470.2 203.8L466.7 205.1L463.1 206.5L459.6 207.9L456.1 209.4L452.6 210.9L449 212.4L445.5 214L442 215.7L438.5 217.4L434.9 219.2L431.4 221L427.9 223L424.4 225L420.8 227.2L417.3 229.4L413.8 231.8L410.3 234.3L406.7 237L403.2 239.8L399.7 242.8L396.2 246L392.6 249.4Z" fill="url(#dn9)"/><path d="M390.8 248.8L394.3 245.4L397.9 242.3L401.4 239.3L404.9 236.6L408.4 233.9L412 231.5L415.5 229.1L419 226.9L422.5 224.8L426.1 222.7L429.6 220.8L433.1 219L436.6 217.2L440.2 215.5L443.7 213.8L447.2 212.3L450.7 210.7L454.3 209.2L457.8 207.8L461.3 206.4L464.8 205L468.4 203.7L471.9 202.4L475.4 201.1L479.1 201.2L475.5 202.5L472 203.9L468.5 205.2L465 206.6L461.4 208L457.9 209.5L454.4 211L450.9 212.5L447.3 214.2L443.8 215.8L440.3 217.6L436.8 219.4L433.2 221.3L429.7 223.2L426.2 225.3L422.7 227.5L419.1 229.8L415.6 232.2L412.1 234.7L408.6 237.4L405 240.3L401.5 243.3L398 246.5L394.5 250Z" fill="url(#dn10)"/><path d="M392.6 249.4L396.2 246L399.7 242.8L403.2 239.8L406.7 237L410.3 234.3L413.8 231.8L417.3 229.4L420.8 227.2L424.4 225L427.9 223L431.4 221L434.9 219.2L438.5 217.4L442 215.7L445.5 214L449 212.4L452.6 210.9L456.1 209.4L459.6 207.9L463.1 206.5L466.7 205.1L470.2 203.8L473.7 202.5L477.2 201.2L480.9 201.3L477.4 202.6L473.8 203.9L470.3 205.3L466.8 206.7L463.3 208.1L459.7 209.6L456.2 211.1L452.7 212.7L449.2 214.3L445.6 216L442.1 217.7L438.6 219.6L435.1 221.5L431.5 223.5L428 225.6L424.5 227.7L421 230.1L417.4 232.5L413.9 235.1L410.4 237.8L406.9 240.7L403.3 243.8L399.8 247.1L396.3 250.6Z" fill="url(#dn11)"/><path d="M394.5 250L398 246.5L401.5 243.3L405 240.3L408.6 237.4L412.1 234.7L415.6 232.2L419.1 229.8L422.7 227.5L426.2 225.3L429.7 223.2L433.2 221.3L436.8 219.4L440.3 217.6L443.8 215.8L447.3 214.2L450.9 212.5L454.4 211L457.9 209.5L461.4 208L465 206.6L468.5 205.2L472 203.9L475.5 202.5L479.1 201.2L482.7 201.4L479.2 202.7L475.7 204L472.2 205.4L468.6 206.8L465.1 208.2L461.6 209.7L458.1 211.2L454.5 212.8L451 214.4L447.5 216.1L444 217.9L440.4 219.8L436.9 221.7L433.4 223.7L429.9 225.8L426.3 228L422.8 230.4L419.3 232.8L415.8 235.4L412.2 238.2L408.7 241.2L405.2 244.3L401.7 247.6L398.1 251.2Z" fill="url(#dn12)"/><path d="M396.3 250.6L399.8 247.1L403.3 243.8L406.9 240.7L410.4 237.8L413.9 235.1L417.4 232.5L421 230.1L424.5 227.7L428 225.6L431.5 223.5L435.1 221.5L438.6 219.6L442.1 217.7L445.6 216L449.2 214.3L452.7 212.7L456.2 211.1L459.7 209.6L463.3 208.1L466.8 206.7L470.3 205.3L473.8 203.9L477.4 202.6L480.9 201.3L484.6 201.4L481 202.7L477.5 204.1L474 205.4L470.5 206.8L466.9 208.3L463.4 209.8L459.9 211.3L456.4 212.9L452.8 214.6L449.3 216.3L445.8 218.1L442.3 219.9L438.7 221.9L435.2 223.9L431.7 226.1L428.2 228.3L424.6 230.7L421.1 233.2L417.6 235.8L414.1 238.6L410.5 241.6L407 244.8L403.5 248.2L400 251.8Z" fill="url(#dn13)"/><path d="M398.1 251.2L401.7 247.6L405.2 244.3L408.7 241.2L412.2 238.2L415.8 235.4L419.3 232.8L422.8 230.4L426.3 228L429.9 225.8L433.4 223.7L436.9 221.7L440.4 219.8L444 217.9L447.5 216.1L451 214.4L454.5 212.8L458.1 211.2L461.6 209.7L465.1 208.2L468.6 206.8L472.2 205.4L475.7 204L479.2 202.7L482.7 201.4L486.4 201.5L482.9 202.8L479.3 204.1L475.8 205.5L472.3 206.9L468.8 208.4L465.2 209.9L461.7 211.4L458.2 213L454.7 214.7L451.1 216.4L447.6 218.2L444.1 220.1L440.6 222.1L437 224.1L433.5 226.3L430 228.6L426.5 231L422.9 233.5L419.4 236.2L415.9 239L412.4 242L408.8 245.3L405.3 248.7L401.8 252.4Z" fill="url(#dn14)"/><path d="M400 251.8L403.5 248.2L407 244.8L410.5 241.6L414.1 238.6L417.6 235.8L421.1 233.2L424.6 230.7L428.2 228.3L431.7 226.1L435.2 223.9L438.7 221.9L442.3 219.9L445.8 218.1L449.3 216.3L452.8 214.6L456.4 212.9L459.9 211.3L463.4 209.8L466.9 208.3L470.5 206.8L474 205.4L477.5 204.1L481 202.7L484.6 201.4L488.2 201.5L484.7 202.8L481.2 204.2L477.6 205.6L474.1 207L470.6 208.5L467.1 210L463.5 211.5L460 213.2L456.5 214.8L453 216.6L449.4 218.4L445.9 220.3L442.4 222.3L438.9 224.4L435.3 226.5L431.8 228.8L428.3 231.3L424.8 233.8L421.2 236.5L417.7 239.4L414.2 242.5L410.7 245.7L407.1 249.2L403.6 252.9Z" fill="url(#dn15)"/><path d="M401.8 252.4L405.3 248.7L408.8 245.3L412.4 242L415.9 239L419.4 236.2L422.9 233.5L426.5 231L430 228.6L433.5 226.3L437 224.1L440.6 222.1L444.1 220.1L447.6 218.2L451.1 216.4L454.7 214.7L458.2 213L461.7 211.4L465.2 209.9L468.8 208.4L472.3 206.9L475.8 205.5L479.3 204.1L482.9 202.8L486.4 201.5L490.1 201.5L486.5 202.9L483 204.2L479.5 205.6L476 207.1L472.4 208.5L468.9 210.1L465.4 211.6L461.9 213.3L458.3 215L454.8 216.7L451.3 218.5L447.8 220.5L444.2 222.5L440.7 224.6L437.2 226.8L433.6 229.1L430.1 231.5L426.6 234.1L423.1 236.9L419.6 239.8L416 242.9L412.5 246.2L409 249.7L405.4 253.5Z" fill="url(#dn16)"/><path d="M403.6 252.9L407.1 249.2L410.7 245.7L414.2 242.5L417.7 239.4L421.2 236.5L424.8 233.8L428.3 231.3L431.8 228.8L435.3 226.5L438.9 224.4L442.4 222.3L445.9 220.3L449.4 218.4L453 216.6L456.5 214.8L460 213.2L463.5 211.5L467.1 210L470.6 208.5L474.1 207L477.6 205.6L481.2 204.2L484.7 202.8L488.2 201.5L491.9 201.6L488.4 202.9L484.8 204.3L481.3 205.7L477.8 207.1L474.3 208.6L470.7 210.1L467.2 211.7L463.7 213.4L460.2 215.1L456.6 216.8L453.1 218.7L449.6 220.6L446.1 222.7L442.5 224.8L439 227L435.5 229.4L432 231.8L428.4 234.5L424.9 237.2L421.4 240.2L417.9 243.3L414.3 246.7L410.8 250.3L407.3 254.1Z" fill="url(#dn17)"/><path d="M405.4 253.5L409 249.7L412.5 246.2L416 242.9L419.6 239.8L423.1 236.9L426.6 234.1L430.1 231.5L433.6 229.1L437.2 226.8L440.7 224.6L444.2 222.5L447.8 220.5L451.3 218.5L454.8 216.7L458.3 215L461.9 213.3L465.4 211.6L468.9 210.1L472.4 208.5L476 207.1L479.5 205.6L483 204.2L486.5 202.9L490.1 201.5L493.7 201.6L490.2 202.9L486.7 204.3L483.1 205.7L479.6 207.2L476.1 208.7L472.6 210.2L469 211.8L465.5 213.5L462 215.2L458.5 217L454.9 218.8L451.4 220.8L447.9 222.8L444.4 225L440.8 227.2L437.3 229.6L433.8 232.1L430.3 234.8L426.7 237.6L423.2 240.6L419.7 243.8L416.2 247.2L412.6 250.8L409.1 254.7Z" fill="url(#dn18)"/><path d="M407.3 254.1L410.8 250.3L414.3 246.7L417.9 243.3L421.4 240.2L424.9 237.2L428.4 234.5L432 231.8L435.5 229.4L439 227L442.5 224.8L446.1 222.7L449.6 220.6L453.1 218.7L456.6 216.8L460.2 215.1L463.7 213.4L467.2 211.7L470.7 210.1L474.3 208.6L477.8 207.1L481.3 205.7L484.8 204.3L488.4 202.9L491.9 201.6L495.5 201.6L492 203L488.5 204.3L485 205.8L481.4 207.2L477.9 208.7L474.4 210.3L470.9 211.9L467.3 213.6L463.8 215.3L460.3 217.1L456.8 219L453.2 220.9L449.7 223L446.2 225.2L442.7 227.5L439.1 229.9L435.6 232.4L432.1 235.1L428.6 237.9L425 241L421.5 244.2L418 247.6L414.5 251.3L410.9 255.3Z" fill="url(#dn19)"/><path d="M409.1 254.7L412.6 250.8L416.2 247.2L419.7 243.8L423.2 240.6L426.7 237.6L430.3 234.8L433.8 232.1L437.3 229.6L440.8 227.2L444.4 225L447.9 222.8L451.4 220.8L454.9 218.8L458.5 217L462 215.2L465.5 213.5L469 211.8L472.6 210.2L476.1 208.7L479.6 207.2L483.1 205.7L486.7 204.3L490.2 202.9L493.7 201.6L497.4 201.6L493.8 203L490.3 204.4L486.8 205.8L483.3 207.3L479.7 208.8L476.2 210.3L472.7 212L469.2 213.6L465.6 215.4L462.1 217.2L458.6 219.1L455.1 221.1L451.5 223.2L448 225.4L444.5 227.7L441 230.1L437.4 232.7L433.9 235.4L430.4 238.3L426.9 241.3L423.3 244.6L419.8 248.1L416.3 251.8L412.8 255.8Z" fill="url(#dn20)"/><path d="M410.9 255.3L414.5 251.3L418 247.6L421.5 244.2L425 241L428.6 237.9L432.1 235.1L435.6 232.4L439.1 229.9L442.7 227.5L446.2 225.2L449.7 223L453.2 220.9L456.8 219L460.3 217.1L463.8 215.3L467.3 213.6L470.9 211.9L474.4 210.3L477.9 208.7L481.4 207.2L485 205.8L488.5 204.3L492 203L495.5 201.6L499.2 201.6L495.7 203L492.2 204.4L488.6 205.8L485.1 207.3L481.6 208.8L478.1 210.4L474.5 212L471 213.7L467.5 215.5L464 217.3L460.4 219.2L456.9 221.3L453.4 223.4L449.9 225.6L446.3 227.9L442.8 230.3L439.3 232.9L435.8 235.7L432.2 238.6L428.7 241.7L425.2 245L421.7 248.6L418.1 252.4L414.6 256.4Z" fill="url(#dn21)"/><path d="M412.8 255.8L416.3 251.8L419.8 248.1L423.3 244.6L426.9 241.3L430.4 238.3L433.9 235.4L437.4 232.7L441 230.1L444.5 227.7L448 225.4L451.5 223.2L455.1 221.1L458.6 219.1L462.1 217.2L465.6 215.4L469.2 213.6L472.7 212L476.2 210.3L479.7 208.8L483.3 207.3L486.8 205.8L490.3 204.4L493.8 203L497.4 201.6L501 201.6L497.5 203L494 204.4L490.5 205.9L486.9 207.3L483.4 208.9L479.9 210.5L476.4 212.1L472.8 213.8L469.3 215.6L465.8 217.4L462.3 219.4L458.7 221.4L455.2 223.5L451.7 225.8L448.2 228.1L444.6 230.6L441.1 233.2L437.6 236L434.1 239L430.5 242.1L427 245.5L423.5 249L420 252.9L416.4 257Z" fill="url(#dn22)"/><path d="M414.6 256.4L418.1 252.4L421.7 248.6L425.2 245L428.7 241.7L432.2 238.6L435.8 235.7L439.3 232.9L442.8 230.3L446.3 227.9L449.9 225.6L453.4 223.4L456.9 221.3L460.4 219.2L464 217.3L467.5 215.5L471 213.7L474.5 212L478.1 210.4L481.6 208.8L485.1 207.3L488.6 205.8L492.2 204.4L495.7 203L499.2 201.6L502.9 201.6L499.3 203L495.8 204.4L492.3 205.9L488.8 207.4L485.2 208.9L481.7 210.5L478.2 212.2L474.7 213.9L471.1 215.7L467.6 217.6L464.1 219.5L460.6 221.5L457 223.7L453.5 225.9L450 228.3L446.5 230.8L442.9 233.5L439.4 236.3L435.9 239.3L432.4 242.5L428.8 245.9L425.3 249.5L421.8 253.4L418.3 257.6Z" fill="url(#dn23)"/><path d="M416.4 257L420 252.9L423.5 249L427 245.5L430.5 242.1L434.1 239L437.6 236L441.1 233.2L444.6 230.6L448.2 228.1L451.7 225.8L455.2 223.5L458.7 221.4L462.3 219.4L465.8 217.4L469.3 215.6L472.8 213.8L476.4 212.1L479.9 210.5L483.4 208.9L486.9 207.3L490.5 205.9L494 204.4L497.5 203L501 201.6L504.7 201.6L501.2 203L497.6 204.4L494.1 205.9L490.6 207.4L487.1 209L483.5 210.6L480 212.2L476.5 214L473 215.8L469.4 217.7L465.9 219.6L462.4 221.7L458.9 223.9L455.3 226.1L451.8 228.5L448.3 231.1L444.8 233.8L441.2 236.6L437.7 239.6L434.2 242.9L430.7 246.3L427.1 250L423.6 253.9L420.1 258.1Z" fill="url(#dn24)"/><path d="M418.3 257.6L421.8 253.4L425.3 249.5L428.8 245.9L432.4 242.5L435.9 239.3L439.4 236.3L442.9 233.5L446.5 230.8L450 228.3L453.5 225.9L457 223.7L460.6 221.5L464.1 219.5L467.6 217.6L471.1 215.7L474.7 213.9L478.2 212.2L481.7 210.5L485.2 208.9L488.8 207.4L492.3 205.9L495.8 204.4L499.3 203L502.9 201.6L506.5 201.6L503 203L499.5 204.5L495.9 205.9L492.4 207.4L488.9 209L485.4 210.6L481.8 212.3L478.3 214.1L474.8 215.9L471.3 217.8L467.7 219.7L464.2 221.8L460.7 224L457.2 226.3L453.6 228.7L450.1 231.3L446.6 234L443.1 236.9L439.5 240L436 243.2L432.5 246.7L429 250.4L425.4 254.4L421.9 258.7Z" fill="url(#dn25)"/><path d="M420.1 258.1L423.6 253.9L427.1 250L430.7 246.3L434.2 242.9L437.7 239.6L441.2 236.6L444.8 233.8L448.3 231.1L451.8 228.5L455.3 226.1L458.9 223.9L462.4 221.7L465.9 219.6L469.4 217.7L473 215.8L476.5 214L480 212.2L483.5 210.6L487.1 209L490.6 207.4L494.1 205.9L497.6 204.4L501.2 203L504.7 201.6L508.4 201.6L504.8 203L501.3 204.5L497.8 205.9L494.3 207.5L490.7 209L487.2 210.7L483.7 212.4L480.2 214.1L476.6 216L473.1 217.9L469.6 219.9L466.1 222L462.5 224.2L459 226.5L455.5 228.9L452 231.5L448.4 234.3L444.9 237.2L441.4 240.3L437.9 243.6L434.3 247.1L430.8 250.9L427.3 254.9L423.8 259.3Z" fill="url(#dn26)"/><path d="M421.9 258.7L425.4 254.4L429 250.4L432.5 246.7L436 243.2L439.5 240L443.1 236.9L446.6 234L450.1 231.3L453.6 228.7L457.2 226.3L460.7 224L464.2 221.8L467.7 219.7L471.3 217.8L474.8 215.9L478.3 214.1L481.8 212.3L485.4 210.6L488.9 209L492.4 207.4L495.9 205.9L499.5 204.5L503 203L506.5 201.6L510.2 201.6L506.7 203L503.1 204.5L499.6 206L496.1 207.5L492.6 209.1L489 210.7L485.5 212.4L482 214.2L478.5 216L474.9 218L471.4 220L467.9 222.1L464.4 224.3L460.8 226.7L457.3 229.1L453.8 231.8L450.3 234.5L446.7 237.5L443.2 240.6L439.7 244L436.2 247.5L432.6 251.4L429.1 255.4L425.6 259.8Z" fill="url(#dn27)"/><path d="M423.8 259.3L427.3 254.9L430.8 250.9L434.3 247.1L437.9 243.6L441.4 240.3L444.9 237.2L448.4 234.3L452 231.5L455.5 228.9L459 226.5L462.5 224.2L466.1 222L469.6 219.9L473.1 217.9L476.6 216L480.2 214.1L483.7 212.4L487.2 210.7L490.7 209L494.3 207.5L497.8 205.9L501.3 204.5L504.8 203L508.4 201.6L512 201.6L508.5 203L505 204.5L501.4 206L497.9 207.5L494.4 209.1L490.9 210.8L487.3 212.5L483.8 214.3L480.3 216.1L476.8 218.1L473.2 220.1L469.7 222.2L466.2 224.5L462.7 226.8L459.1 229.3L455.6 232L452.1 234.8L448.6 237.8L445 240.9L441.5 244.3L438 247.9L434.5 251.8L430.9 256L427.4 260.4Z" fill="url(#dn28)"/><path d="M425.6 259.8L429.1 255.4L432.6 251.4L436.2 247.5L439.7 244L443.2 240.6L446.7 237.5L450.3 234.5L453.8 231.8L457.3 229.1L460.8 226.7L464.4 224.3L467.9 222.1L471.4 220L474.9 218L478.5 216L482 214.2L485.5 212.4L489 210.7L492.6 209.1L496.1 207.5L499.6 206L503.1 204.5L506.7 203L510.2 201.6L513.8 201.6L510.3 203L506.8 204.5L503.3 206L499.7 207.5L496.2 209.1L492.7 210.8L489.2 212.5L485.6 214.3L482.1 216.2L478.6 218.1L475.1 220.2L471.5 222.4L468 224.6L464.5 227L461 229.5L457.4 232.2L453.9 235L450.4 238.1L446.9 241.3L443.3 244.7L439.8 248.4L436.3 252.3L432.8 256.5L429.2 261Z" fill="url(#dn29)"/><path d="M427.4 260.4L430.9 256L434.5 251.8L438 247.9L441.5 244.3L445 240.9L448.6 237.8L452.1 234.8L455.6 232L459.1 229.3L462.7 226.8L466.2 224.5L469.7 222.2L473.2 220.1L476.8 218.1L480.3 216.1L483.8 214.3L487.3 212.5L490.9 210.8L494.4 209.1L497.9 207.5L501.4 206L505 204.5L508.5 203L512 201.6L515.7 201.6L512.2 203L508.6 204.5L505.1 206L501.6 207.5L498.1 209.1L494.5 210.8L491 212.6L487.5 214.4L484 216.3L480.4 218.2L476.9 220.3L473.4 222.5L469.9 224.8L466.3 227.2L462.8 229.7L459.3 232.4L455.8 235.3L452.2 238.3L448.7 241.6L445.2 245.1L441.7 248.8L438.1 252.7L434.6 257L431.1 261.5Z" fill="url(#dn30)"/><path d="M429.2 261L432.8 256.5L436.3 252.3L439.8 248.4L443.3 244.7L446.9 241.3L450.4 238.1L453.9 235L457.4 232.2L461 229.5L464.5 227L468 224.6L471.5 222.4L475.1 220.2L478.6 218.1L482.1 216.2L485.6 214.3L489.2 212.5L492.7 210.8L496.2 209.1L499.7 207.5L503.3 206L506.8 204.5L510.3 203L513.8 201.6L517.5 201.6L514 203L510.5 204.5L506.9 206L503.4 207.5L499.9 209.2L496.4 210.9L492.8 212.6L489.3 214.4L485.8 216.3L482.3 218.3L478.7 220.4L475.2 222.6L471.7 224.9L468.2 227.4L464.6 229.9L461.1 232.7L457.6 235.6L454.1 238.6L450.5 241.9L447 245.4L443.5 249.2L440 253.2L436.4 257.5L432.9 262.1Z" fill="url(#dn31)"/><path d="M431.1 261.5L434.6 257L438.1 252.7L441.7 248.8L445.2 245.1L448.7 241.6L452.2 238.3L455.8 235.3L459.3 232.4L462.8 229.7L466.3 227.2L469.9 224.8L473.4 222.5L476.9 220.3L480.4 218.2L484 216.3L487.5 214.4L491 212.6L494.5 210.8L498.1 209.1L501.6 207.5L505.1 206L508.6 204.5L512.2 203L515.7 201.6L519.3 201.5L515.8 203L512.3 204.4L508.8 206L505.2 207.6L501.7 209.2L498.2 210.9L494.7 212.6L491.1 214.5L487.6 216.4L484.1 218.4L480.6 220.5L477 222.7L473.5 225.1L470 227.5L466.5 230.1L462.9 232.9L459.4 235.8L455.9 238.9L452.4 242.2L448.8 245.8L445.3 249.6L441.8 253.6L438.3 258L434.7 262.7Z" fill="url(#dn32)"/><path d="M432.9 262.1L436.4 257.5L440 253.2L443.5 249.2L447 245.4L450.5 241.9L454.1 238.6L457.6 235.6L461.1 232.7L464.6 229.9L468.2 227.4L471.7 224.9L475.2 222.6L478.7 220.4L482.3 218.3L485.8 216.3L489.3 214.4L492.8 212.6L496.4 210.9L499.9 209.2L503.4 207.5L506.9 206L510.5 204.5L514 203L517.5 201.6L521.2 201.5L517.6 202.9L514.1 204.4L510.6 206L507.1 207.6L503.5 209.2L500 210.9L496.5 212.7L493 214.5L489.4 216.5L485.9 218.5L482.4 220.6L478.9 222.8L475.3 225.2L471.8 227.7L468.3 230.3L464.8 233.1L461.2 236L457.7 239.2L454.2 242.5L450.7 246.1L447.1 250L443.6 254.1L440.1 258.5L436.6 263.2Z" fill="url(#dn33)"/><path d="M434.7 262.7L438.3 258L441.8 253.6L445.3 249.6L448.8 245.8L452.4 242.2L455.9 238.9L459.4 235.8L462.9 232.9L466.5 230.1L470 227.5L473.5 225.1L477 222.7L480.6 220.5L484.1 218.4L487.6 216.4L491.1 214.5L494.7 212.6L498.2 210.9L501.7 209.2L505.2 207.6L508.8 206L512.3 204.4L515.8 203L519.3 201.5L523 201.5L519.5 202.9L516 204.4L512.4 206L508.9 207.6L505.4 209.2L501.9 210.9L498.3 212.7L494.8 214.6L491.3 216.5L487.8 218.6L484.2 220.7L480.7 223L477.2 225.3L473.6 227.8L470.1 230.5L466.6 233.3L463.1 236.3L459.5 239.5L456 242.9L452.5 246.5L449 250.4L445.4 254.5L441.9 259L438.4 263.8Z" fill="url(#dn34)"/><path d="M436.6 263.2L440.1 258.5L443.6 254.1L447.1 250L450.7 246.1L454.2 242.5L457.7 239.2L461.2 236L464.8 233.1L468.3 230.3L471.8 227.7L475.3 225.2L478.9 222.8L482.4 220.6L485.9 218.5L489.4 216.5L493 214.5L496.5 212.7L500 210.9L503.5 209.2L507.1 207.6L510.6 206L514.1 204.4L517.6 202.9L521.2 201.5L523 201.5L519.5 202.9L516 204.4L512.4 206L508.9 207.6L505.4 209.2L501.9 210.9L498.3 212.7L494.8 214.6L491.3 216.5L487.8 218.6L484.2 220.7L480.7 223L477.2 225.3L473.6 227.8L470.1 230.5L466.6 233.3L463.1 236.3L459.5 239.5L456 242.9L452.5 246.5L449 250.4L445.4 254.5L441.9 259L438.4 263.8Z" fill="url(#dn35)"/></g>
<line x1="372.5" y1="253.5" x2="372.5" y2="186.3" stroke="#3c3c3c" stroke-width="0.6"/>
<line x1="372.5" y1="253.5" x2="438.4" y2="286" stroke="#3c3c3c" stroke-width="0.6"/>
<line x1="438.4" y1="286" x2="523" y2="262" stroke="#3c3c3c" stroke-width="0.6"/>
<line x1="372.5" y1="253.5" x2="370.9" y2="253.8" stroke="#3c3c3c" stroke-width="0.6"/>
<line x1="372.5" y1="240.06" x2="370.9" y2="240.36" stroke="#3c3c3c" stroke-width="0.6"/>
<line x1="372.5" y1="226.62" x2="370.9" y2="226.92" stroke="#3c3c3c" stroke-width="0.6"/>
<line x1="372.5" y1="213.18" x2="370.9" y2="213.48" stroke="#3c3c3c" stroke-width="0.6"/>
<line x1="372.5" y1="199.74" x2="370.9" y2="200.04" stroke="#3c3c3c" stroke-width="0.6"/>
<line x1="372.5" y1="186.3" x2="370.9" y2="186.6" stroke="#3c3c3c" stroke-width="0.6"/>
<line x1="372.5" y1="253.5" x2="370.96" y2="253.94" stroke="#3c3c3c" stroke-width="0.6"/>
<line x1="388.98" y1="261.62" x2="387.44" y2="262.06" stroke="#3c3c3c" stroke-width="0.6"/>
<line x1="405.45" y1="269.75" x2="403.91" y2="270.19" stroke="#3c3c3c" stroke-width="0.6"/>
<line x1="421.92" y1="277.88" x2="420.39" y2="278.31" stroke="#3c3c3c" stroke-width="0.6"/>
<line x1="438.4" y1="286" x2="436.86" y2="286.44" stroke="#3c3c3c" stroke-width="0.6"/>
<line x1="438.4" y1="286" x2="439.83" y2="286.71" stroke="#3c3c3c" stroke-width="0.6"/>
<line x1="459.55" y1="280" x2="460.98" y2="280.71" stroke="#3c3c3c" stroke-width="0.6"/>
<line x1="480.7" y1="274" x2="482.13" y2="274.71" stroke="#3c3c3c" stroke-width="0.6"/>
<line x1="501.85" y1="268" x2="503.28" y2="268.71" stroke="#3c3c3c" stroke-width="0.6"/>
<line x1="523" y1="262" x2="524.43" y2="262.71" stroke="#3c3c3c" stroke-width="0.6"/>
<g class="tk"><text x="369.6" y="252.9" text-anchor="end">0</text><text x="369.6" y="240.76" text-anchor="end">20</text><text x="369.6" y="227.32" text-anchor="end">40</text><text x="369.6" y="213.88" text-anchor="end">60</text><text x="369.6" y="200.44" text-anchor="end">80</text><text x="369.6" y="187" text-anchor="end">100</text><text x="368.9" y="258.7" text-anchor="end">0</text><text x="385.38" y="265.62" text-anchor="end">10</text><text x="401.85" y="273.75" text-anchor="end">20</text><text x="418.32" y="281.88" text-anchor="end">30</text><text x="434.8" y="290" text-anchor="end">40</text><text x="441" y="290.8" text-anchor="start">2</text><text x="462.15" y="284.8" text-anchor="start">4</text><text x="483.3" y="278.8" text-anchor="start">6</text><text x="504.45" y="272.8" text-anchor="start">8</text><text x="523.4" y="266.8" text-anchor="start">10</text></g>
<linearGradient id="cbd" x1="0" y1="0" x2="0" y2="1"><stop offset="0" stop-color="#800000"/><stop offset="0.06" stop-color="#bf0000"/><stop offset="0.12" stop-color="#ff0000"/><stop offset="0.19" stop-color="#ff4000"/><stop offset="0.25" stop-color="#ff8000"/><stop offset="0.31" stop-color="#ffbf00"/><stop offset="0.38" stop-color="#ffff00"/><stop offset="0.44" stop-color="#bfff40"/><stop offset="0.5" stop-color="#80ff80"/><stop offset="0.56" stop-color="#40ffbf"/><stop offset="0.62" stop-color="#00ffff"/><stop offset="0.69" stop-color="#00bfff"/><stop offset="0.75" stop-color="#0080ff"/><stop offset="0.81" stop-color="#0040ff"/><stop offset="0.88" stop-color="#0000ff"/><stop offset="0.94" stop-color="#0000bf"/><stop offset="1" stop-color="#000080"/></linearGradient>
<rect x="533.6" y="163" width="5.9" height="122.6" fill="url(#cbd)" stroke="#555" stroke-width="0.3"/>
<line x1="538.5" y1="280.54" x2="539.5" y2="280.54" stroke="#444" stroke-width="0.4"/>
<line x1="538.5" y1="265.66" x2="539.5" y2="265.66" stroke="#444" stroke-width="0.4"/>
<line x1="538.5" y1="250.78" x2="539.5" y2="250.78" stroke="#444" stroke-width="0.4"/>
<line x1="538.5" y1="235.91" x2="539.5" y2="235.91" stroke="#444" stroke-width="0.4"/>
<line x1="538.5" y1="221.03" x2="539.5" y2="221.03" stroke="#444" stroke-width="0.4"/>
<line x1="538.5" y1="206.15" x2="539.5" y2="206.15" stroke="#444" stroke-width="0.4"/>
<line x1="538.5" y1="191.27" x2="539.5" y2="191.27" stroke="#444" stroke-width="0.4"/>
<line x1="538.5" y1="176.39" x2="539.5" y2="176.39" stroke="#444" stroke-width="0.4"/>
<g class="tk"><text x="541.7" y="281.99">10</text><text x="541.7" y="267.11">20</text><text x="541.7" y="252.23">30</text><text x="541.7" y="237.36">40</text><text x="541.7" y="222.48">50</text><text x="541.7" y="207.6">60</text><text x="541.7" y="192.72">70</text><text x="541.7" y="177.84">80</text></g>
<g class="ax" text-anchor="middle">
<text transform="translate(342.5 65) rotate(-90)">Subambient</text>
<text transform="translate(350 65) rotate(-90)">Temperature</text>
<text transform="translate(357.2 65) rotate(-90)">Reduction (°C)</text>
<text transform="translate(388.2 123.6) rotate(32.4)">Inlet Temperature (°C)</text>
<text transform="translate(490.6 131.4) rotate(-17.8)" style="font-size:5.95px">Air Flow Rate (L/(m<tspan dy="-2" font-size="4">2</tspan><tspan dy="2">s))</tspan></text>
<text transform="translate(344.4 221.1) rotate(-90)" style="font-size:6.35px">Net Cooling Power</text>
<text transform="translate(353.2 220) rotate(-90)" style="font-size:6.5px">(W/m<tspan dy="-2" font-size="4">2</tspan><tspan dy="2">)</tspan></text>
<text transform="translate(390.3 282.4) rotate(26.4)" style="font-size:6.35px">Inlet Temperature (°C)</text>
<text transform="translate(492.3 289.3) rotate(-15.8)" style="font-size:6.2px">Air Flow Rate (L/(m<tspan dy="-2" font-size="4">2</tspan><tspan dy="2">s))</tspan></text>
</g>
<g class="sl">
<text x="434.4" y="77.8">Nighttime</text>
<text x="425.8" y="96.6">Daytime</text>
<text x="476.3" y="209">Nighttime</text>
<text x="488" y="228.4">Daytime</text>
</g>
</svg>
</body>
</html>
